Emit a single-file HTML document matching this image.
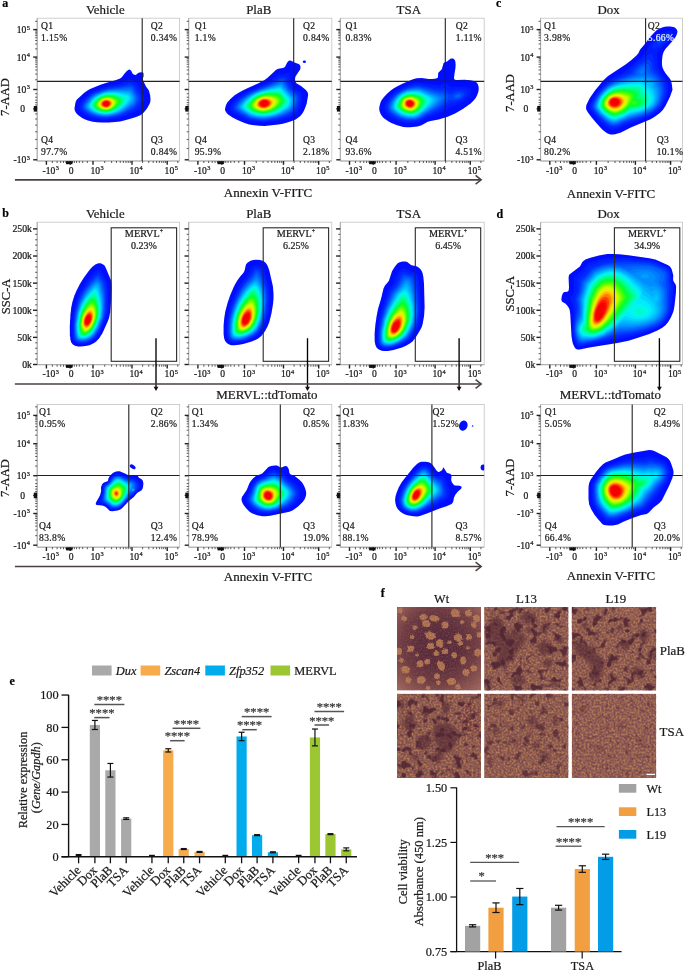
<!DOCTYPE html>
<html><head><meta charset="utf-8"><style>
html,body{margin:0;padding:0;background:#fff;}
svg{display:block;font-family:"Liberation Serif","Times New Roman",serif;}
text{stroke:#1a1a1a;stroke-width:0.22px;}
text.w{stroke:#e8f0ff;}
</style></head><body>
<svg width="685" height="972" viewBox="0 0 685 972">
<defs><filter id="bl" x="-10%" y="-10%" width="120%" height="120%"><feGaussianBlur stdDeviation="0.6"/></filter></defs>
<rect width="685" height="972" fill="#fff"/>
<text x="2.3" y="7.2" font-size="12" font-weight="bold" fill="#000">a</text>
<text x="496" y="7.2" font-size="12" font-weight="bold" fill="#000">c</text>
<text x="2.3" y="216.8" font-size="12" font-weight="bold" fill="#000">b</text>
<text x="496.6" y="217.8" font-size="12" font-weight="bold" fill="#000">d</text>
<text x="105.3" y="14.3" font-size="12.9" text-anchor="middle" fill="#1a1a1a">Vehicle</text>
<text x="105.3" y="218.2" font-size="12.9" text-anchor="middle" fill="#1a1a1a">Vehicle</text>
<text x="258.7" y="14.3" font-size="12.9" text-anchor="middle" fill="#1a1a1a">PlaB</text>
<text x="258.7" y="218.2" font-size="12.9" text-anchor="middle" fill="#1a1a1a">PlaB</text>
<text x="408.8" y="14.3" font-size="12.9" text-anchor="middle" fill="#1a1a1a">TSA</text>
<text x="408.8" y="218.2" font-size="12.9" text-anchor="middle" fill="#1a1a1a">TSA</text>
<text x="608.6" y="14.3" font-size="12.9" text-anchor="middle" fill="#1a1a1a">Dox</text>
<text x="608.6" y="218.2" font-size="12.9" text-anchor="middle" fill="#1a1a1a">Dox</text>
<rect x="37.2" y="18.2" width="142.4" height="142.8" fill="none" stroke="#c9c9c9" stroke-width="0.9"/>
<line x1="37.2" y1="18.2" x2="37.2" y2="161" stroke="#a8a8a8" stroke-width="1"/>
<line x1="37.2" y1="161" x2="179.6" y2="161" stroke="#a8a8a8" stroke-width="1"/>
<clipPath id="clip_a0"><rect x="37.2" y="18.2" width="142.4" height="142.8"/></clipPath><g clip-path="url(#clip_a0)"><g filter="url(#bl)"><path d="M74.6 107.7 75.5 102.5 76.0 101.0 76.9 99.5 84.0 93.0 87.1 90.7 90.1 89.0 100.5 84.7 106.7 82.7 115.4 80.2 120.1 78.5 121.8 77.2 124.6 73.5 126.9 71.0 128.2 69.9 129.0 69.6 129.9 69.7 131.0 70.5 132.7 73.7 133.3 74.3 134.4 74.8 135.6 74.9 136.4 74.6 138.2 73.0 139.5 72.4 141.9 72.2 142.9 72.4 143.4 72.9 143.6 74.5 143.5 76.5 142.9 78.8 143.0 80.0 143.9 82.3 146.0 86.5 148.4 89.7 149.0 91.0 150.2 95.5 150.5 99.7 150.2 101.9 149.5 104.0 147.0 108.6 143.5 112.8 141.8 114.2 139.8 115.4 136.0 117.0 132.1 118.3 124.1 120.6 120.0 121.5 115.1 122.1 108.7 122.6 102.4 122.6 96.9 122.3 93.0 121.7 87.9 120.4 84.0 119.0 81.5 117.6 78.0 115.0 76.1 113.0 74.7 110.2 74.5 108.3Z" fill="#000aff" fill-rule="evenodd"/><path d="M107.6 119.6 101.6 119.6 95.1 118.7 89.8 117.1 84.5 114.6 81.1 111.9 79.5 109.1 79.4 105.6 80.6 102.1 84.3 97.9 89.5 93.4 93.6 91.0 100.6 88.1 107.9 86.0 121.1 83.1 128.4 79.4 129.9 79.5 136.1 81.9 137.2 83.1 142.7 93.1 143.8 96.4 144.0 99.1 143.6 101.6 140.6 107.4 138.6 109.4 135.6 111.4 125.4 116.0 118.4 118.2 107.6 119.6Z" fill="#001eff" fill-rule="evenodd"/><path d="M108.4 118.4 102.6 118.4 96.9 117.7 91.9 116.4 86.6 114.0 83.3 111.6 81.5 109.1 81.1 106.4 82.1 103.1 85.4 98.9 90.4 94.4 94.6 91.9 101.1 89.3 108.9 87.1 121.9 85.0 128.9 82.4 131.1 82.7 134.4 84.2 135.6 85.7 140.1 93.6 141.3 96.6 141.5 98.9 141.1 101.1 138.5 106.1 136.9 107.9 134.1 109.9 124.4 114.7 117.9 116.8 108.4 118.4Z" fill="#002cff" fill-rule="evenodd"/><path d="M105.6 117.6 99.1 117.2 93.6 115.9 88.1 113.5 84.7 111.1 82.9 108.8 82.5 106.1 83.3 103.6 85.9 100.1 89.6 96.4 92.6 94.1 96.4 92.2 102.6 89.7 110.1 87.9 122.6 86.3 128.9 84.6 130.9 84.7 133.2 85.9 134.4 87.4 138.4 94.3 139.4 97.1 139.2 100.9 136.6 105.6 134.4 107.6 131.3 109.6 120.9 114.8 113.1 116.8 105.6 117.6Z" fill="#003fff" fill-rule="evenodd"/><path d="M107.1 116.9 102.1 116.8 97.1 116.0 92.6 114.6 88.4 112.5 85.5 110.4 84.0 108.4 83.6 106.1 84.6 103.6 87.6 99.6 91.8 95.6 95.6 93.3 101.9 90.8 109.4 88.9 122.7 87.6 128.9 86.4 130.6 86.5 132.1 87.2 133.4 88.7 136.6 94.4 137.8 97.4 137.6 100.6 135.5 104.6 133.4 106.6 130.1 108.9 121.3 113.6 115.1 115.6 107.1 116.9Z" fill="#0056ff" fill-rule="evenodd"/><path d="M106.1 116.4 100.4 116.0 94.9 114.7 89.4 112.2 85.9 109.6 84.7 107.6 84.7 105.4 86.3 102.4 89.2 98.9 92.1 96.2 95.4 94.1 100.9 91.7 104.9 90.5 111.4 89.3 123.1 88.6 128.9 87.8 130.4 87.9 131.7 88.6 135.5 94.9 136.6 97.6 136.2 100.9 134.1 104.4 127.9 109.1 120.1 113.4 113.1 115.5 106.1 116.4Z" fill="#0069ff" fill-rule="evenodd"/><path d="M108.9 115.6 104.6 115.8 100.4 115.5 96.4 114.6 92.4 113.0 88.6 110.8 86.2 108.6 85.5 106.6 86.1 104.4 88.9 100.4 92.6 96.6 96.6 94.2 102.6 91.7 108.4 90.3 113.4 89.8 128.9 89.3 131.1 90.1 134.2 94.9 135.4 97.9 135.0 100.6 133.4 103.4 127.9 107.9 121.0 112.1 115.9 114.1 108.9 115.6Z" fill="#007cff" fill-rule="evenodd"/><path d="M107.6 115.4 103.4 115.4 99.1 114.8 95.1 113.7 91.7 112.1 88.4 109.9 86.6 108.0 86.2 106.1 87.0 103.9 90.2 99.6 93.4 96.6 97.6 94.1 103.4 91.9 108.9 90.7 114.1 90.3 128.6 90.3 130.9 91.2 133.5 95.4 134.5 98.1 134.0 100.9 132.2 103.4 125.7 108.6 119.9 112.1 114.1 114.2 107.6 115.4Z" fill="#008dff" fill-rule="evenodd"/><path d="M108.9 114.9 104.9 115.1 101.1 114.8 97.1 113.9 93.4 112.4 89.6 110.2 87.6 108.3 86.9 106.6 87.5 104.4 90.4 100.1 93.6 97.0 97.6 94.6 103.4 92.3 108.9 91.1 114.1 90.8 128.1 91.3 130.4 92.1 132.6 95.4 133.5 98.1 133.1 100.5 131.5 102.9 125.6 107.9 120.2 111.4 115.1 113.4 108.9 114.9Z" fill="#009fff" fill-rule="evenodd"/><path d="M107.6 114.6 102.6 114.6 97.4 113.5 92.9 111.6 88.7 108.6 87.7 106.9 87.9 104.9 89.7 101.9 92.7 98.4 95.9 96.0 100.1 93.9 103.9 92.5 108.9 91.6 115.1 91.3 127.4 92.2 129.1 92.6 130.4 93.6 132.2 96.6 132.5 99.1 131.4 101.6 128.4 104.6 123.4 108.8 118.6 111.6 113.1 113.6 107.6 114.6Z" fill="#00b0ff" fill-rule="evenodd"/><path d="M108.6 114.1 104.9 114.4 101.1 114.0 97.4 113.1 93.9 111.6 90.5 109.4 88.8 107.6 88.4 105.9 89.1 103.9 91.9 99.9 94.9 97.1 99.4 94.6 104.6 92.8 110.1 91.9 115.9 91.9 127.4 93.3 128.9 93.7 129.9 94.5 131.4 97.1 131.4 99.4 130.1 101.6 126.7 105.1 122.5 108.6 118.4 111.2 113.6 113.0 108.6 114.1Z" fill="#00c3fe" fill-rule="evenodd"/><path d="M107.4 113.9 102.6 113.8 97.6 112.7 93.2 110.6 89.8 107.9 89.1 106.1 89.7 104.1 91.9 100.6 94.4 98.1 97.6 95.9 101.9 94.0 105.4 93.0 109.9 92.4 114.6 92.4 120.6 93.1 127.4 94.4 129.4 95.6 130.5 97.9 130.0 99.9 127.3 103.4 123.1 107.4 119.6 109.9 116.1 111.6 111.6 113.1 107.4 113.9Z" fill="#00d7fc" fill-rule="evenodd"/><path d="M108.4 113.4 103.9 113.5 99.4 112.8 95.1 111.1 91.8 108.9 90.2 107.1 89.9 105.6 90.7 103.4 92.8 100.4 95.8 97.6 99.6 95.4 103.9 93.8 108.6 92.9 113.4 92.8 118.6 93.5 126.4 95.2 128.6 96.5 129.3 98.1 128.6 100.1 125.8 103.6 122.0 107.4 116.1 111.1 112.1 112.6 108.4 113.4Z" fill="#00ebfb" fill-rule="evenodd"/><path d="M107.1 113.1 102.6 113.0 98.1 111.9 94.1 109.9 91.2 107.4 90.7 105.6 91.3 103.6 93.3 100.6 95.8 98.1 99.1 96.1 102.9 94.5 106.4 93.7 110.4 93.3 114.6 93.5 119.4 94.4 125.5 96.1 127.4 97.4 127.7 98.9 126.6 101.1 123.3 105.1 120.0 108.1 114.1 111.4 110.6 112.6 107.1 113.1Z" fill="#00f7e9" fill-rule="evenodd"/><path d="M108.1 112.6 104.1 112.8 100.1 112.1 96.4 110.6 93.3 108.6 91.8 106.9 91.5 105.4 92.3 103.1 94.2 100.4 97.0 97.9 100.6 95.8 104.4 94.5 108.6 93.8 112.9 93.9 117.4 94.6 123.1 96.4 125.7 97.9 126.1 99.1 125.3 101.1 122.7 104.6 119.9 107.4 114.6 110.7 108.1 112.6Z" fill="#00fac8" fill-rule="evenodd"/><path d="M106.9 112.4 102.9 112.3 99.1 111.3 95.7 109.6 93.0 107.4 92.3 105.6 92.6 103.9 94.2 101.1 96.4 98.9 99.4 96.9 102.8 95.4 105.9 94.6 109.6 94.2 113.6 94.5 117.6 95.4 121.9 96.9 124.1 98.4 124.5 99.9 123.7 101.9 121.5 104.9 118.6 107.6 113.0 110.9 106.9 112.4Z" fill="#00fda7" fill-rule="evenodd"/><path d="M107.6 111.9 103.6 111.9 99.9 111.1 96.6 109.6 93.9 107.4 93.1 105.9 93.2 104.1 94.5 101.6 96.6 99.4 99.4 97.4 102.6 95.9 105.6 95.1 109.1 94.7 112.6 94.9 116.1 95.7 120.1 97.1 122.5 98.6 123.1 99.9 122.6 101.6 120.9 104.4 118.5 106.9 113.6 110.1 107.6 111.9Z" fill="#00ff84" fill-rule="evenodd"/><path d="M106.1 111.6 102.6 111.4 99.4 110.4 96.5 108.9 94.4 106.9 93.8 105.4 94.1 103.6 95.4 101.4 97.4 99.3 99.9 97.6 102.9 96.2 105.6 95.5 109.1 95.2 112.4 95.5 115.6 96.2 119.1 97.6 121.2 99.1 121.7 100.6 121.1 102.4 119.2 105.1 117.0 107.4 111.8 110.4 108.9 111.3 106.1 111.6Z" fill="#00ff5f" fill-rule="evenodd"/><path d="M107.1 111.2 103.9 111.1 100.6 110.4 97.6 109.0 95.4 107.1 94.6 105.6 94.7 103.9 95.8 101.9 97.5 99.9 99.9 98.1 102.6 96.8 105.4 96.0 108.4 95.7 111.5 95.9 114.7 96.6 117.7 97.9 119.8 99.4 120.4 100.6 120.1 102.1 118.8 104.4 116.9 106.6 112.4 109.6 107.1 111.2Z" fill="#00ff3a" fill-rule="evenodd"/><path d="M107.9 110.6 104.9 110.8 102.0 110.4 99.1 109.2 96.8 107.6 95.6 106.1 95.3 104.6 95.9 102.9 97.4 100.7 99.4 99.0 101.9 97.6 104.6 96.6 107.4 96.2 110.4 96.3 113.3 96.9 116.1 98.0 118.3 99.4 119.1 100.6 119.1 101.9 118.2 103.9 116.6 105.9 112.6 109.0 107.9 110.6Z" fill="#14ff20" fill-rule="evenodd"/><path d="M106.6 110.4 103.9 110.3 101.4 109.7 98.9 108.5 97.0 106.9 96.2 105.6 96.1 104.1 96.8 102.4 98.2 100.6 102.4 97.8 107.1 96.7 112.6 97.3 115.2 98.4 117.1 99.6 117.9 100.9 117.9 102.4 117.1 104.1 115.5 106.1 111.4 109.1 106.6 110.4Z" fill="#3cff10" fill-rule="evenodd"/><path d="M107.1 109.9 104.6 110.0 102.1 109.5 99.9 108.5 98.1 107.1 97.1 105.8 96.8 104.4 98.3 101.4 101.9 98.5 106.4 97.2 111.4 97.6 115.7 99.6 116.7 100.9 116.9 102.1 115.2 105.4 111.6 108.4 107.1 109.9Z" fill="#64ff00" fill-rule="evenodd"/><path d="M107.6 109.4 104.6 109.5 101.8 108.9 99.3 107.4 97.7 105.4 97.7 103.6 98.8 101.6 100.9 99.7 103.4 98.3 106.6 97.6 110.4 97.9 113.6 99.2 115.6 101.1 115.5 103.4 113.7 106.1 110.9 108.3 107.6 109.4Z" fill="#92ff00" fill-rule="evenodd"/><path d="M106.4 109.1 102.5 108.6 99.4 106.7 98.3 104.4 99.3 101.9 102.1 99.4 105.9 98.1 109.9 98.3 113.3 99.9 114.3 100.9 114.8 102.1 114.5 103.6 113.5 105.4 110.4 108.0 106.4 109.1Z" fill="#c0ff00" fill-rule="evenodd"/><path d="M106.9 108.7 103.6 108.5 100.7 107.1 99.2 105.1 99.4 102.9 101.4 100.5 104.4 98.9 107.9 98.6 111.1 99.4 113.5 101.4 113.8 102.6 113.4 104.1 112.5 105.6 110.8 107.1 108.9 108.2 106.9 108.7Z" fill="#e2f500" fill-rule="evenodd"/><path d="M107.4 108.1 105.1 108.3 103.1 107.9 101.3 106.9 100.1 105.4 99.8 104.1 100.2 102.6 101.4 101.1 103.1 99.9 105.6 99.1 108.4 99.1 111.1 100.1 112.6 101.6 112.8 103.4 111.9 105.4 109.9 107.1 107.4 108.1Z" fill="#f9e100" fill-rule="evenodd"/><path d="M105.9 107.9 103.4 107.5 101.3 106.1 100.5 104.4 101.0 102.4 102.8 100.6 105.1 99.6 107.9 99.6 110.3 100.4 111.5 101.4 112.0 102.4 112.0 103.6 111.4 104.9 109.1 107.0 105.9 107.9Z" fill="#ffb400" fill-rule="evenodd"/><path d="M106.6 107.4 104.6 107.3 102.9 106.7 101.6 105.5 101.2 104.1 101.6 102.6 102.9 101.2 104.6 100.3 106.6 99.9 109.9 100.9 110.8 101.9 111.2 103.1 110.8 104.6 109.8 105.9 108.4 106.9 106.6 107.4Z" fill="#ff7d00" fill-rule="evenodd"/><path d="M106.9 106.9 103.9 106.6 102.0 104.9 101.8 103.9 102.2 102.6 103.1 101.6 104.6 100.7 106.4 100.4 108.1 100.7 109.6 101.5 110.3 102.6 110.4 103.9 109.8 105.1 108.6 106.2 106.9 106.9Z" fill="#ff4100" fill-rule="evenodd"/><path d="M106.9 106.4 104.4 106.3 102.7 104.9 102.8 102.9 104.4 101.4 105.9 100.9 107.4 101.0 108.7 101.6 109.5 102.6 109.7 103.6 109.2 104.9 108.2 105.9 106.9 106.4Z" fill="#ff1400" fill-rule="evenodd"/><path d="M107.1 105.9 105.1 106.0 103.6 105.1 103.1 103.6 104.1 102.1 106.4 101.4 107.6 101.7 108.6 102.4 109.0 103.4 108.8 104.4 107.1 105.9Z" fill="#f50000" fill-rule="evenodd"/></g></g>
<line x1="142.2" y1="18.2" x2="142.2" y2="161" stroke="#222" stroke-width="1.1"/>
<line x1="37.2" y1="81.4" x2="179.6" y2="81.4" stroke="#222" stroke-width="1.1"/>
<text x="41" y="29.1" font-size="9.6" fill="#1a1a1a" letter-spacing="0.35">Q1</text>
<text x="41" y="40.8" font-size="9.6" fill="#1a1a1a" letter-spacing="0.35">1.15%</text>
<text x="150.8" y="29.1" font-size="9.6" fill="#1a1a1a" letter-spacing="0.35">Q2</text>
<text x="150.8" y="40.8" font-size="9.6" fill="#1a1a1a" letter-spacing="0.35">0.34%</text>
<text x="41" y="142.8" font-size="9.6" fill="#1a1a1a" letter-spacing="0.35">Q4</text>
<text x="41" y="155.1" font-size="9.6" fill="#1a1a1a" letter-spacing="0.35">97.7%</text>
<text x="150.8" y="142.8" font-size="9.6" fill="#1a1a1a" letter-spacing="0.35">Q3</text>
<text x="150.8" y="155.1" font-size="9.6" fill="#1a1a1a" letter-spacing="0.35">0.84%</text>
<line x1="46.4" y1="161" x2="46.4" y2="164.8" stroke="#222" stroke-width="1.4"/>
<line x1="70.2" y1="161" x2="70.2" y2="164.8" stroke="#222" stroke-width="1.4"/>
<line x1="93" y1="161" x2="93" y2="164.8" stroke="#222" stroke-width="1.4"/>
<line x1="132" y1="161" x2="132" y2="164.8" stroke="#222" stroke-width="1.4"/>
<line x1="167.2" y1="161" x2="167.2" y2="164.8" stroke="#222" stroke-width="1.4"/>
<line x1="52.35" y1="161" x2="52.35" y2="163" stroke="#444" stroke-width="0.9"/>
<line x1="57.11" y1="161" x2="57.11" y2="163" stroke="#444" stroke-width="0.9"/>
<line x1="60.68" y1="161" x2="60.68" y2="163" stroke="#444" stroke-width="0.9"/>
<line x1="63.54" y1="161" x2="63.54" y2="163" stroke="#444" stroke-width="0.9"/>
<line x1="65.92" y1="161" x2="65.92" y2="163" stroke="#444" stroke-width="0.9"/>
<line x1="67.82" y1="161" x2="67.82" y2="163" stroke="#444" stroke-width="0.9"/>
<line x1="72.48" y1="161" x2="72.48" y2="163" stroke="#444" stroke-width="0.9"/>
<line x1="74.3" y1="161" x2="74.3" y2="163" stroke="#444" stroke-width="0.9"/>
<line x1="76.58" y1="161" x2="76.58" y2="163" stroke="#444" stroke-width="0.9"/>
<line x1="79.32" y1="161" x2="79.32" y2="163" stroke="#444" stroke-width="0.9"/>
<line x1="82.74" y1="161" x2="82.74" y2="163" stroke="#444" stroke-width="0.9"/>
<line x1="87.3" y1="161" x2="87.3" y2="163" stroke="#444" stroke-width="0.9"/>
<line x1="104.74" y1="161" x2="104.74" y2="163" stroke="#444" stroke-width="0.9"/>
<line x1="111.61" y1="161" x2="111.61" y2="163" stroke="#444" stroke-width="0.9"/>
<line x1="116.48" y1="161" x2="116.48" y2="163" stroke="#444" stroke-width="0.9"/>
<line x1="120.26" y1="161" x2="120.26" y2="163" stroke="#444" stroke-width="0.9"/>
<line x1="123.35" y1="161" x2="123.35" y2="163" stroke="#444" stroke-width="0.9"/>
<line x1="125.96" y1="161" x2="125.96" y2="163" stroke="#444" stroke-width="0.9"/>
<line x1="128.22" y1="161" x2="128.22" y2="163" stroke="#444" stroke-width="0.9"/>
<line x1="130.22" y1="161" x2="130.22" y2="163" stroke="#444" stroke-width="0.9"/>
<line x1="142.6" y1="161" x2="142.6" y2="163" stroke="#444" stroke-width="0.9"/>
<line x1="148.79" y1="161" x2="148.79" y2="163" stroke="#444" stroke-width="0.9"/>
<line x1="153.19" y1="161" x2="153.19" y2="163" stroke="#444" stroke-width="0.9"/>
<line x1="156.6" y1="161" x2="156.6" y2="163" stroke="#444" stroke-width="0.9"/>
<line x1="159.39" y1="161" x2="159.39" y2="163" stroke="#444" stroke-width="0.9"/>
<line x1="161.75" y1="161" x2="161.75" y2="163" stroke="#444" stroke-width="0.9"/>
<line x1="163.79" y1="161" x2="163.79" y2="163" stroke="#444" stroke-width="0.9"/>
<line x1="165.59" y1="161" x2="165.59" y2="163" stroke="#444" stroke-width="0.9"/>
<line x1="177.8" y1="161" x2="177.8" y2="163" stroke="#444" stroke-width="0.9"/>
<rect x="66" y="161.2" width="6.4" height="3" fill="#111"/>
<text x="42.5" y="173.6" font-size="9.6" fill="#1a1a1a">-10<tspan font-size="6.34" dx="0.5" dy="-3.46">3</tspan></text>
<text x="71.2" y="173.6" font-size="9.6" text-anchor="middle" fill="#1a1a1a">0</text>
<text x="90.4" y="173.6" font-size="9.6" fill="#1a1a1a">10<tspan font-size="6.34" dx="0.5" dy="-3.46">3</tspan></text>
<text x="129.4" y="173.6" font-size="9.6" fill="#1a1a1a">10<tspan font-size="6.34" dx="0.5" dy="-3.46">4</tspan></text>
<text x="164.6" y="173.6" font-size="9.6" fill="#1a1a1a">10<tspan font-size="6.34" dx="0.5" dy="-3.46">5</tspan></text>
<line x1="33.2" y1="29.6" x2="37.2" y2="29.6" stroke="#222" stroke-width="1.4"/>
<line x1="33.2" y1="57.1" x2="37.2" y2="57.1" stroke="#222" stroke-width="1.4"/>
<line x1="33.2" y1="89.5" x2="37.2" y2="89.5" stroke="#222" stroke-width="1.4"/>
<line x1="33.2" y1="108.8" x2="37.2" y2="108.8" stroke="#222" stroke-width="1.4"/>
<line x1="33.2" y1="159.8" x2="37.2" y2="159.8" stroke="#222" stroke-width="1.4"/>
<line x1="35.2" y1="48.82" x2="37.2" y2="48.82" stroke="#444" stroke-width="0.9"/>
<line x1="35.2" y1="43.98" x2="37.2" y2="43.98" stroke="#444" stroke-width="0.9"/>
<line x1="35.2" y1="40.54" x2="37.2" y2="40.54" stroke="#444" stroke-width="0.9"/>
<line x1="35.2" y1="37.88" x2="37.2" y2="37.88" stroke="#444" stroke-width="0.9"/>
<line x1="35.2" y1="35.7" x2="37.2" y2="35.7" stroke="#444" stroke-width="0.9"/>
<line x1="35.2" y1="33.86" x2="37.2" y2="33.86" stroke="#444" stroke-width="0.9"/>
<line x1="35.2" y1="32.27" x2="37.2" y2="32.27" stroke="#444" stroke-width="0.9"/>
<line x1="35.2" y1="30.86" x2="37.2" y2="30.86" stroke="#444" stroke-width="0.9"/>
<line x1="35.2" y1="79.75" x2="37.2" y2="79.75" stroke="#444" stroke-width="0.9"/>
<line x1="35.2" y1="74.04" x2="37.2" y2="74.04" stroke="#444" stroke-width="0.9"/>
<line x1="35.2" y1="69.99" x2="37.2" y2="69.99" stroke="#444" stroke-width="0.9"/>
<line x1="35.2" y1="66.85" x2="37.2" y2="66.85" stroke="#444" stroke-width="0.9"/>
<line x1="35.2" y1="64.29" x2="37.2" y2="64.29" stroke="#444" stroke-width="0.9"/>
<line x1="35.2" y1="62.12" x2="37.2" y2="62.12" stroke="#444" stroke-width="0.9"/>
<line x1="35.2" y1="60.24" x2="37.2" y2="60.24" stroke="#444" stroke-width="0.9"/>
<line x1="35.2" y1="58.58" x2="37.2" y2="58.58" stroke="#444" stroke-width="0.9"/>
<line x1="35.2" y1="106.87" x2="37.2" y2="106.87" stroke="#444" stroke-width="0.9"/>
<line x1="35.2" y1="104.94" x2="37.2" y2="104.94" stroke="#444" stroke-width="0.9"/>
<line x1="35.2" y1="102.62" x2="37.2" y2="102.62" stroke="#444" stroke-width="0.9"/>
<line x1="35.2" y1="100.11" x2="37.2" y2="100.11" stroke="#444" stroke-width="0.9"/>
<line x1="35.2" y1="97.22" x2="37.2" y2="97.22" stroke="#444" stroke-width="0.9"/>
<line x1="35.2" y1="93.75" x2="37.2" y2="93.75" stroke="#444" stroke-width="0.9"/>
<line x1="35.2" y1="113.9" x2="37.2" y2="113.9" stroke="#444" stroke-width="0.9"/>
<line x1="35.2" y1="119" x2="37.2" y2="119" stroke="#444" stroke-width="0.9"/>
<line x1="35.2" y1="125.12" x2="37.2" y2="125.12" stroke="#444" stroke-width="0.9"/>
<line x1="35.2" y1="131.75" x2="37.2" y2="131.75" stroke="#444" stroke-width="0.9"/>
<line x1="35.2" y1="139.4" x2="37.2" y2="139.4" stroke="#444" stroke-width="0.9"/>
<line x1="35.2" y1="148.58" x2="37.2" y2="148.58" stroke="#444" stroke-width="0.9"/>
<line x1="35.2" y1="21.32" x2="37.2" y2="21.32" stroke="#444" stroke-width="0.9"/>
<rect x="33.8" y="106" width="3.2" height="5.6" fill="#111"/>
<text x="16.73" y="33" font-size="9.6" fill="#1a1a1a">10<tspan font-size="6.34" dx="0.5" dy="-3.46">5</tspan></text>
<text x="16.73" y="60.5" font-size="9.6" fill="#1a1a1a">10<tspan font-size="6.34" dx="0.5" dy="-3.46">4</tspan></text>
<text x="16.73" y="92.9" font-size="9.6" fill="#1a1a1a">10<tspan font-size="6.34" dx="0.5" dy="-3.46">3</tspan></text>
<text x="22.6" y="112.2" font-size="9.6" text-anchor="middle" fill="#1a1a1a">0</text>
<text x="13.54" y="163.2" font-size="9.6" fill="#1a1a1a">-10<tspan font-size="6.34" dx="0.5" dy="-3.46">3</tspan></text>
<rect x="188.7" y="18.2" width="143.1" height="142.8" fill="none" stroke="#c9c9c9" stroke-width="0.9"/>
<line x1="188.7" y1="18.2" x2="188.7" y2="161" stroke="#a8a8a8" stroke-width="1"/>
<line x1="188.7" y1="161" x2="331.8" y2="161" stroke="#a8a8a8" stroke-width="1"/>
<clipPath id="clip_a1"><rect x="188.7" y="18.2" width="143.1" height="142.8"/></clipPath><g clip-path="url(#clip_a1)"><g filter="url(#bl)"><path d="M225.1 108.4 226.0 105.0 227.3 102.6 230.4 99.0 234.6 95.3 238.6 92.7 243.2 90.3 247.9 87.9 258.0 83.5 264.2 80.2 267.6 77.8 275.9 70.1 277.1 69.3 278.4 68.8 282.8 68.1 284.2 67.5 285.2 66.4 287.2 62.4 288.8 60.8 290.0 60.5 291.0 60.7 294.5 62.4 298.6 63.9 299.9 65.0 300.5 66.7 300.3 69.0 299.8 70.1 297.8 72.9 295.5 76.6 295.0 79.0 295.3 81.6 296.4 83.3 301.0 85.9 305.9 90.0 307.6 92.3 308.0 93.7 308.1 95.2 306.7 103.5 305.3 107.6 303.8 111.1 302.5 113.2 300.3 115.9 297.7 118.1 295.6 119.4 293.2 120.6 288.9 122.1 282.8 123.7 278.3 124.5 264.7 125.9 259.3 125.8 252.5 125.1 249.2 124.5 244.6 123.1 237.5 120.0 232.6 117.5 228.8 115.0 227.0 113.5 225.1 110.6 225.0 108.9Z" fill="#000aff" fill-rule="evenodd"/><path d="M262.9 122.6 256.4 122.2 249.9 121.0 245.4 119.4 238.2 115.9 233.1 112.5 230.9 110.4 230.2 108.1 231.1 105.1 233.2 102.1 236.6 98.6 240.6 95.6 246.8 91.9 267.6 82.3 279.4 74.6 289.1 72.8 289.7 73.9 290.1 80.9 291.5 84.6 293.9 87.4 300.1 92.0 301.6 93.6 302.3 95.1 302.4 97.6 301.9 101.4 300.7 105.6 299.3 108.9 297.3 111.9 294.7 114.4 291.9 116.2 287.6 118.0 282.6 119.6 275.6 121.2 262.9 122.6Z" fill="#001eff" fill-rule="evenodd"/><path d="M265.6 121.1 261.4 121.3 255.1 120.6 250.1 119.6 245.7 117.9 238.6 114.2 233.8 110.6 232.4 108.4 232.9 105.9 235.1 102.6 238.5 99.1 242.0 96.4 248.1 92.6 268.9 83.4 280.1 76.8 282.9 76.2 285.9 76.5 287.0 77.6 288.6 83.1 290.5 86.6 292.6 88.9 297.9 92.9 299.8 95.4 300.2 97.4 300.0 100.1 297.9 107.1 296.2 110.1 294.1 112.4 291.6 114.2 287.9 116.1 282.6 118.0 276.9 119.5 265.6 121.1Z" fill="#002cff" fill-rule="evenodd"/><path d="M265.9 120.1 261.9 120.3 256.4 119.8 251.1 118.8 247.3 117.4 240.1 113.6 235.7 110.4 234.2 108.4 234.5 106.1 236.6 102.9 239.7 99.6 243.2 96.9 249.1 93.1 255.4 90.1 270.1 84.1 280.4 78.6 282.4 78.1 284.3 78.4 285.4 79.4 287.3 84.1 289.4 87.6 291.8 90.1 296.6 93.9 298.1 95.9 298.5 97.6 298.4 99.9 296.5 106.4 295.0 109.1 293.0 111.4 290.6 113.2 286.9 115.1 282.1 116.9 276.4 118.5 265.9 120.1Z" fill="#003fff" fill-rule="evenodd"/><path d="M265.1 119.4 261.4 119.5 256.1 118.9 251.2 117.9 247.6 116.5 241.0 112.9 237.3 110.1 235.8 108.1 236.0 105.9 238.0 102.9 241.2 99.6 250.1 93.4 256.6 90.4 271.1 84.8 280.4 80.2 281.9 79.8 283.1 80.0 284.4 81.1 286.6 85.6 288.9 88.9 295.3 94.6 296.7 96.4 297.1 97.9 296.9 100.1 295.1 106.4 293.6 108.9 291.6 110.9 285.4 114.6 275.4 117.8 265.1 119.4Z" fill="#0056ff" fill-rule="evenodd"/><path d="M263.6 118.9 254.9 118.1 250.9 117.1 247.4 115.6 241.4 112.1 238.2 109.6 236.9 107.6 237.3 105.6 239.4 102.6 242.7 99.4 247.7 95.6 251.4 93.4 258.1 90.4 271.9 85.3 279.9 81.7 281.4 81.3 282.6 81.5 283.6 82.4 288.3 89.6 294.4 95.2 295.6 96.9 296.0 98.4 295.8 100.6 294.0 106.4 292.6 108.6 290.4 110.7 287.1 112.8 283.1 114.6 274.1 117.4 263.6 118.9Z" fill="#0069ff" fill-rule="evenodd"/><path d="M265.4 118.1 261.6 118.2 256.9 117.8 252.1 116.7 248.6 115.4 243.7 112.6 239.6 109.6 238.2 107.6 238.5 105.6 240.4 102.9 243.6 99.6 248.5 95.9 252.4 93.6 259.0 90.6 272.1 86.1 279.4 83.2 280.9 82.8 282.1 83.1 283.1 84.0 287.6 90.4 294.4 97.2 294.8 98.6 294.7 100.4 293.1 105.8 291.8 107.9 289.9 109.9 283.1 113.7 274.6 116.6 265.4 118.1Z" fill="#007cff" fill-rule="evenodd"/><path d="M265.9 117.6 262.1 117.8 257.4 117.4 252.9 116.4 249.4 115.2 244.7 112.6 240.3 109.4 239.1 107.6 239.3 105.6 241.2 102.9 244.4 99.6 248.9 96.1 253.1 93.6 260.1 90.6 278.9 84.2 280.4 83.8 281.6 84.0 282.9 85.0 287.6 91.4 293.5 97.4 293.9 100.4 292.5 105.4 291.1 107.6 289.4 109.4 282.9 113.2 274.6 116.1 265.9 117.6Z" fill="#008dff" fill-rule="evenodd"/><path d="M263.9 117.4 256.1 116.7 251.9 115.6 248.8 114.4 244.6 111.9 240.9 109.0 239.8 107.1 240.2 105.4 242.4 102.4 245.8 99.1 250.0 95.9 254.4 93.4 261.4 90.6 278.6 85.1 280.4 84.8 281.6 85.1 286.9 91.6 292.8 97.9 293.2 99.4 293.0 101.1 291.6 105.6 290.2 107.6 288.1 109.5 281.1 113.4 273.4 115.9 263.9 117.4Z" fill="#009fff" fill-rule="evenodd"/><path d="M264.9 116.9 257.1 116.4 252.9 115.4 249.6 114.2 245.3 111.6 241.8 108.9 240.7 107.1 241.1 105.4 243.5 102.1 246.9 98.9 250.8 95.9 255.1 93.5 263.1 90.4 278.1 86.1 280.1 85.8 281.4 86.1 291.9 98.1 292.2 101.1 290.9 105.4 289.4 107.4 287.4 109.1 280.8 112.9 273.6 115.4 264.9 116.9Z" fill="#00b0ff" fill-rule="evenodd"/><path d="M265.4 116.4 261.9 116.5 257.6 116.1 250.2 113.9 246.0 111.4 242.6 108.7 241.7 107.1 241.9 105.4 244.3 102.1 248.3 98.4 251.7 95.9 255.8 93.6 260.9 91.6 267.4 89.7 278.6 86.8 281.1 87.1 291.0 98.4 291.4 101.1 290.3 104.9 288.9 106.8 286.9 108.6 280.6 112.3 273.6 114.9 265.4 116.4Z" fill="#00c3fe" fill-rule="evenodd"/><path d="M265.9 115.9 262.4 116.1 258.1 115.7 254.1 114.8 250.6 113.5 246.9 111.3 243.6 108.6 242.6 106.9 243.0 105.1 245.4 101.9 249.3 98.1 252.5 95.9 256.6 93.7 261.6 91.8 268.1 90.0 278.4 87.8 280.9 88.1 290.1 98.6 290.6 101.1 289.5 104.6 288.2 106.4 286.3 108.1 280.1 111.9 273.6 114.4 265.9 115.9Z" fill="#00d7fc" fill-rule="evenodd"/><path d="M263.4 115.6 256.1 114.8 249.7 112.4 246.0 109.9 244.0 107.9 243.5 106.4 244.1 104.6 246.4 101.6 250.4 97.9 253.8 95.6 257.8 93.6 263.4 91.7 269.9 90.2 278.4 88.6 280.9 89.2 289.3 99.1 289.6 101.9 288.4 104.9 284.4 108.6 277.6 112.4 271.1 114.5 263.4 115.6Z" fill="#00ebfb" fill-rule="evenodd"/><path d="M264.1 115.1 256.9 114.5 250.4 112.1 247.1 109.9 245.0 107.9 244.5 106.4 245.0 104.6 247.3 101.6 250.9 98.1 254.2 95.9 258.4 93.9 263.9 92.0 270.1 90.7 278.1 89.5 280.6 90.1 282.6 92.1 288.4 99.3 288.7 101.6 287.6 104.4 283.8 108.1 277.6 111.7 271.6 113.9 264.1 115.1Z" fill="#00f7e9" fill-rule="evenodd"/><path d="M264.6 114.6 257.6 114.1 251.2 111.9 248.1 109.9 246.1 107.9 245.5 106.4 245.9 104.6 248.1 101.6 251.4 98.4 254.9 96.0 258.9 94.1 264.4 92.4 270.1 91.3 277.9 90.4 280.4 91.0 282.6 93.3 287.3 99.4 287.7 101.6 286.9 103.9 283.1 107.6 277.4 111.2 271.6 113.4 264.6 114.6Z" fill="#00fac8" fill-rule="evenodd"/><path d="M264.9 114.1 261.6 114.2 257.9 113.7 251.5 111.4 248.9 109.6 246.9 107.6 246.4 106.1 247.0 104.4 249.4 101.1 252.2 98.4 255.9 96.0 259.9 94.2 265.4 92.6 271.1 91.7 277.9 91.3 280.4 92.2 283.1 95.1 286.3 99.6 286.7 101.6 285.7 103.9 281.9 107.6 276.6 110.9 271.4 112.9 264.9 114.1Z" fill="#00fda7" fill-rule="evenodd"/><path d="M265.1 113.6 261.9 113.7 258.1 113.2 251.9 110.9 249.3 109.1 247.8 107.4 247.4 105.9 248.0 104.1 250.4 100.9 253.0 98.4 256.5 96.1 260.6 94.4 265.9 93.0 271.4 92.4 277.6 92.2 280.1 93.1 282.9 96.1 285.3 99.9 285.6 101.6 284.7 103.6 280.9 107.4 275.9 110.6 270.9 112.5 265.1 113.6Z" fill="#00ff84" fill-rule="evenodd"/><path d="M265.4 113.1 262.1 113.2 258.6 112.8 255.4 111.9 252.2 110.4 249.9 108.6 248.6 106.9 248.4 105.4 249.2 103.6 251.4 100.6 254.1 98.2 257.5 96.1 261.4 94.6 266.4 93.4 271.6 93.0 277.4 93.2 279.9 94.1 282.2 96.6 284.2 99.9 284.4 101.6 283.4 103.6 280.0 107.1 275.4 110.1 270.6 112.0 265.4 113.1Z" fill="#00ff5f" fill-rule="evenodd"/><path d="M265.4 112.6 261.9 112.7 257.9 112.1 254.1 110.7 251.2 108.9 249.7 107.1 249.4 105.6 250.1 103.6 251.8 101.1 254.1 98.9 257.1 96.9 260.4 95.4 264.1 94.3 268.6 93.7 273.9 93.7 277.9 94.2 279.9 95.3 282.0 97.9 283.2 100.4 283.0 102.1 281.7 104.1 278.6 107.2 274.5 109.9 270.2 111.6 265.4 112.6Z" fill="#00ff3a" fill-rule="evenodd"/><path d="M265.4 112.1 261.9 112.2 257.9 111.5 254.4 110.1 251.7 108.4 250.6 106.9 250.4 105.1 251.4 102.9 253.0 100.6 255.6 98.4 258.4 96.7 261.6 95.4 265.1 94.7 269.4 94.3 274.1 94.6 277.6 95.2 279.6 96.4 281.3 98.6 282.0 100.6 281.6 102.4 279.8 104.9 276.8 107.6 273.4 109.8 269.6 111.2 265.4 112.1Z" fill="#14ff20" fill-rule="evenodd"/><path d="M265.4 111.6 261.9 111.7 258.1 111.0 254.7 109.6 252.3 107.9 251.4 106.4 251.3 104.9 252.3 102.6 254.1 100.4 256.5 98.4 259.1 96.9 262.1 95.8 265.6 95.1 269.4 94.9 273.6 95.3 277.1 96.2 279.1 97.4 280.5 99.4 280.7 101.1 279.9 103.1 277.9 105.6 275.2 107.9 272.4 109.6 269.0 110.9 265.4 111.6Z" fill="#3cff10" fill-rule="evenodd"/><path d="M265.1 111.2 261.9 111.2 258.4 110.5 255.4 109.2 253.1 107.6 252.3 106.1 252.4 104.4 253.5 102.1 255.2 100.1 257.4 98.4 260.1 97.0 263.1 96.0 266.4 95.6 269.9 95.6 273.4 96.1 276.6 97.1 278.5 98.4 279.4 99.9 279.3 101.6 278.1 103.9 276.2 106.1 271.4 109.4 268.4 110.5 265.1 111.2Z" fill="#64ff00" fill-rule="evenodd"/><path d="M265.1 110.6 262.1 110.7 258.9 110.1 256.1 108.9 253.9 107.2 253.2 105.9 253.3 104.1 254.3 102.1 256.0 100.1 258.1 98.5 260.6 97.3 266.4 96.1 272.6 96.8 275.6 97.9 277.4 99.1 278.0 100.4 277.8 102.1 276.5 104.4 274.7 106.4 270.4 109.2 265.1 110.6Z" fill="#92ff00" fill-rule="evenodd"/><path d="M264.9 110.1 262.1 110.2 259.4 109.6 256.9 108.6 254.9 107.0 254.1 105.6 254.2 104.1 255.1 102.1 256.6 100.3 260.9 97.7 266.1 96.6 271.7 97.4 274.2 98.4 276.0 99.6 276.6 100.9 276.4 102.4 275.3 104.4 273.8 106.1 269.9 108.8 264.9 110.1Z" fill="#c0ff00" fill-rule="evenodd"/><path d="M264.6 109.6 262.1 109.6 259.6 109.1 257.4 108.1 255.8 106.9 255.1 105.6 255.1 104.1 255.8 102.4 257.1 100.6 260.9 98.2 265.6 97.2 270.6 97.9 274.4 99.9 275.1 101.1 275.1 102.4 274.3 104.1 272.9 105.9 269.3 108.4 264.6 109.6Z" fill="#e2f500" fill-rule="evenodd"/><path d="M264.1 109.1 259.6 108.5 257.9 107.6 256.5 106.4 256.0 105.1 256.0 103.9 257.7 100.9 261.1 98.6 265.1 97.8 269.4 98.3 272.9 100.1 273.7 101.4 273.8 102.6 272.1 105.6 268.4 108.1 264.1 109.1Z" fill="#f9e100" fill-rule="evenodd"/><path d="M265.6 108.4 263.1 108.6 260.9 108.2 258.8 107.4 257.4 106.1 256.8 104.9 257.0 103.4 257.7 101.9 259.1 100.4 262.1 98.8 265.9 98.3 269.6 99.1 272.1 100.9 272.5 102.9 271.4 105.1 268.9 107.2 265.6 108.4Z" fill="#ffb400" fill-rule="evenodd"/><path d="M265.1 107.9 262.9 108.0 260.9 107.6 259.0 106.6 257.9 105.4 257.7 103.9 258.2 102.4 259.4 100.9 260.9 99.9 263.6 99.0 266.6 99.0 269.4 99.9 271.2 101.6 271.3 103.4 270.1 105.4 267.9 107.0 265.1 107.9Z" fill="#ff7d00" fill-rule="evenodd"/><path d="M264.9 107.4 262.6 107.4 260.8 106.9 259.3 105.9 258.6 104.6 258.7 103.1 259.5 101.6 261.1 100.4 262.9 99.6 265.1 99.4 267.5 99.9 269.3 100.9 270.2 102.4 270.1 103.9 268.9 105.5 267.1 106.7 264.9 107.4Z" fill="#ff4100" fill-rule="evenodd"/><path d="M264.1 106.9 261.9 106.6 260.1 105.6 259.4 104.1 259.8 102.4 261.1 101.0 263.1 100.1 265.4 100.0 267.5 100.6 269.1 102.4 268.8 104.4 266.9 106.1 264.1 106.9Z" fill="#ff1400" fill-rule="evenodd"/><path d="M265.1 106.1 262.6 106.2 260.7 105.1 260.2 103.4 261.2 101.6 262.9 100.7 264.6 100.5 266.4 100.9 267.8 101.9 268.2 103.1 267.8 104.4 266.6 105.5 265.1 106.1Z" fill="#f50000" fill-rule="evenodd"/><ellipse cx="304.4" cy="61.7" rx="1.6" ry="1.3" transform="rotate(0 304.4 61.7)" fill="#000cff"/></g></g>
<line x1="293.7" y1="18.2" x2="293.7" y2="161" stroke="#222" stroke-width="1.1"/>
<line x1="188.7" y1="81.4" x2="331.8" y2="81.4" stroke="#222" stroke-width="1.1"/>
<text x="194.7" y="29.1" font-size="9.6" fill="#1a1a1a" letter-spacing="0.35">Q1</text>
<text x="194.7" y="40.8" font-size="9.6" fill="#1a1a1a" letter-spacing="0.35">1.1%</text>
<text x="303" y="29.1" font-size="9.6" fill="#1a1a1a" letter-spacing="0.35">Q2</text>
<text x="303" y="40.8" font-size="9.6" fill="#1a1a1a" letter-spacing="0.35">0.84%</text>
<text x="194.7" y="142.8" font-size="9.6" fill="#1a1a1a" letter-spacing="0.35">Q4</text>
<text x="194.7" y="155.1" font-size="9.6" fill="#1a1a1a" letter-spacing="0.35">95.9%</text>
<text x="303" y="142.8" font-size="9.6" fill="#1a1a1a" letter-spacing="0.35">Q3</text>
<text x="303" y="155.1" font-size="9.6" fill="#1a1a1a" letter-spacing="0.35">2.18%</text>
<line x1="197.9" y1="161" x2="197.9" y2="164.8" stroke="#222" stroke-width="1.4"/>
<line x1="221.7" y1="161" x2="221.7" y2="164.8" stroke="#222" stroke-width="1.4"/>
<line x1="244.5" y1="161" x2="244.5" y2="164.8" stroke="#222" stroke-width="1.4"/>
<line x1="283.5" y1="161" x2="283.5" y2="164.8" stroke="#222" stroke-width="1.4"/>
<line x1="318.7" y1="161" x2="318.7" y2="164.8" stroke="#222" stroke-width="1.4"/>
<line x1="203.85" y1="161" x2="203.85" y2="163" stroke="#444" stroke-width="0.9"/>
<line x1="208.61" y1="161" x2="208.61" y2="163" stroke="#444" stroke-width="0.9"/>
<line x1="212.18" y1="161" x2="212.18" y2="163" stroke="#444" stroke-width="0.9"/>
<line x1="215.04" y1="161" x2="215.04" y2="163" stroke="#444" stroke-width="0.9"/>
<line x1="217.42" y1="161" x2="217.42" y2="163" stroke="#444" stroke-width="0.9"/>
<line x1="219.32" y1="161" x2="219.32" y2="163" stroke="#444" stroke-width="0.9"/>
<line x1="223.98" y1="161" x2="223.98" y2="163" stroke="#444" stroke-width="0.9"/>
<line x1="225.8" y1="161" x2="225.8" y2="163" stroke="#444" stroke-width="0.9"/>
<line x1="228.08" y1="161" x2="228.08" y2="163" stroke="#444" stroke-width="0.9"/>
<line x1="230.82" y1="161" x2="230.82" y2="163" stroke="#444" stroke-width="0.9"/>
<line x1="234.24" y1="161" x2="234.24" y2="163" stroke="#444" stroke-width="0.9"/>
<line x1="238.8" y1="161" x2="238.8" y2="163" stroke="#444" stroke-width="0.9"/>
<line x1="256.24" y1="161" x2="256.24" y2="163" stroke="#444" stroke-width="0.9"/>
<line x1="263.11" y1="161" x2="263.11" y2="163" stroke="#444" stroke-width="0.9"/>
<line x1="267.98" y1="161" x2="267.98" y2="163" stroke="#444" stroke-width="0.9"/>
<line x1="271.76" y1="161" x2="271.76" y2="163" stroke="#444" stroke-width="0.9"/>
<line x1="274.85" y1="161" x2="274.85" y2="163" stroke="#444" stroke-width="0.9"/>
<line x1="277.46" y1="161" x2="277.46" y2="163" stroke="#444" stroke-width="0.9"/>
<line x1="279.72" y1="161" x2="279.72" y2="163" stroke="#444" stroke-width="0.9"/>
<line x1="281.72" y1="161" x2="281.72" y2="163" stroke="#444" stroke-width="0.9"/>
<line x1="294.1" y1="161" x2="294.1" y2="163" stroke="#444" stroke-width="0.9"/>
<line x1="300.29" y1="161" x2="300.29" y2="163" stroke="#444" stroke-width="0.9"/>
<line x1="304.69" y1="161" x2="304.69" y2="163" stroke="#444" stroke-width="0.9"/>
<line x1="308.1" y1="161" x2="308.1" y2="163" stroke="#444" stroke-width="0.9"/>
<line x1="310.89" y1="161" x2="310.89" y2="163" stroke="#444" stroke-width="0.9"/>
<line x1="313.25" y1="161" x2="313.25" y2="163" stroke="#444" stroke-width="0.9"/>
<line x1="315.29" y1="161" x2="315.29" y2="163" stroke="#444" stroke-width="0.9"/>
<line x1="317.09" y1="161" x2="317.09" y2="163" stroke="#444" stroke-width="0.9"/>
<line x1="329.3" y1="161" x2="329.3" y2="163" stroke="#444" stroke-width="0.9"/>
<rect x="217.5" y="161.2" width="6.4" height="3" fill="#111"/>
<text x="194" y="173.6" font-size="9.6" fill="#1a1a1a">-10<tspan font-size="6.34" dx="0.5" dy="-3.46">3</tspan></text>
<text x="222.7" y="173.6" font-size="9.6" text-anchor="middle" fill="#1a1a1a">0</text>
<text x="241.9" y="173.6" font-size="9.6" fill="#1a1a1a">10<tspan font-size="6.34" dx="0.5" dy="-3.46">3</tspan></text>
<text x="280.9" y="173.6" font-size="9.6" fill="#1a1a1a">10<tspan font-size="6.34" dx="0.5" dy="-3.46">4</tspan></text>
<text x="316.1" y="173.6" font-size="9.6" fill="#1a1a1a">10<tspan font-size="6.34" dx="0.5" dy="-3.46">5</tspan></text>
<line x1="184.7" y1="29.6" x2="188.7" y2="29.6" stroke="#222" stroke-width="1.4"/>
<line x1="184.7" y1="57.1" x2="188.7" y2="57.1" stroke="#222" stroke-width="1.4"/>
<line x1="184.7" y1="89.5" x2="188.7" y2="89.5" stroke="#222" stroke-width="1.4"/>
<line x1="184.7" y1="108.8" x2="188.7" y2="108.8" stroke="#222" stroke-width="1.4"/>
<line x1="184.7" y1="159.8" x2="188.7" y2="159.8" stroke="#222" stroke-width="1.4"/>
<line x1="186.7" y1="48.82" x2="188.7" y2="48.82" stroke="#444" stroke-width="0.9"/>
<line x1="186.7" y1="43.98" x2="188.7" y2="43.98" stroke="#444" stroke-width="0.9"/>
<line x1="186.7" y1="40.54" x2="188.7" y2="40.54" stroke="#444" stroke-width="0.9"/>
<line x1="186.7" y1="37.88" x2="188.7" y2="37.88" stroke="#444" stroke-width="0.9"/>
<line x1="186.7" y1="35.7" x2="188.7" y2="35.7" stroke="#444" stroke-width="0.9"/>
<line x1="186.7" y1="33.86" x2="188.7" y2="33.86" stroke="#444" stroke-width="0.9"/>
<line x1="186.7" y1="32.27" x2="188.7" y2="32.27" stroke="#444" stroke-width="0.9"/>
<line x1="186.7" y1="30.86" x2="188.7" y2="30.86" stroke="#444" stroke-width="0.9"/>
<line x1="186.7" y1="79.75" x2="188.7" y2="79.75" stroke="#444" stroke-width="0.9"/>
<line x1="186.7" y1="74.04" x2="188.7" y2="74.04" stroke="#444" stroke-width="0.9"/>
<line x1="186.7" y1="69.99" x2="188.7" y2="69.99" stroke="#444" stroke-width="0.9"/>
<line x1="186.7" y1="66.85" x2="188.7" y2="66.85" stroke="#444" stroke-width="0.9"/>
<line x1="186.7" y1="64.29" x2="188.7" y2="64.29" stroke="#444" stroke-width="0.9"/>
<line x1="186.7" y1="62.12" x2="188.7" y2="62.12" stroke="#444" stroke-width="0.9"/>
<line x1="186.7" y1="60.24" x2="188.7" y2="60.24" stroke="#444" stroke-width="0.9"/>
<line x1="186.7" y1="58.58" x2="188.7" y2="58.58" stroke="#444" stroke-width="0.9"/>
<line x1="186.7" y1="106.87" x2="188.7" y2="106.87" stroke="#444" stroke-width="0.9"/>
<line x1="186.7" y1="104.94" x2="188.7" y2="104.94" stroke="#444" stroke-width="0.9"/>
<line x1="186.7" y1="102.62" x2="188.7" y2="102.62" stroke="#444" stroke-width="0.9"/>
<line x1="186.7" y1="100.11" x2="188.7" y2="100.11" stroke="#444" stroke-width="0.9"/>
<line x1="186.7" y1="97.22" x2="188.7" y2="97.22" stroke="#444" stroke-width="0.9"/>
<line x1="186.7" y1="93.75" x2="188.7" y2="93.75" stroke="#444" stroke-width="0.9"/>
<line x1="186.7" y1="113.9" x2="188.7" y2="113.9" stroke="#444" stroke-width="0.9"/>
<line x1="186.7" y1="119" x2="188.7" y2="119" stroke="#444" stroke-width="0.9"/>
<line x1="186.7" y1="125.12" x2="188.7" y2="125.12" stroke="#444" stroke-width="0.9"/>
<line x1="186.7" y1="131.75" x2="188.7" y2="131.75" stroke="#444" stroke-width="0.9"/>
<line x1="186.7" y1="139.4" x2="188.7" y2="139.4" stroke="#444" stroke-width="0.9"/>
<line x1="186.7" y1="148.58" x2="188.7" y2="148.58" stroke="#444" stroke-width="0.9"/>
<line x1="186.7" y1="21.32" x2="188.7" y2="21.32" stroke="#444" stroke-width="0.9"/>
<rect x="185.3" y="106" width="3.2" height="5.6" fill="#111"/>
<rect x="340.3" y="18.2" width="143.9" height="142.8" fill="none" stroke="#c9c9c9" stroke-width="0.9"/>
<line x1="340.3" y1="18.2" x2="340.3" y2="161" stroke="#a8a8a8" stroke-width="1"/>
<line x1="340.3" y1="161" x2="484.2" y2="161" stroke="#a8a8a8" stroke-width="1"/>
<clipPath id="clip_a2"><rect x="340.3" y="18.2" width="143.9" height="142.8"/></clipPath><g clip-path="url(#clip_a2)"><g filter="url(#bl)"><path d="M379.6 106.1 380.4 102.8 381.7 100.1 384.0 97.0 387.3 93.5 391.0 90.3 393.5 88.6 397.4 86.3 403.0 83.5 411.1 79.9 413.8 78.9 416.7 78.2 421.8 78.0 428.5 78.9 431.8 78.9 435.0 78.7 437.4 78.0 438.0 77.0 438.1 74.1 438.3 72.8 441.8 69.3 443.6 63.1 444.3 62.4 447.1 61.4 450.4 58.8 451.5 58.4 453.0 58.6 453.9 59.1 455.0 60.5 455.4 61.9 455.6 64.7 455.4 68.4 454.6 72.9 454.0 77.6 454.2 78.9 454.5 79.4 455.0 79.8 456.7 80.1 464.6 79.8 470.2 80.3 474.1 81.1 475.9 82.0 477.1 83.1 477.9 84.5 478.6 86.8 478.7 89.3 478.3 92.0 477.0 95.5 475.5 98.2 473.4 100.8 470.6 103.4 463.2 108.7 455.5 113.2 447.7 116.7 438.5 119.6 430.6 121.1 427.8 121.8 425.5 122.9 421.5 125.3 417.5 126.5 410.3 127.2 406.7 127.2 403.4 126.9 397.1 125.3 391.4 123.0 388.7 121.5 385.0 119.0 383.1 117.4 381.7 115.8 380.4 113.5 379.4 110.6 379.2 108.8 379.4 106.8Z" fill="#000aff" fill-rule="evenodd"/><path d="M412.6 123.1 405.4 123.0 397.6 120.8 393.4 118.7 389.1 115.9 386.5 113.6 385.1 111.5 384.5 109.4 384.4 106.9 385.0 103.9 386.2 101.4 390.5 95.6 394.3 92.1 397.4 90.1 402.4 87.4 407.9 85.1 414.1 83.3 418.4 82.7 436.9 85.1 440.4 84.7 445.4 82.7 446.4 83.2 450.1 87.0 453.4 87.1 464.4 86.6 468.6 87.4 470.9 88.9 471.3 90.1 471.3 91.9 469.7 95.9 466.9 99.1 462.4 102.4 457.1 104.9 450.8 106.9 441.1 112.6 427.1 117.8 419.4 121.8 416.1 122.8 412.6 123.1Z" fill="#001eff" fill-rule="evenodd"/><path d="M412.6 121.6 405.6 121.4 398.4 119.4 394.6 117.4 390.4 114.6 388.0 112.4 386.8 110.4 386.3 108.1 386.6 105.1 387.5 102.6 389.1 99.9 391.2 97.1 394.6 93.7 400.1 90.0 408.9 86.3 414.4 85.0 418.4 84.6 436.4 87.9 439.6 88.0 444.9 87.5 450.1 91.1 457.0 89.6 461.4 89.3 465.1 89.8 467.1 91.3 467.4 93.4 466.3 95.9 464.1 98.3 461.1 100.4 455.9 102.5 449.9 103.2 442.8 108.6 438.0 111.4 426.9 116.1 418.6 120.5 415.9 121.3 412.6 121.6Z" fill="#002cff" fill-rule="evenodd"/><path d="M410.9 120.6 404.8 120.1 398.0 117.9 390.9 113.2 389.0 111.4 388.0 109.4 387.7 107.1 388.2 104.6 391.0 99.1 395.9 93.9 401.4 90.4 409.4 87.2 414.6 86.2 418.4 85.9 421.6 86.3 436.4 90.0 444.6 90.6 450.4 94.7 454.2 92.6 458.1 91.5 461.9 91.6 464.0 92.9 464.2 94.4 463.5 96.1 462.1 97.7 460.1 99.0 457.4 100.1 454.6 100.5 452.1 100.2 449.9 99.4 446.6 102.7 442.1 106.4 436.3 110.1 426.4 115.0 418.4 119.4 415.1 120.3 410.9 120.6Z" fill="#003fff" fill-rule="evenodd"/><path d="M412.9 119.6 406.4 119.5 399.9 117.6 393.5 113.9 391.0 111.9 389.6 110.1 389.0 108.6 388.9 106.6 390.3 102.4 393.2 97.9 397.9 93.4 402.5 90.6 407.6 88.6 413.1 87.4 418.1 87.0 421.6 87.5 436.9 91.9 444.1 93.1 445.9 94.0 447.5 95.6 447.8 97.4 446.6 99.4 441.6 104.4 438.1 107.1 418.9 118.1 416.1 119.2 412.9 119.6ZM457.9 98.4 455.9 98.6 454.4 98.1 453.5 96.9 453.9 95.6 455.3 94.4 457.4 93.5 459.4 93.3 460.9 93.7 461.6 94.6 461.3 96.1 459.9 97.5 457.9 98.4Z" fill="#0056ff" fill-rule="evenodd"/><path d="M413.6 118.9 407.1 118.9 400.6 117.1 394.6 113.7 392.0 111.6 390.5 109.9 389.8 106.9 390.9 102.9 393.7 98.4 397.9 94.1 402.4 91.4 407.4 89.3 412.6 88.2 417.9 87.8 421.4 88.4 436.4 93.3 443.1 94.9 444.9 95.9 445.3 97.4 444.3 99.1 440.1 103.6 436.4 106.6 418.9 117.4 416.4 118.4 413.6 118.9ZM458.1 97.1 456.4 97.0 456.2 95.9 457.6 94.8 459.3 94.9 459.7 95.4 459.6 96.1 458.1 97.1Z" fill="#0069ff" fill-rule="evenodd"/><path d="M410.9 118.4 405.6 117.9 399.9 116.0 394.2 112.4 391.2 109.1 390.8 107.6 390.9 105.9 392.5 101.6 395.6 97.1 399.1 94.0 403.4 91.5 408.1 89.8 413.1 88.8 418.1 88.7 422.9 89.8 440.1 96.1 441.7 97.1 442.0 97.9 441.8 98.9 439.5 101.9 436.1 105.1 431.1 108.9 417.9 117.1 414.9 118.0 410.9 118.4Z" fill="#007cff" fill-rule="evenodd"/><path d="M411.9 117.9 406.4 117.6 400.6 115.8 395.4 112.6 391.9 109.1 391.4 107.6 391.4 106.1 392.8 102.1 395.8 97.6 399.1 94.5 403.1 92.1 407.9 90.3 412.6 89.4 417.9 89.2 421.6 90.0 429.7 93.1 437.9 96.6 439.6 97.9 439.7 99.4 438.2 101.6 434.8 104.9 430.1 108.6 418.1 116.4 415.4 117.4 411.9 117.9Z" fill="#008dff" fill-rule="evenodd"/><path d="M412.4 117.4 406.9 117.2 401.4 115.6 396.4 112.6 392.7 109.1 392.1 106.4 393.2 102.6 395.8 98.4 399.0 95.1 403.1 92.5 407.6 90.8 412.4 89.9 417.6 89.8 420.4 90.3 423.4 91.3 433.2 95.6 437.5 98.1 437.8 99.6 436.8 101.4 429.5 108.1 418.1 115.9 415.6 116.9 412.4 117.4Z" fill="#009fff" fill-rule="evenodd"/><path d="M412.9 116.9 407.4 116.8 402.1 115.3 397.3 112.6 393.4 109.0 392.7 106.6 393.6 103.1 396.0 98.9 399.0 95.6 402.9 93.1 407.4 91.3 411.9 90.4 417.4 90.3 420.1 90.8 423.1 91.9 432.1 96.1 435.5 98.4 436.0 99.6 435.2 101.4 428.9 107.6 418.4 115.2 415.9 116.3 412.9 116.9Z" fill="#00b0ff" fill-rule="evenodd"/><path d="M413.1 116.4 407.6 116.3 402.6 115.0 397.9 112.4 394.1 108.9 393.4 106.6 394.2 103.1 396.5 99.1 399.1 96.1 402.9 93.6 407.1 91.8 411.6 91.0 416.9 90.9 419.6 91.3 422.6 92.4 431.0 96.6 433.7 98.6 434.2 99.9 433.6 101.4 427.6 107.6 422.8 111.6 418.4 114.6 415.9 115.8 413.1 116.4Z" fill="#00c3fe" fill-rule="evenodd"/><path d="M413.1 115.9 407.9 115.9 403.1 114.6 398.8 112.4 394.9 108.9 394.1 106.6 394.7 103.6 396.6 99.9 399.2 96.6 402.9 94.0 406.9 92.4 411.1 91.5 416.1 91.4 419.1 91.8 422.0 92.9 429.1 96.6 431.9 98.6 432.5 99.9 431.9 101.6 429.5 104.6 425.9 108.1 422.2 111.4 418.1 114.2 415.6 115.4 413.1 115.9Z" fill="#00d7fc" fill-rule="evenodd"/><path d="M413.4 115.4 408.4 115.5 403.9 114.4 399.4 112.1 395.7 108.9 394.8 106.9 395.2 104.1 396.7 100.6 399.1 97.4 402.3 94.9 405.9 93.1 410.1 92.1 414.6 91.9 418.1 92.3 421.1 93.2 427.3 96.6 430.1 98.6 430.8 100.1 430.4 101.6 428.4 104.4 425.2 107.9 418.4 113.5 415.9 114.8 413.4 115.4Z" fill="#00ebfb" fill-rule="evenodd"/><path d="M413.4 114.9 408.1 115.0 403.1 113.5 398.3 110.6 396.5 108.9 395.6 107.4 395.5 105.6 396.1 103.4 398.9 98.4 402.6 95.2 407.1 93.2 412.9 92.4 419.1 93.2 422.1 94.4 426.5 97.1 428.5 98.6 429.3 99.9 429.1 101.4 428.2 103.1 422.7 109.4 417.4 113.5 413.4 114.9Z" fill="#00f7e9" fill-rule="evenodd"/><path d="M413.4 114.4 408.4 114.5 403.6 113.2 399.1 110.5 397.4 108.9 396.4 107.4 396.2 105.9 396.6 103.9 398.7 99.4 401.6 96.4 405.6 94.1 411.4 92.9 418.1 93.6 420.6 94.5 423.5 96.1 426.6 98.4 427.8 99.9 427.8 101.1 427.1 102.9 422.3 108.9 417.4 112.9 413.4 114.4Z" fill="#00fac8" fill-rule="evenodd"/><path d="M413.1 113.9 408.4 114.0 403.9 112.7 399.5 110.1 398.0 108.6 397.1 107.1 397.2 103.9 399.4 99.4 402.1 96.6 405.9 94.5 411.4 93.4 417.7 94.1 422.6 96.4 425.2 98.4 426.4 99.9 426.5 101.1 425.9 102.9 421.7 108.6 417.1 112.4 413.1 113.9Z" fill="#00fda7" fill-rule="evenodd"/><path d="M413.1 113.4 408.6 113.5 404.4 112.4 400.1 109.9 397.9 107.1 397.8 104.1 399.5 100.1 401.9 97.4 405.4 95.2 410.6 94.0 416.6 94.5 421.4 96.5 423.8 98.4 425.0 99.9 425.3 101.1 424.7 102.9 421.3 108.1 417.0 111.9 413.1 113.4Z" fill="#00ff84" fill-rule="evenodd"/><path d="M413.1 112.9 408.9 113.0 405.1 112.1 401.1 109.9 398.6 107.1 398.4 104.4 399.8 100.6 402.0 97.9 405.1 95.8 410.1 94.5 415.4 94.9 420.4 96.7 422.6 98.4 423.8 99.9 424.1 101.1 423.7 102.9 420.7 107.9 416.8 111.4 413.1 112.9Z" fill="#00ff5f" fill-rule="evenodd"/><path d="M412.9 112.4 408.9 112.5 405.4 111.7 401.7 109.6 399.4 107.1 399.1 104.6 400.3 100.9 402.4 98.1 405.4 96.1 409.9 95.0 414.9 95.4 419.9 97.3 421.6 98.6 422.7 100.1 423.0 101.4 422.6 103.1 420.0 107.6 416.4 111.0 412.9 112.4Z" fill="#00ff3a" fill-rule="evenodd"/><path d="M412.9 111.9 409.1 112.1 405.6 111.2 402.1 109.2 400.1 106.9 399.8 104.4 400.8 101.1 402.6 98.6 405.4 96.6 409.6 95.5 414.1 95.8 418.9 97.6 420.6 98.9 421.6 100.1 421.9 101.4 421.7 103.1 419.4 107.4 416.1 110.5 412.9 111.9Z" fill="#14ff20" fill-rule="evenodd"/><path d="M412.6 111.4 409.4 111.6 406.1 110.8 402.9 109.1 400.9 106.9 400.4 104.4 401.3 101.4 403.0 98.9 405.6 97.0 409.4 96.0 413.6 96.3 418.1 98.0 420.6 100.4 420.9 101.6 420.7 103.1 418.8 107.1 415.9 110.0 412.6 111.4Z" fill="#3cff10" fill-rule="evenodd"/><path d="M412.4 110.9 409.1 111.0 406.1 110.3 403.2 108.6 401.5 106.6 401.1 104.4 401.9 101.4 403.5 99.1 405.9 97.4 409.4 96.5 413.1 96.7 417.2 98.4 419.6 100.6 420.0 101.9 419.8 103.4 418.2 106.9 415.5 109.6 412.4 110.9Z" fill="#64ff00" fill-rule="evenodd"/><path d="M412.1 110.4 409.1 110.5 406.4 109.8 403.6 108.2 402.2 106.4 401.8 104.1 402.4 101.6 403.9 99.4 406.1 97.8 409.4 97.0 412.9 97.3 416.6 98.9 418.7 100.9 419.0 102.1 418.9 103.6 417.4 106.9 414.9 109.3 412.1 110.4Z" fill="#92ff00" fill-rule="evenodd"/><path d="M411.9 109.9 409.1 110.0 406.6 109.3 404.2 107.9 402.8 106.1 402.4 104.1 403.0 101.6 404.4 99.6 406.6 98.1 409.6 97.4 412.9 97.8 416.1 99.4 417.9 101.4 418.0 103.9 416.6 106.9 414.6 108.9 411.9 109.9Z" fill="#c0ff00" fill-rule="evenodd"/><path d="M411.6 109.4 409.1 109.4 406.9 108.8 404.6 107.4 403.4 105.9 403.1 103.9 403.6 101.6 404.9 99.9 406.9 98.5 409.6 97.9 412.6 98.4 415.4 99.7 417.0 101.6 417.2 103.9 416.0 106.6 414.1 108.5 411.6 109.4Z" fill="#e2f500" fill-rule="evenodd"/><path d="M411.4 108.9 409.1 108.9 407.1 108.3 405.2 107.1 404.1 105.6 403.7 103.6 404.3 101.6 405.4 100.1 407.1 98.9 409.6 98.4 412.1 98.8 414.7 100.1 416.2 101.9 416.4 104.1 415.4 106.4 413.6 108.1 411.4 108.9Z" fill="#f9e100" fill-rule="evenodd"/><path d="M411.1 108.4 409.1 108.4 407.4 107.9 405.8 106.9 404.7 105.4 404.4 103.6 404.8 101.9 405.8 100.4 407.4 99.3 409.6 98.9 411.9 99.3 414.1 100.5 415.4 102.1 415.6 104.1 414.8 106.1 413.2 107.6 411.1 108.4Z" fill="#ffb400" fill-rule="evenodd"/><path d="M410.6 107.9 408.9 107.8 407.2 107.1 405.9 106.1 405.2 104.9 405.0 103.1 405.5 101.6 406.6 100.4 407.9 99.7 409.9 99.4 411.9 99.9 413.8 101.1 414.8 102.6 414.9 104.4 414.0 106.1 412.6 107.3 410.6 107.9Z" fill="#ff7d00" fill-rule="evenodd"/><path d="M411.4 107.2 408.4 107.1 406.1 105.3 405.7 104.1 405.7 102.6 406.3 101.4 407.4 100.4 409.1 99.9 410.9 100.1 412.5 100.9 413.7 102.1 414.2 103.6 413.9 105.1 412.9 106.4 411.4 107.2Z" fill="#ff4100" fill-rule="evenodd"/><path d="M411.1 106.6 408.6 106.5 406.6 105.0 406.3 102.6 407.6 100.9 409.1 100.4 410.6 100.5 412.1 101.3 413.1 102.4 413.4 103.6 413.2 104.9 412.4 106.0 411.1 106.6Z" fill="#ff1400" fill-rule="evenodd"/><path d="M410.6 106.2 408.6 105.9 407.1 104.6 406.9 102.6 408.1 101.2 409.4 100.9 410.6 101.1 412.4 102.6 412.7 103.9 412.4 104.9 410.6 106.2Z" fill="#f50000" fill-rule="evenodd"/></g></g>
<line x1="445.3" y1="18.2" x2="445.3" y2="161" stroke="#222" stroke-width="1.1"/>
<line x1="340.3" y1="81.4" x2="484.2" y2="81.4" stroke="#222" stroke-width="1.1"/>
<text x="345.4" y="29.1" font-size="9.6" fill="#1a1a1a" letter-spacing="0.35">Q1</text>
<text x="345.4" y="40.8" font-size="9.6" fill="#1a1a1a" letter-spacing="0.35">0.83%</text>
<text x="455.76" y="29.1" font-size="9.6" fill="#1a1a1a" letter-spacing="0.35">Q2</text>
<text x="455.76" y="40.8" font-size="9.6" fill="#1a1a1a" letter-spacing="0.35">1.11%</text>
<text x="345.4" y="142.8" font-size="9.6" fill="#1a1a1a" letter-spacing="0.35">Q4</text>
<text x="345.4" y="155.1" font-size="9.6" fill="#1a1a1a" letter-spacing="0.35">93.6%</text>
<text x="455.4" y="142.8" font-size="9.6" fill="#1a1a1a" letter-spacing="0.35">Q3</text>
<text x="455.4" y="155.1" font-size="9.6" fill="#1a1a1a" letter-spacing="0.35">4.51%</text>
<line x1="349.5" y1="161" x2="349.5" y2="164.8" stroke="#222" stroke-width="1.4"/>
<line x1="373.3" y1="161" x2="373.3" y2="164.8" stroke="#222" stroke-width="1.4"/>
<line x1="396.1" y1="161" x2="396.1" y2="164.8" stroke="#222" stroke-width="1.4"/>
<line x1="435.1" y1="161" x2="435.1" y2="164.8" stroke="#222" stroke-width="1.4"/>
<line x1="470.3" y1="161" x2="470.3" y2="164.8" stroke="#222" stroke-width="1.4"/>
<line x1="355.45" y1="161" x2="355.45" y2="163" stroke="#444" stroke-width="0.9"/>
<line x1="360.21" y1="161" x2="360.21" y2="163" stroke="#444" stroke-width="0.9"/>
<line x1="363.78" y1="161" x2="363.78" y2="163" stroke="#444" stroke-width="0.9"/>
<line x1="366.64" y1="161" x2="366.64" y2="163" stroke="#444" stroke-width="0.9"/>
<line x1="369.02" y1="161" x2="369.02" y2="163" stroke="#444" stroke-width="0.9"/>
<line x1="370.92" y1="161" x2="370.92" y2="163" stroke="#444" stroke-width="0.9"/>
<line x1="375.58" y1="161" x2="375.58" y2="163" stroke="#444" stroke-width="0.9"/>
<line x1="377.4" y1="161" x2="377.4" y2="163" stroke="#444" stroke-width="0.9"/>
<line x1="379.68" y1="161" x2="379.68" y2="163" stroke="#444" stroke-width="0.9"/>
<line x1="382.42" y1="161" x2="382.42" y2="163" stroke="#444" stroke-width="0.9"/>
<line x1="385.84" y1="161" x2="385.84" y2="163" stroke="#444" stroke-width="0.9"/>
<line x1="390.4" y1="161" x2="390.4" y2="163" stroke="#444" stroke-width="0.9"/>
<line x1="407.84" y1="161" x2="407.84" y2="163" stroke="#444" stroke-width="0.9"/>
<line x1="414.71" y1="161" x2="414.71" y2="163" stroke="#444" stroke-width="0.9"/>
<line x1="419.58" y1="161" x2="419.58" y2="163" stroke="#444" stroke-width="0.9"/>
<line x1="423.36" y1="161" x2="423.36" y2="163" stroke="#444" stroke-width="0.9"/>
<line x1="426.45" y1="161" x2="426.45" y2="163" stroke="#444" stroke-width="0.9"/>
<line x1="429.06" y1="161" x2="429.06" y2="163" stroke="#444" stroke-width="0.9"/>
<line x1="431.32" y1="161" x2="431.32" y2="163" stroke="#444" stroke-width="0.9"/>
<line x1="433.32" y1="161" x2="433.32" y2="163" stroke="#444" stroke-width="0.9"/>
<line x1="445.7" y1="161" x2="445.7" y2="163" stroke="#444" stroke-width="0.9"/>
<line x1="451.89" y1="161" x2="451.89" y2="163" stroke="#444" stroke-width="0.9"/>
<line x1="456.29" y1="161" x2="456.29" y2="163" stroke="#444" stroke-width="0.9"/>
<line x1="459.7" y1="161" x2="459.7" y2="163" stroke="#444" stroke-width="0.9"/>
<line x1="462.49" y1="161" x2="462.49" y2="163" stroke="#444" stroke-width="0.9"/>
<line x1="464.85" y1="161" x2="464.85" y2="163" stroke="#444" stroke-width="0.9"/>
<line x1="466.89" y1="161" x2="466.89" y2="163" stroke="#444" stroke-width="0.9"/>
<line x1="468.69" y1="161" x2="468.69" y2="163" stroke="#444" stroke-width="0.9"/>
<line x1="480.9" y1="161" x2="480.9" y2="163" stroke="#444" stroke-width="0.9"/>
<rect x="369.1" y="161.2" width="6.4" height="3" fill="#111"/>
<text x="345.6" y="173.6" font-size="9.6" fill="#1a1a1a">-10<tspan font-size="6.34" dx="0.5" dy="-3.46">3</tspan></text>
<text x="374.3" y="173.6" font-size="9.6" text-anchor="middle" fill="#1a1a1a">0</text>
<text x="393.5" y="173.6" font-size="9.6" fill="#1a1a1a">10<tspan font-size="6.34" dx="0.5" dy="-3.46">3</tspan></text>
<text x="432.5" y="173.6" font-size="9.6" fill="#1a1a1a">10<tspan font-size="6.34" dx="0.5" dy="-3.46">4</tspan></text>
<text x="467.7" y="173.6" font-size="9.6" fill="#1a1a1a">10<tspan font-size="6.34" dx="0.5" dy="-3.46">5</tspan></text>
<line x1="336.3" y1="29.6" x2="340.3" y2="29.6" stroke="#222" stroke-width="1.4"/>
<line x1="336.3" y1="57.1" x2="340.3" y2="57.1" stroke="#222" stroke-width="1.4"/>
<line x1="336.3" y1="89.5" x2="340.3" y2="89.5" stroke="#222" stroke-width="1.4"/>
<line x1="336.3" y1="108.8" x2="340.3" y2="108.8" stroke="#222" stroke-width="1.4"/>
<line x1="336.3" y1="159.8" x2="340.3" y2="159.8" stroke="#222" stroke-width="1.4"/>
<line x1="338.3" y1="48.82" x2="340.3" y2="48.82" stroke="#444" stroke-width="0.9"/>
<line x1="338.3" y1="43.98" x2="340.3" y2="43.98" stroke="#444" stroke-width="0.9"/>
<line x1="338.3" y1="40.54" x2="340.3" y2="40.54" stroke="#444" stroke-width="0.9"/>
<line x1="338.3" y1="37.88" x2="340.3" y2="37.88" stroke="#444" stroke-width="0.9"/>
<line x1="338.3" y1="35.7" x2="340.3" y2="35.7" stroke="#444" stroke-width="0.9"/>
<line x1="338.3" y1="33.86" x2="340.3" y2="33.86" stroke="#444" stroke-width="0.9"/>
<line x1="338.3" y1="32.27" x2="340.3" y2="32.27" stroke="#444" stroke-width="0.9"/>
<line x1="338.3" y1="30.86" x2="340.3" y2="30.86" stroke="#444" stroke-width="0.9"/>
<line x1="338.3" y1="79.75" x2="340.3" y2="79.75" stroke="#444" stroke-width="0.9"/>
<line x1="338.3" y1="74.04" x2="340.3" y2="74.04" stroke="#444" stroke-width="0.9"/>
<line x1="338.3" y1="69.99" x2="340.3" y2="69.99" stroke="#444" stroke-width="0.9"/>
<line x1="338.3" y1="66.85" x2="340.3" y2="66.85" stroke="#444" stroke-width="0.9"/>
<line x1="338.3" y1="64.29" x2="340.3" y2="64.29" stroke="#444" stroke-width="0.9"/>
<line x1="338.3" y1="62.12" x2="340.3" y2="62.12" stroke="#444" stroke-width="0.9"/>
<line x1="338.3" y1="60.24" x2="340.3" y2="60.24" stroke="#444" stroke-width="0.9"/>
<line x1="338.3" y1="58.58" x2="340.3" y2="58.58" stroke="#444" stroke-width="0.9"/>
<line x1="338.3" y1="106.87" x2="340.3" y2="106.87" stroke="#444" stroke-width="0.9"/>
<line x1="338.3" y1="104.94" x2="340.3" y2="104.94" stroke="#444" stroke-width="0.9"/>
<line x1="338.3" y1="102.62" x2="340.3" y2="102.62" stroke="#444" stroke-width="0.9"/>
<line x1="338.3" y1="100.11" x2="340.3" y2="100.11" stroke="#444" stroke-width="0.9"/>
<line x1="338.3" y1="97.22" x2="340.3" y2="97.22" stroke="#444" stroke-width="0.9"/>
<line x1="338.3" y1="93.75" x2="340.3" y2="93.75" stroke="#444" stroke-width="0.9"/>
<line x1="338.3" y1="113.9" x2="340.3" y2="113.9" stroke="#444" stroke-width="0.9"/>
<line x1="338.3" y1="119" x2="340.3" y2="119" stroke="#444" stroke-width="0.9"/>
<line x1="338.3" y1="125.12" x2="340.3" y2="125.12" stroke="#444" stroke-width="0.9"/>
<line x1="338.3" y1="131.75" x2="340.3" y2="131.75" stroke="#444" stroke-width="0.9"/>
<line x1="338.3" y1="139.4" x2="340.3" y2="139.4" stroke="#444" stroke-width="0.9"/>
<line x1="338.3" y1="148.58" x2="340.3" y2="148.58" stroke="#444" stroke-width="0.9"/>
<line x1="338.3" y1="21.32" x2="340.3" y2="21.32" stroke="#444" stroke-width="0.9"/>
<rect x="336.9" y="106" width="3.2" height="5.6" fill="#111"/>
<rect x="540.6" y="18.2" width="141.9" height="142.8" fill="none" stroke="#c9c9c9" stroke-width="0.9"/>
<line x1="540.6" y1="18.2" x2="540.6" y2="161" stroke="#a8a8a8" stroke-width="1"/>
<line x1="540.6" y1="161" x2="682.5" y2="161" stroke="#a8a8a8" stroke-width="1"/>
<clipPath id="clip_a3"><rect x="540.6" y="18.2" width="141.9" height="142.8"/></clipPath><g clip-path="url(#clip_a3)"><g filter="url(#bl)"><path d="M586.1 108.4 586.1 106.5 586.6 104.5 589.8 98.0 595.2 90.2 602.6 81.2 605.3 78.4 608.1 76.0 625.9 64.2 631.1 60.2 636.2 55.8 638.4 53.3 640.0 49.8 641.0 48.4 645.5 43.2 649.9 37.3 655.5 31.2 657.3 29.8 660.3 28.2 663.6 27.1 666.8 26.6 670.2 26.5 673.3 26.9 674.8 27.5 676.4 28.9 677.3 30.7 677.4 32.1 677.0 33.7 675.9 36.4 673.6 39.8 665.2 49.2 663.6 52.1 662.5 55.6 661.9 61.7 662.1 65.6 662.6 67.7 663.7 70.3 665.7 73.4 669.6 78.3 670.7 80.1 671.7 83.4 672.5 89.8 669.9 97.0 665.4 106.0 662.8 109.9 659.5 113.2 654.7 116.8 650.6 119.3 630.2 127.8 621.0 132.5 615.1 134.2 612.8 134.5 610.7 134.5 608.9 134.1 606.7 133.0 603.7 130.8 601.5 128.7 595.5 122.0 591.5 117.2 587.8 112.2 586.3 109.4Z" fill="#000aff" fill-rule="evenodd"/><path d="M614.1 129.4 611.9 129.5 610.1 129.2 605.4 126.2 597.1 118.3 591.1 110.6 590.0 108.1 590.0 105.6 591.1 102.4 593.8 97.1 600.9 87.9 606.4 82.3 612.4 78.1 624.4 71.7 641.2 56.9 646.6 50.9 648.9 46.4 652.4 40.9 657.6 35.3 661.1 32.9 664.9 31.4 668.9 30.7 671.6 31.3 672.5 32.1 672.7 33.6 670.9 37.6 666.9 42.3 660.0 48.9 657.0 52.6 657.8 67.1 660.3 71.9 666.6 80.9 667.5 83.4 668.3 88.4 668.2 91.1 666.9 95.6 662.6 105.1 660.6 108.1 658.4 110.4 654.2 113.6 650.1 116.1 642.8 119.1 625.6 125.3 619.1 128.1 614.1 129.4Z" fill="#001eff" fill-rule="evenodd"/><path d="M654.1 48.9 653.4 48.7 652.8 47.9 653.1 44.9 654.7 41.6 657.4 38.4 660.4 35.9 663.6 34.2 666.9 33.5 668.9 34.1 669.3 35.4 668.8 36.9 665.5 41.4 658.4 46.8 654.1 48.9ZM614.6 127.4 610.9 127.4 606.9 125.1 598.8 117.9 593.9 112.0 591.9 108.9 591.4 106.6 591.9 104.1 593.9 99.6 595.9 96.1 598.7 92.4 603.6 86.7 607.4 83.4 614.1 79.1 628.0 72.6 633.9 66.4 638.4 62.4 648.6 54.4 650.4 53.5 651.6 53.6 652.6 54.9 653.4 57.3 655.3 68.4 663.6 79.9 665.3 83.9 666.2 88.9 666.1 91.6 664.5 97.6 662.1 103.0 660.1 106.4 658.0 108.9 654.1 112.0 649.9 114.7 641.9 117.9 625.4 123.3 618.6 126.4 614.6 127.4Z" fill="#002cff" fill-rule="evenodd"/><path d="M659.1 43.6 657.6 43.5 657.2 42.6 657.7 41.1 659.1 39.4 662.6 36.9 664.4 36.4 665.6 36.7 665.9 38.1 664.5 40.4 661.9 42.5 659.1 43.6ZM613.4 126.1 611.6 126.0 609.8 125.4 604.4 121.6 598.6 116.1 593.9 110.1 592.8 107.9 592.6 105.9 593.6 102.6 595.6 98.4 598.4 94.2 602.1 89.7 605.4 86.4 608.9 83.6 616.4 79.5 630.9 73.6 635.4 67.9 639.7 64.1 646.6 60.2 648.4 59.6 649.6 59.9 650.6 61.0 651.5 63.1 652.7 69.4 660.1 78.1 662.3 81.4 663.3 83.6 664.4 89.1 664.3 92.1 662.9 97.9 660.5 103.6 658.7 106.4 656.6 108.6 652.7 111.6 648.9 113.9 641.4 116.8 626.9 121.3 618.1 125.1 613.4 126.1Z" fill="#003fff" fill-rule="evenodd"/><path d="M661.6 41.0 660.6 40.9 660.8 40.1 661.9 39.2 663.1 39.0 663.1 39.9 661.6 41.0ZM614.4 124.9 612.4 124.9 610.6 124.5 605.9 121.4 599.6 115.8 595.0 110.1 593.8 107.9 593.6 105.9 594.6 102.4 596.5 98.4 599.1 94.4 602.9 90.0 606.1 86.9 609.6 84.2 617.9 80.0 633.9 74.3 636.6 69.7 639.9 66.5 644.4 64.2 646.4 63.9 647.6 64.1 648.6 65.0 649.3 66.4 650.1 70.8 657.6 77.7 660.0 80.9 661.3 83.6 662.6 89.1 662.7 92.1 661.6 97.6 659.4 103.4 657.6 106.0 655.6 108.1 652.1 110.9 648.4 113.1 641.1 115.9 627.6 119.8 618.6 123.8 614.4 124.9Z" fill="#0056ff" fill-rule="evenodd"/><path d="M614.9 123.9 612.9 124.1 611.1 123.7 606.9 121.2 600.4 115.6 595.9 110.2 594.6 107.9 594.3 105.9 595.2 102.6 597.0 98.6 599.6 94.7 603.1 90.6 606.4 87.5 610.1 84.7 614.1 82.6 619.1 80.5 636.7 74.9 637.8 71.4 640.1 68.7 643.1 67.1 644.6 66.9 645.9 67.2 647.3 69.1 647.4 72.1 651.9 74.8 655.4 77.6 657.8 80.4 659.5 83.6 660.0 86.1 661.2 89.1 661.3 92.4 660.4 97.9 658.3 103.4 656.6 105.9 654.6 107.9 651.4 110.4 647.9 112.4 640.6 115.2 628.4 118.6 618.9 122.7 614.9 123.9Z" fill="#0069ff" fill-rule="evenodd"/><path d="M641.9 74.4 640.9 74.4 640.2 73.9 640.1 72.1 641.4 70.4 643.1 69.9 644.0 70.6 644.1 72.1 643.2 73.6 641.9 74.4ZM613.9 123.1 612.1 123.0 610.4 122.4 605.1 118.8 599.8 113.9 596.7 110.1 595.4 107.9 595.2 105.1 597.0 100.1 599.4 96.0 602.9 91.8 608.4 86.8 615.1 83.0 627.1 79.0 641.6 75.2 644.9 74.7 646.9 75.0 651.1 76.8 654.4 79.1 656.1 81.1 657.4 83.3 658.1 86.4 659.4 88.9 659.8 91.6 659.6 95.9 658.7 99.9 657.3 103.1 655.4 105.9 651.1 109.5 646.4 112.1 639.6 114.6 628.9 117.4 618.4 122.0 613.9 123.1Z" fill="#007cff" fill-rule="evenodd"/><path d="M614.9 122.4 612.9 122.5 611.1 122.0 605.9 118.7 600.4 113.8 597.3 110.1 596.0 107.9 595.7 105.1 597.3 100.4 599.6 96.4 602.9 92.4 607.4 88.1 612.6 84.8 618.9 82.2 628.9 79.4 642.9 76.4 648.9 77.6 651.6 78.8 653.6 80.3 656.0 83.6 656.6 86.4 658.1 89.1 658.6 92.6 658.5 96.4 657.7 100.1 656.5 103.1 654.7 105.6 650.6 109.1 646.1 111.6 639.6 114.0 629.1 116.6 619.1 121.1 614.9 122.4Z" fill="#008dff" fill-rule="evenodd"/><path d="M613.6 121.9 610.4 121.0 604.9 117.2 600.2 112.9 597.6 109.6 596.5 107.6 596.4 104.6 598.0 99.9 600.5 95.9 603.9 91.9 608.1 88.1 613.4 85.0 619.6 82.7 629.4 80.2 642.4 77.8 644.4 78.7 646.6 78.8 649.4 79.5 652.8 81.6 654.4 83.9 655.0 86.6 656.7 89.1 657.5 94.1 657.3 97.6 656.6 100.9 655.4 103.5 653.6 105.7 649.4 109.1 645.1 111.3 638.9 113.5 629.4 115.8 618.6 120.7 613.6 121.9Z" fill="#009fff" fill-rule="evenodd"/><path d="M614.9 121.1 613.1 121.2 611.4 120.8 606.4 117.7 601.1 113.1 598.2 109.6 597.0 107.6 596.9 104.9 598.4 100.1 600.6 96.4 603.9 92.5 608.4 88.5 613.4 85.6 619.6 83.4 628.9 81.2 641.9 79.2 643.2 79.6 644.6 80.8 649.1 81.3 651.6 82.8 652.8 84.6 653.2 86.9 655.3 89.6 656.3 94.9 656.2 98.1 655.6 100.9 654.4 103.4 652.9 105.4 649.1 108.5 645.1 110.6 638.9 112.8 629.6 115.0 620.1 119.4 614.9 121.1Z" fill="#00b0ff" fill-rule="evenodd"/><path d="M615.4 120.4 613.6 120.6 611.9 120.2 606.9 117.4 601.6 112.9 597.6 107.6 597.4 104.9 598.8 100.4 601.0 96.6 604.1 92.9 608.6 88.9 613.6 86.1 619.9 84.0 628.6 82.2 641.4 80.6 643.1 81.2 644.6 82.7 647.9 82.9 650.1 84.1 650.9 85.4 651.2 87.1 652.8 88.6 653.8 90.4 655.0 95.6 655.0 98.4 654.5 100.9 653.5 103.1 651.9 105.1 648.4 108.1 644.6 110.1 638.4 112.3 629.9 114.2 623.6 117.3 615.4 120.4Z" fill="#00c3fe" fill-rule="evenodd"/><path d="M614.4 119.9 611.1 119.2 605.9 115.9 601.4 111.9 598.2 107.4 598.0 104.6 599.4 100.1 601.6 96.4 604.6 93.0 608.6 89.5 612.9 87.1 617.9 85.2 623.9 83.9 631.1 82.8 640.9 82.0 642.9 82.7 644.9 84.9 646.9 84.8 648.4 85.6 648.9 87.4 650.9 89.1 652.1 91.0 653.7 96.4 653.8 98.9 653.3 101.1 652.3 103.1 650.7 105.1 647.3 107.9 643.4 109.8 637.9 111.7 630.1 113.3 622.6 117.1 617.4 119.2 614.4 119.9Z" fill="#00d7fc" fill-rule="evenodd"/><path d="M615.1 119.1 611.9 118.8 606.9 115.9 602.1 111.9 599.8 109.1 598.7 107.1 598.7 103.9 600.3 99.4 602.8 95.6 606.6 91.7 611.9 88.2 618.1 85.8 629.4 84.0 637.6 83.5 640.6 83.5 642.1 83.9 644.9 86.9 646.1 87.0 646.6 87.9 649.1 90.0 651.6 94.4 652.4 98.9 651.5 102.4 648.6 105.9 645.9 107.8 642.4 109.4 637.1 111.1 630.4 112.4 623.4 116.1 615.1 119.1Z" fill="#00ebfb" fill-rule="evenodd"/><path d="M615.4 118.4 612.1 118.2 607.9 115.9 603.1 112.2 599.7 107.9 599.1 105.6 599.6 102.6 601.0 99.1 603.2 95.9 606.3 92.6 609.6 90.1 613.6 88.0 617.9 86.6 623.6 85.5 632.4 84.8 639.9 84.9 642.4 85.9 644.4 88.7 648.1 92.1 650.4 96.1 650.9 98.4 650.8 100.4 650.1 102.3 648.9 104.1 646.1 106.6 642.6 108.5 637.4 110.2 630.4 111.5 623.6 115.4 615.4 118.4Z" fill="#00f7e9" fill-rule="evenodd"/><path d="M615.9 117.6 612.6 117.6 608.6 115.7 603.6 111.9 600.3 107.9 599.7 105.6 600.2 102.4 601.7 98.9 603.9 95.7 606.9 92.7 610.4 90.2 614.1 88.4 618.4 87.2 624.1 86.3 632.6 85.9 639.6 86.3 641.9 87.3 643.0 88.9 643.4 90.6 647.0 94.1 648.9 97.4 649.2 99.1 649.1 100.9 647.3 104.1 645.1 106.1 641.8 107.9 636.9 109.5 630.4 110.6 623.9 114.6 615.9 117.6Z" fill="#00fac8" fill-rule="evenodd"/><path d="M614.6 117.1 611.6 116.5 606.9 113.7 603.4 110.8 600.8 107.4 600.3 104.9 601.0 101.6 602.5 98.4 604.9 95.3 607.9 92.5 611.1 90.4 614.9 88.8 618.9 87.8 624.6 87.1 632.4 87.1 638.6 87.7 640.9 88.6 641.8 90.1 642.1 92.9 645.4 95.5 647.1 98.4 647.2 101.4 645.6 104.2 643.6 105.9 640.6 107.4 636.1 108.8 630.6 109.6 623.1 114.2 617.9 116.3 614.6 117.1Z" fill="#00fda7" fill-rule="evenodd"/><path d="M614.9 116.4 611.6 115.8 607.1 113.2 603.7 110.4 601.3 107.1 600.9 104.6 601.6 101.4 603.1 98.3 605.4 95.4 608.4 92.8 611.6 90.8 615.4 89.3 619.4 88.4 624.9 88.0 632.1 88.3 637.6 89.1 639.8 90.1 640.5 91.9 640.1 94.7 643.6 97.1 645.2 99.6 645.2 101.9 643.9 104.1 641.5 105.9 638.4 107.3 634.6 108.2 630.6 108.6 626.9 111.4 623.4 113.4 618.1 115.6 614.9 116.4Z" fill="#00ff84" fill-rule="evenodd"/><path d="M615.4 115.6 612.4 115.3 608.1 113.1 604.5 110.4 602.0 107.1 601.5 104.9 602.1 101.6 603.5 98.6 605.6 95.8 608.4 93.4 611.6 91.4 615.1 90.0 619.1 89.2 624.1 88.9 629.4 89.3 635.6 90.3 638.1 91.4 638.7 93.4 637.8 96.6 641.1 98.1 643.0 100.4 643.1 102.1 642.1 103.9 640.2 105.4 637.4 106.6 634.1 107.3 630.6 107.5 627.1 110.4 623.6 112.5 619.1 114.5 615.4 115.6Z" fill="#00ff5f" fill-rule="evenodd"/><path d="M615.4 114.9 612.6 114.7 608.6 112.7 605.1 110.1 602.7 107.1 602.2 104.9 602.6 101.9 603.9 99.0 605.8 96.4 608.4 94.0 611.4 92.1 614.6 90.8 618.4 90.0 622.6 89.8 627.4 90.1 633.4 91.3 636.0 92.4 636.6 93.1 636.7 94.4 635.6 98.4 638.6 99.3 640.4 100.5 640.9 102.1 640.0 103.9 638.4 105.1 636.1 105.9 630.4 106.4 627.2 109.4 623.8 111.6 619.4 113.7 615.4 114.9Z" fill="#00ff3a" fill-rule="evenodd"/><path d="M615.6 114.1 612.9 114.0 609.1 112.3 605.8 109.9 603.5 107.1 602.8 104.9 603.1 102.1 604.2 99.4 606.0 96.9 608.4 94.6 611.1 92.9 614.4 91.6 617.9 90.8 621.9 90.6 626.4 91.0 631.4 92.2 634.0 93.4 634.7 94.4 634.8 95.6 633.3 100.1 636.1 100.4 637.8 101.1 638.6 102.4 638.1 103.6 636.6 104.6 634.9 105.1 630.4 105.0 627.4 108.1 624.1 110.6 619.9 112.8 615.6 114.1Z" fill="#14ff20" fill-rule="evenodd"/><path d="M615.6 113.4 613.1 113.3 609.6 111.8 606.4 109.6 604.2 107.1 603.5 105.1 603.7 102.4 604.7 99.6 606.4 97.2 608.6 95.1 611.4 93.4 614.4 92.2 617.6 91.6 621.4 91.5 625.4 91.9 629.8 93.1 632.2 94.4 633.0 96.1 632.4 98.9 630.7 102.6 628.3 106.1 625.7 108.6 622.6 110.7 619.1 112.4 615.6 113.4ZM634.1 104.1 632.1 103.9 631.5 102.9 632.3 102.1 633.6 101.8 635.1 101.8 636.2 102.4 636.1 103.4 634.1 104.1Z" fill="#3cff10" fill-rule="evenodd"/><path d="M615.9 112.6 613.4 112.6 610.4 111.4 607.1 109.4 605.0 107.1 604.2 105.1 604.3 102.6 605.1 100.1 606.6 97.7 608.6 95.8 611.1 94.1 613.9 93.0 617.1 92.4 620.6 92.3 624.1 92.7 628.0 93.9 630.3 95.1 631.2 96.6 630.9 99.1 629.5 102.6 627.5 105.6 625.1 108.1 622.4 110.0 619.1 111.6 615.9 112.6Z" fill="#64ff00" fill-rule="evenodd"/><path d="M615.9 111.9 613.4 111.8 610.6 110.8 607.8 109.1 605.8 107.1 605.0 105.4 604.8 103.1 605.5 100.6 606.8 98.4 608.6 96.4 610.9 94.9 613.4 93.8 616.4 93.2 619.4 93.1 622.6 93.5 625.9 94.4 628.4 95.6 629.5 97.1 629.5 99.1 628.4 102.4 626.5 105.4 624.4 107.6 621.9 109.5 618.9 111.0 615.9 111.9Z" fill="#92ff00" fill-rule="evenodd"/><path d="M615.9 111.1 613.6 111.1 610.9 110.2 608.2 108.6 606.5 106.9 605.7 105.1 605.5 103.1 606.0 100.9 607.1 98.9 608.6 97.1 610.6 95.7 613.1 94.6 615.6 94.0 621.4 94.2 624.4 95.1 626.6 96.2 627.9 97.6 628.0 99.4 627.3 102.1 625.8 104.9 623.8 107.1 621.5 108.9 618.6 110.3 615.9 111.1Z" fill="#c0ff00" fill-rule="evenodd"/><path d="M615.9 110.4 613.9 110.4 611.4 109.6 609.0 108.4 607.4 106.9 606.4 105.1 606.2 103.4 606.5 101.4 607.4 99.4 608.9 97.6 610.6 96.3 615.1 94.7 620.1 94.9 624.8 96.6 626.2 97.9 626.6 99.4 626.2 101.9 624.9 104.4 623.3 106.4 621.1 108.2 618.4 109.6 615.9 110.4Z" fill="#e2f500" fill-rule="evenodd"/><path d="M615.6 109.7 613.6 109.6 611.4 108.9 609.4 107.8 607.9 106.4 607.1 104.9 606.9 103.4 607.0 101.6 607.8 99.9 610.4 97.1 614.4 95.5 618.6 95.5 622.8 96.9 624.4 98.1 625.2 99.6 625.0 101.6 624.1 103.9 622.6 105.9 620.6 107.6 618.1 109.0 615.6 109.7Z" fill="#f9e100" fill-rule="evenodd"/><path d="M615.6 108.9 612.1 108.4 609.1 106.6 607.7 104.4 607.8 101.4 609.4 98.7 612.1 96.8 615.6 96.1 619.1 96.5 621.6 97.5 623.2 98.9 623.9 100.4 623.7 102.1 622.5 104.6 620.6 106.6 618.1 108.1 615.6 108.9Z" fill="#ffb400" fill-rule="evenodd"/><path d="M615.1 108.1 612.1 107.6 609.6 106.1 608.4 103.9 608.4 101.4 609.8 99.1 612.1 97.5 615.1 96.8 618.1 97.1 620.4 98.1 621.9 99.4 622.5 100.6 622.4 102.4 621.4 104.6 619.6 106.4 617.4 107.6 615.1 108.1Z" fill="#ff7d00" fill-rule="evenodd"/><path d="M616.4 107.1 614.4 107.3 612.3 106.9 610.5 105.9 609.4 104.4 608.9 102.6 609.3 100.9 610.3 99.4 611.9 98.3 614.4 97.5 616.9 97.7 619.4 98.7 621.0 100.4 621.2 102.4 620.4 104.3 618.6 106.1 616.4 107.1Z" fill="#ff4100" fill-rule="evenodd"/><path d="M615.9 106.4 614.1 106.5 612.4 106.1 610.9 105.1 610.0 103.9 609.7 102.6 609.9 101.1 610.7 99.9 612.1 98.8 614.1 98.2 616.4 98.3 618.4 99.2 619.7 100.6 620.0 102.4 619.4 104.0 617.9 105.5 615.9 106.4Z" fill="#ff1400" fill-rule="evenodd"/><path d="M615.4 105.6 612.4 105.2 610.6 103.4 610.4 102.1 610.7 100.9 612.6 99.2 614.4 98.8 616.1 99.1 617.6 99.9 618.6 101.1 618.8 102.6 618.2 103.9 616.9 105.1 615.4 105.6Z" fill="#f50000" fill-rule="evenodd"/></g></g>
<line x1="645.6" y1="18.2" x2="645.6" y2="161" stroke="#222" stroke-width="1.1"/>
<line x1="540.6" y1="81.4" x2="682.5" y2="81.4" stroke="#222" stroke-width="1.1"/>
<text x="544" y="29.1" font-size="9.6" fill="#1a1a1a" letter-spacing="0.35">Q1</text>
<text x="544" y="40.8" font-size="9.6" fill="#1a1a1a" letter-spacing="0.35">3.98%</text>
<text x="647.8" y="29.1" font-size="9.6" fill="#1a1a1a" letter-spacing="0.35">Q2</text>
<text x="647.8" y="40.8" font-size="9.6" fill="#e8f0ff" letter-spacing="0.35" class="w">5.66%</text>
<text x="544" y="142.8" font-size="9.6" fill="#1a1a1a" letter-spacing="0.35">Q4</text>
<text x="544" y="155.1" font-size="9.6" fill="#1a1a1a" letter-spacing="0.35">80.2%</text>
<text x="656.7" y="142.8" font-size="9.6" fill="#1a1a1a" letter-spacing="0.35">Q3</text>
<text x="656.7" y="155.1" font-size="9.6" fill="#1a1a1a" letter-spacing="0.35">10.1%</text>
<line x1="549.8" y1="161" x2="549.8" y2="164.8" stroke="#222" stroke-width="1.4"/>
<line x1="573.6" y1="161" x2="573.6" y2="164.8" stroke="#222" stroke-width="1.4"/>
<line x1="596.4" y1="161" x2="596.4" y2="164.8" stroke="#222" stroke-width="1.4"/>
<line x1="635.4" y1="161" x2="635.4" y2="164.8" stroke="#222" stroke-width="1.4"/>
<line x1="670.6" y1="161" x2="670.6" y2="164.8" stroke="#222" stroke-width="1.4"/>
<line x1="555.75" y1="161" x2="555.75" y2="163" stroke="#444" stroke-width="0.9"/>
<line x1="560.51" y1="161" x2="560.51" y2="163" stroke="#444" stroke-width="0.9"/>
<line x1="564.08" y1="161" x2="564.08" y2="163" stroke="#444" stroke-width="0.9"/>
<line x1="566.94" y1="161" x2="566.94" y2="163" stroke="#444" stroke-width="0.9"/>
<line x1="569.32" y1="161" x2="569.32" y2="163" stroke="#444" stroke-width="0.9"/>
<line x1="571.22" y1="161" x2="571.22" y2="163" stroke="#444" stroke-width="0.9"/>
<line x1="575.88" y1="161" x2="575.88" y2="163" stroke="#444" stroke-width="0.9"/>
<line x1="577.7" y1="161" x2="577.7" y2="163" stroke="#444" stroke-width="0.9"/>
<line x1="579.98" y1="161" x2="579.98" y2="163" stroke="#444" stroke-width="0.9"/>
<line x1="582.72" y1="161" x2="582.72" y2="163" stroke="#444" stroke-width="0.9"/>
<line x1="586.14" y1="161" x2="586.14" y2="163" stroke="#444" stroke-width="0.9"/>
<line x1="590.7" y1="161" x2="590.7" y2="163" stroke="#444" stroke-width="0.9"/>
<line x1="608.14" y1="161" x2="608.14" y2="163" stroke="#444" stroke-width="0.9"/>
<line x1="615.01" y1="161" x2="615.01" y2="163" stroke="#444" stroke-width="0.9"/>
<line x1="619.88" y1="161" x2="619.88" y2="163" stroke="#444" stroke-width="0.9"/>
<line x1="623.66" y1="161" x2="623.66" y2="163" stroke="#444" stroke-width="0.9"/>
<line x1="626.75" y1="161" x2="626.75" y2="163" stroke="#444" stroke-width="0.9"/>
<line x1="629.36" y1="161" x2="629.36" y2="163" stroke="#444" stroke-width="0.9"/>
<line x1="631.62" y1="161" x2="631.62" y2="163" stroke="#444" stroke-width="0.9"/>
<line x1="633.62" y1="161" x2="633.62" y2="163" stroke="#444" stroke-width="0.9"/>
<line x1="646" y1="161" x2="646" y2="163" stroke="#444" stroke-width="0.9"/>
<line x1="652.19" y1="161" x2="652.19" y2="163" stroke="#444" stroke-width="0.9"/>
<line x1="656.59" y1="161" x2="656.59" y2="163" stroke="#444" stroke-width="0.9"/>
<line x1="660" y1="161" x2="660" y2="163" stroke="#444" stroke-width="0.9"/>
<line x1="662.79" y1="161" x2="662.79" y2="163" stroke="#444" stroke-width="0.9"/>
<line x1="665.15" y1="161" x2="665.15" y2="163" stroke="#444" stroke-width="0.9"/>
<line x1="667.19" y1="161" x2="667.19" y2="163" stroke="#444" stroke-width="0.9"/>
<line x1="668.99" y1="161" x2="668.99" y2="163" stroke="#444" stroke-width="0.9"/>
<line x1="681.2" y1="161" x2="681.2" y2="163" stroke="#444" stroke-width="0.9"/>
<rect x="569.4" y="161.2" width="6.4" height="3" fill="#111"/>
<text x="545.9" y="173.6" font-size="9.6" fill="#1a1a1a">-10<tspan font-size="6.34" dx="0.5" dy="-3.46">3</tspan></text>
<text x="574.6" y="173.6" font-size="9.6" text-anchor="middle" fill="#1a1a1a">0</text>
<text x="593.8" y="173.6" font-size="9.6" fill="#1a1a1a">10<tspan font-size="6.34" dx="0.5" dy="-3.46">3</tspan></text>
<text x="632.8" y="173.6" font-size="9.6" fill="#1a1a1a">10<tspan font-size="6.34" dx="0.5" dy="-3.46">4</tspan></text>
<text x="668" y="173.6" font-size="9.6" fill="#1a1a1a">10<tspan font-size="6.34" dx="0.5" dy="-3.46">5</tspan></text>
<line x1="536.6" y1="29.6" x2="540.6" y2="29.6" stroke="#222" stroke-width="1.4"/>
<line x1="536.6" y1="57.1" x2="540.6" y2="57.1" stroke="#222" stroke-width="1.4"/>
<line x1="536.6" y1="89.5" x2="540.6" y2="89.5" stroke="#222" stroke-width="1.4"/>
<line x1="536.6" y1="108.8" x2="540.6" y2="108.8" stroke="#222" stroke-width="1.4"/>
<line x1="536.6" y1="159.8" x2="540.6" y2="159.8" stroke="#222" stroke-width="1.4"/>
<line x1="538.6" y1="48.82" x2="540.6" y2="48.82" stroke="#444" stroke-width="0.9"/>
<line x1="538.6" y1="43.98" x2="540.6" y2="43.98" stroke="#444" stroke-width="0.9"/>
<line x1="538.6" y1="40.54" x2="540.6" y2="40.54" stroke="#444" stroke-width="0.9"/>
<line x1="538.6" y1="37.88" x2="540.6" y2="37.88" stroke="#444" stroke-width="0.9"/>
<line x1="538.6" y1="35.7" x2="540.6" y2="35.7" stroke="#444" stroke-width="0.9"/>
<line x1="538.6" y1="33.86" x2="540.6" y2="33.86" stroke="#444" stroke-width="0.9"/>
<line x1="538.6" y1="32.27" x2="540.6" y2="32.27" stroke="#444" stroke-width="0.9"/>
<line x1="538.6" y1="30.86" x2="540.6" y2="30.86" stroke="#444" stroke-width="0.9"/>
<line x1="538.6" y1="79.75" x2="540.6" y2="79.75" stroke="#444" stroke-width="0.9"/>
<line x1="538.6" y1="74.04" x2="540.6" y2="74.04" stroke="#444" stroke-width="0.9"/>
<line x1="538.6" y1="69.99" x2="540.6" y2="69.99" stroke="#444" stroke-width="0.9"/>
<line x1="538.6" y1="66.85" x2="540.6" y2="66.85" stroke="#444" stroke-width="0.9"/>
<line x1="538.6" y1="64.29" x2="540.6" y2="64.29" stroke="#444" stroke-width="0.9"/>
<line x1="538.6" y1="62.12" x2="540.6" y2="62.12" stroke="#444" stroke-width="0.9"/>
<line x1="538.6" y1="60.24" x2="540.6" y2="60.24" stroke="#444" stroke-width="0.9"/>
<line x1="538.6" y1="58.58" x2="540.6" y2="58.58" stroke="#444" stroke-width="0.9"/>
<line x1="538.6" y1="106.87" x2="540.6" y2="106.87" stroke="#444" stroke-width="0.9"/>
<line x1="538.6" y1="104.94" x2="540.6" y2="104.94" stroke="#444" stroke-width="0.9"/>
<line x1="538.6" y1="102.62" x2="540.6" y2="102.62" stroke="#444" stroke-width="0.9"/>
<line x1="538.6" y1="100.11" x2="540.6" y2="100.11" stroke="#444" stroke-width="0.9"/>
<line x1="538.6" y1="97.22" x2="540.6" y2="97.22" stroke="#444" stroke-width="0.9"/>
<line x1="538.6" y1="93.75" x2="540.6" y2="93.75" stroke="#444" stroke-width="0.9"/>
<line x1="538.6" y1="113.9" x2="540.6" y2="113.9" stroke="#444" stroke-width="0.9"/>
<line x1="538.6" y1="119" x2="540.6" y2="119" stroke="#444" stroke-width="0.9"/>
<line x1="538.6" y1="125.12" x2="540.6" y2="125.12" stroke="#444" stroke-width="0.9"/>
<line x1="538.6" y1="131.75" x2="540.6" y2="131.75" stroke="#444" stroke-width="0.9"/>
<line x1="538.6" y1="139.4" x2="540.6" y2="139.4" stroke="#444" stroke-width="0.9"/>
<line x1="538.6" y1="148.58" x2="540.6" y2="148.58" stroke="#444" stroke-width="0.9"/>
<line x1="538.6" y1="21.32" x2="540.6" y2="21.32" stroke="#444" stroke-width="0.9"/>
<rect x="537.2" y="106" width="3.2" height="5.6" fill="#111"/>
<text x="520.13" y="33" font-size="9.6" fill="#1a1a1a">10<tspan font-size="6.34" dx="0.5" dy="-3.46">5</tspan></text>
<text x="520.13" y="60.5" font-size="9.6" fill="#1a1a1a">10<tspan font-size="6.34" dx="0.5" dy="-3.46">4</tspan></text>
<text x="520.13" y="92.9" font-size="9.6" fill="#1a1a1a">10<tspan font-size="6.34" dx="0.5" dy="-3.46">3</tspan></text>
<text x="526" y="112.2" font-size="9.6" text-anchor="middle" fill="#1a1a1a">0</text>
<text x="516.94" y="163.2" font-size="9.6" fill="#1a1a1a">-10<tspan font-size="6.34" dx="0.5" dy="-3.46">3</tspan></text>
<rect x="37.2" y="222.2" width="142.4" height="142.5" fill="none" stroke="#c9c9c9" stroke-width="0.9"/>
<line x1="37.2" y1="222.2" x2="37.2" y2="364.7" stroke="#a8a8a8" stroke-width="1"/>
<line x1="37.2" y1="364.7" x2="179.6" y2="364.7" stroke="#a8a8a8" stroke-width="1"/>
<clipPath id="clip_b0"><rect x="37.2" y="222.2" width="142.4" height="142.5"/></clipPath><g clip-path="url(#clip_b0)"><g filter="url(#bl)"><path d="M99.1 263.2 100.5 263.3 101.9 263.7 103.8 264.9 104.7 265.8 105.4 266.9 111.3 280.9 111.7 287.1 111.3 298.7 110.2 312.2 109.0 318.1 107.5 322.1 102.4 333.3 99.2 338.2 95.9 341.8 94.0 343.1 91.7 344.3 89.3 345.2 85.7 346.1 80.8 346.6 78.5 346.4 75.6 345.9 74.1 345.3 72.8 344.5 71.3 342.5 70.4 339.4 69.9 335.3 69.8 326.6 70.4 315.0 71.3 307.3 72.5 301.5 74.3 295.8 76.6 290.4 79.9 284.0 83.6 278.0 89.1 270.5 92.1 267.0 95.3 264.6 98.4 263.3Z" fill="#000aff" fill-rule="evenodd"/><path d="M82.1 344.1 78.4 343.9 75.4 342.8 73.6 340.9 72.7 338.1 72.2 332.9 72.2 323.4 73.3 312.9 74.8 305.6 76.4 300.2 78.9 294.2 85.6 282.8 88.6 278.7 94.6 271.8 97.1 269.9 99.4 269.4 100.7 270.1 102.1 272.1 106.6 280.9 107.5 283.9 108.1 292.1 108.1 299.9 107.5 309.1 106.4 316.6 105.1 320.6 100.7 330.6 98.4 334.6 95.5 338.4 93.2 340.4 89.9 342.2 85.9 343.5 82.1 344.1Z" fill="#001eff" fill-rule="evenodd"/><path d="M83.4 342.9 79.9 343.0 76.7 342.1 74.9 340.6 73.9 338.4 73.2 333.1 73.2 324.9 74.9 310.7 77.9 300.1 80.4 294.5 83.4 289.3 88.6 281.7 93.9 275.7 96.6 273.1 98.6 272.5 99.9 273.2 101.1 274.9 104.9 281.7 105.8 284.6 106.5 292.1 106.7 299.9 106.3 308.6 105.2 316.1 104.0 320.1 100.2 329.1 97.9 333.3 95.5 336.6 93.3 338.9 90.4 340.8 87.1 342.1 83.4 342.9Z" fill="#002cff" fill-rule="evenodd"/><path d="M82.9 342.1 79.6 342.1 77.1 341.3 75.5 339.9 74.6 337.6 74.0 332.6 73.9 324.6 75.7 310.9 78.6 301.0 81.1 295.6 83.6 291.2 91.4 280.8 96.1 275.9 97.4 275.2 98.4 275.2 100.1 276.7 103.3 281.9 104.6 286.4 105.3 292.6 105.6 300.9 105.4 308.9 104.3 316.4 103.1 320.1 99.4 328.9 97.1 333.0 94.6 336.3 92.6 338.4 89.6 340.2 86.4 341.4 82.9 342.1Z" fill="#003fff" fill-rule="evenodd"/><path d="M83.1 341.4 79.9 341.4 77.5 340.6 76.1 339.4 75.2 337.1 74.6 332.1 74.5 324.6 76.3 311.6 79.2 301.9 83.9 292.7 87.4 287.6 91.6 282.4 95.9 278.2 97.9 277.5 99.6 278.8 102.4 283.1 103.9 290.1 104.7 298.4 104.7 304.6 104.5 309.9 103.5 316.4 102.4 320.1 98.9 328.4 96.7 332.4 94.4 335.6 92.4 337.7 89.6 339.4 86.6 340.7 83.1 341.4Z" fill="#0056ff" fill-rule="evenodd"/><path d="M82.6 340.9 79.9 340.8 77.6 340.0 76.4 338.6 75.6 336.1 75.0 331.4 75.0 324.4 75.7 317.4 76.9 311.4 79.9 301.9 84.6 293.0 88.1 288.1 92.6 282.8 96.1 279.7 97.9 279.3 99.6 280.8 101.6 283.9 103.3 292.1 104.0 299.1 104.1 306.6 102.9 316.9 98.3 328.4 96.2 332.1 93.8 335.4 91.9 337.4 89.1 339.1 85.9 340.3 82.6 340.9Z" fill="#0069ff" fill-rule="evenodd"/><path d="M83.9 340.2 80.9 340.3 78.4 339.6 77.0 338.4 76.3 336.4 75.6 331.6 75.4 324.9 77.2 312.4 80.3 302.6 84.9 294.1 88.6 288.9 93.1 283.8 95.9 281.5 97.6 281.2 99.1 282.2 100.6 284.6 102.5 293.1 103.2 299.4 103.4 306.6 102.4 316.4 98.4 327.0 94.4 333.9 92.2 336.4 90.1 337.9 87.1 339.3 83.9 340.2Z" fill="#007cff" fill-rule="evenodd"/><path d="M82.9 339.9 80.1 339.8 78.1 338.9 77.0 337.4 76.3 334.9 75.8 330.1 75.8 324.1 77.6 312.1 80.6 303.0 85.1 294.7 88.9 289.6 93.1 284.9 95.6 282.8 97.4 282.4 98.9 283.4 100.1 285.7 101.6 291.4 102.5 297.4 103.0 308.1 101.9 316.9 97.6 327.8 95.6 331.4 93.4 334.5 91.4 336.6 89.0 338.1 85.9 339.3 82.9 339.9Z" fill="#008dff" fill-rule="evenodd"/><path d="M83.6 339.4 80.9 339.4 78.9 338.8 77.6 337.6 76.8 335.1 76.2 330.4 76.1 324.6 77.8 312.9 80.9 303.6 85.1 295.7 88.9 290.7 92.9 286.2 95.4 284.1 97.1 283.6 98.6 284.6 99.6 286.9 101.0 291.9 102.0 298.1 102.5 308.1 101.5 316.6 97.6 326.9 93.6 333.6 91.6 335.8 89.5 337.4 86.6 338.7 83.6 339.4Z" fill="#009fff" fill-rule="evenodd"/><path d="M84.1 338.9 81.1 339.0 79.1 338.4 77.9 337.1 77.2 335.1 76.6 330.6 76.4 324.6 78.1 313.4 81.1 304.2 85.2 296.6 88.9 291.7 92.6 287.6 95.1 285.4 96.9 284.9 98.1 285.9 99.1 288.2 101.5 298.6 102.1 308.1 101.1 316.6 97.6 326.1 93.7 332.9 91.6 335.3 89.6 336.8 87.0 338.1 84.1 338.9Z" fill="#00b0ff" fill-rule="evenodd"/><path d="M84.4 338.4 81.6 338.6 79.6 338.1 78.4 336.9 77.5 334.6 76.9 330.1 76.8 324.6 78.4 313.8 81.4 304.8 85.6 297.1 88.9 292.8 92.6 288.7 95.1 286.7 96.6 286.5 97.8 287.6 98.9 290.2 101.0 299.4 101.6 308.4 100.7 316.6 97.4 325.7 93.6 332.4 91.5 334.9 89.6 336.4 87.1 337.6 84.4 338.4Z" fill="#00c3fe" fill-rule="evenodd"/><path d="M82.6 338.1 80.4 337.8 79.0 336.9 78.2 335.1 77.5 332.1 77.2 323.4 79.0 312.9 82.0 304.6 86.0 297.6 92.4 290.1 94.6 288.3 96.1 288.0 97.2 288.9 98.4 291.4 100.6 300.6 101.1 309.1 100.1 317.4 96.4 327.0 92.4 333.3 90.4 335.3 88.1 336.7 85.4 337.7 82.6 338.1Z" fill="#00d7fc" fill-rule="evenodd"/><path d="M83.1 337.6 80.9 337.4 79.6 336.6 78.6 335.0 77.9 332.1 77.5 323.6 79.2 313.6 82.2 305.4 86.0 298.6 91.9 291.7 94.1 289.9 95.6 289.6 96.7 290.4 97.7 292.4 100.1 301.4 100.7 309.1 99.7 317.1 96.4 326.1 92.6 332.4 90.6 334.5 88.6 336.0 85.9 337.1 83.1 337.6Z" fill="#00ebfb" fill-rule="evenodd"/><path d="M83.1 337.1 81.1 336.9 79.9 336.1 78.9 334.4 78.2 331.4 77.9 323.4 79.6 313.9 82.6 305.6 86.4 299.2 92.1 292.7 94.1 291.3 95.4 291.2 96.6 292.4 97.6 294.8 99.7 302.9 100.2 310.1 99.2 317.4 95.9 326.1 92.3 332.1 90.4 334.2 88.4 335.6 85.9 336.6 83.1 337.1Z" fill="#00f7e9" fill-rule="evenodd"/><path d="M84.9 336.4 82.6 336.6 80.9 336.1 79.9 335.1 79.1 333.1 78.4 329.1 78.2 324.9 79.4 316.1 82.1 307.9 85.6 301.4 91.1 294.8 93.4 293.0 94.9 292.8 95.9 293.6 97.1 296.0 99.1 303.1 99.7 309.6 99.0 316.6 96.3 324.4 92.9 330.6 89.4 334.4 87.3 335.6 84.9 336.4Z" fill="#00fac8" fill-rule="evenodd"/><path d="M84.9 335.9 82.6 336.0 81.1 335.5 80.1 334.4 79.4 332.4 78.6 324.9 79.7 316.6 82.1 309.1 85.6 302.5 90.9 296.2 92.9 294.7 94.4 294.4 95.4 295.1 96.6 297.2 98.5 303.9 99.2 310.1 98.5 316.6 96.0 324.1 92.6 330.3 89.1 334.0 84.9 335.9Z" fill="#00fda7" fill-rule="evenodd"/><path d="M84.6 335.4 82.6 335.4 81.4 334.9 80.4 333.6 79.6 331.4 79.0 324.4 80.1 316.6 82.2 310.1 85.6 303.6 90.4 297.8 92.4 296.3 93.9 295.9 95.0 296.6 96.1 298.5 98.1 304.9 98.7 310.9 98.0 316.9 95.6 324.0 92.4 329.9 88.9 333.6 86.9 334.7 84.6 335.4Z" fill="#00ff84" fill-rule="evenodd"/><path d="M83.9 334.9 82.3 334.6 81.1 333.6 79.7 329.4 79.4 323.4 80.6 316.1 82.9 309.8 86.1 304.0 90.6 298.8 92.4 297.6 93.6 297.5 94.6 298.1 95.8 300.1 97.7 306.4 98.1 312.4 97.4 317.6 94.9 324.7 91.6 330.2 88.1 333.5 86.1 334.5 83.9 334.9Z" fill="#00ff5f" fill-rule="evenodd"/><path d="M85.1 334.1 83.4 334.2 82.1 333.7 81.3 332.6 80.5 330.6 79.7 324.6 80.6 317.7 82.6 311.5 85.9 305.4 90.1 300.4 91.9 299.2 93.1 299.0 94.1 299.6 95.1 301.0 97.0 306.4 97.6 311.9 97.1 316.9 95.0 323.4 92.1 328.9 88.6 332.6 85.1 334.1Z" fill="#00ff3a" fill-rule="evenodd"/><path d="M85.6 333.4 83.9 333.6 82.6 333.1 81.7 332.1 81.0 330.4 80.2 324.9 80.9 318.4 82.9 312.1 86.1 306.2 90.1 301.7 91.6 300.7 92.9 300.6 93.9 301.2 94.9 302.6 96.5 307.1 97.1 312.1 96.6 316.9 94.8 322.9 92.0 328.1 88.9 331.7 85.6 333.4Z" fill="#14ff20" fill-rule="evenodd"/><path d="M85.1 332.9 83.6 332.8 82.6 332.1 81.1 328.9 80.6 323.9 81.4 317.9 83.4 312.2 86.4 307.0 89.9 303.1 91.4 302.2 92.6 302.1 93.6 302.8 94.5 304.1 96.1 308.4 96.6 313.4 95.9 317.9 94.1 323.4 91.4 328.3 88.4 331.5 85.1 332.9Z" fill="#3cff10" fill-rule="evenodd"/><path d="M85.4 332.2 84.1 332.1 83.1 331.5 81.5 328.4 81.0 323.9 81.7 318.4 83.5 313.1 86.4 308.1 89.6 304.5 90.9 303.7 92.1 303.5 94.0 305.1 95.5 308.9 96.0 313.4 95.4 317.9 93.7 323.1 91.3 327.6 88.4 330.8 85.4 332.2Z" fill="#64ff00" fill-rule="evenodd"/><path d="M85.6 331.4 84.4 331.3 83.4 330.7 81.9 327.6 81.4 323.4 82.1 318.6 83.8 313.6 86.4 309.2 89.4 305.9 90.6 305.2 91.9 305.0 93.6 306.5 95.0 310.1 95.4 314.1 94.9 318.1 93.4 322.9 91.0 327.1 88.4 330.1 85.6 331.4Z" fill="#92ff00" fill-rule="evenodd"/><path d="M86.4 330.5 85.1 330.6 84.1 330.2 82.6 327.9 81.9 324.1 82.3 319.4 83.9 314.6 86.1 310.6 89.1 307.3 90.4 306.6 91.6 306.4 93.3 307.9 94.5 310.9 94.9 314.4 94.4 318.1 93.1 322.4 91.1 326.2 88.9 328.9 86.4 330.5Z" fill="#c0ff00" fill-rule="evenodd"/><path d="M86.4 329.7 84.4 329.3 82.9 327.0 82.3 323.4 82.8 319.1 84.3 314.9 86.4 311.4 89.1 308.5 90.4 307.9 91.4 307.9 92.9 309.1 94.0 311.9 94.3 315.1 93.8 318.6 92.6 322.4 90.7 325.9 88.6 328.3 86.4 329.7Z" fill="#e2f500" fill-rule="evenodd"/><path d="M86.9 328.7 84.9 328.6 83.4 326.6 82.8 323.6 83.1 319.9 84.2 316.1 86.2 312.6 88.6 310.0 90.9 309.2 92.4 310.2 93.4 312.4 93.7 315.1 93.4 318.4 92.4 321.8 90.8 324.9 88.9 327.3 86.9 328.7Z" fill="#f9e100" fill-rule="evenodd"/><path d="M86.6 327.9 84.9 327.5 83.7 325.6 83.2 322.9 83.6 319.4 84.9 315.9 86.6 313.1 88.9 311.0 90.6 310.5 91.9 311.4 92.9 313.5 93.1 316.1 92.7 319.1 91.6 322.4 90.1 325.0 88.4 327.0 86.6 327.9Z" fill="#ffb400" fill-rule="evenodd"/><path d="M87.1 326.9 85.4 326.8 84.3 325.4 83.7 322.9 84.0 319.9 85.0 316.9 86.6 314.1 88.6 312.2 90.4 311.8 91.6 312.6 92.3 314.4 92.5 316.6 92.2 319.1 90.1 324.1 88.6 325.9 87.1 326.9Z" fill="#ff7d00" fill-rule="evenodd"/><path d="M87.4 325.9 85.9 326.0 84.6 324.6 84.2 322.4 84.4 319.9 85.4 317.1 86.9 314.8 88.6 313.3 90.1 313.1 91.1 313.8 91.7 315.1 91.6 319.4 89.9 323.6 87.4 325.9Z" fill="#ff4100" fill-rule="evenodd"/><path d="M87.1 325.1 85.9 324.9 85.0 323.9 84.7 322.1 84.9 319.9 85.7 317.6 86.9 315.7 88.4 314.5 89.6 314.2 90.6 314.8 91.1 315.9 91.1 319.6 89.4 323.4 87.1 325.1Z" fill="#ff1400" fill-rule="evenodd"/><path d="M87.4 324.2 86.4 324.2 85.6 323.4 85.2 321.9 85.4 319.9 87.1 316.4 88.4 315.5 89.4 315.3 90.1 315.9 90.6 316.9 90.5 319.6 89.2 322.6 87.4 324.2Z" fill="#f50000" fill-rule="evenodd"/></g></g>
<rect x="111.2" y="227.8" width="65.4" height="133.5" fill="none" stroke="#2a2a2a" stroke-width="1.1"/>
<text x="124.87" y="236.9" font-size="10.2" fill="#1a1a1a">MERVL<tspan font-size="6" dy="-4">+</tspan></text>
<text x="144" y="249.3" font-size="10" text-anchor="middle" fill="#1a1a1a">0.23%</text>
<line x1="46.4" y1="364.7" x2="46.4" y2="368.5" stroke="#222" stroke-width="1.4"/>
<line x1="70.2" y1="364.7" x2="70.2" y2="368.5" stroke="#222" stroke-width="1.4"/>
<line x1="93" y1="364.7" x2="93" y2="368.5" stroke="#222" stroke-width="1.4"/>
<line x1="132" y1="364.7" x2="132" y2="368.5" stroke="#222" stroke-width="1.4"/>
<line x1="167.2" y1="364.7" x2="167.2" y2="368.5" stroke="#222" stroke-width="1.4"/>
<line x1="52.35" y1="364.7" x2="52.35" y2="366.7" stroke="#444" stroke-width="0.9"/>
<line x1="57.11" y1="364.7" x2="57.11" y2="366.7" stroke="#444" stroke-width="0.9"/>
<line x1="60.68" y1="364.7" x2="60.68" y2="366.7" stroke="#444" stroke-width="0.9"/>
<line x1="63.54" y1="364.7" x2="63.54" y2="366.7" stroke="#444" stroke-width="0.9"/>
<line x1="65.92" y1="364.7" x2="65.92" y2="366.7" stroke="#444" stroke-width="0.9"/>
<line x1="67.82" y1="364.7" x2="67.82" y2="366.7" stroke="#444" stroke-width="0.9"/>
<line x1="72.48" y1="364.7" x2="72.48" y2="366.7" stroke="#444" stroke-width="0.9"/>
<line x1="74.3" y1="364.7" x2="74.3" y2="366.7" stroke="#444" stroke-width="0.9"/>
<line x1="76.58" y1="364.7" x2="76.58" y2="366.7" stroke="#444" stroke-width="0.9"/>
<line x1="79.32" y1="364.7" x2="79.32" y2="366.7" stroke="#444" stroke-width="0.9"/>
<line x1="82.74" y1="364.7" x2="82.74" y2="366.7" stroke="#444" stroke-width="0.9"/>
<line x1="87.3" y1="364.7" x2="87.3" y2="366.7" stroke="#444" stroke-width="0.9"/>
<line x1="104.74" y1="364.7" x2="104.74" y2="366.7" stroke="#444" stroke-width="0.9"/>
<line x1="111.61" y1="364.7" x2="111.61" y2="366.7" stroke="#444" stroke-width="0.9"/>
<line x1="116.48" y1="364.7" x2="116.48" y2="366.7" stroke="#444" stroke-width="0.9"/>
<line x1="120.26" y1="364.7" x2="120.26" y2="366.7" stroke="#444" stroke-width="0.9"/>
<line x1="123.35" y1="364.7" x2="123.35" y2="366.7" stroke="#444" stroke-width="0.9"/>
<line x1="125.96" y1="364.7" x2="125.96" y2="366.7" stroke="#444" stroke-width="0.9"/>
<line x1="128.22" y1="364.7" x2="128.22" y2="366.7" stroke="#444" stroke-width="0.9"/>
<line x1="130.22" y1="364.7" x2="130.22" y2="366.7" stroke="#444" stroke-width="0.9"/>
<line x1="142.6" y1="364.7" x2="142.6" y2="366.7" stroke="#444" stroke-width="0.9"/>
<line x1="148.79" y1="364.7" x2="148.79" y2="366.7" stroke="#444" stroke-width="0.9"/>
<line x1="153.19" y1="364.7" x2="153.19" y2="366.7" stroke="#444" stroke-width="0.9"/>
<line x1="156.6" y1="364.7" x2="156.6" y2="366.7" stroke="#444" stroke-width="0.9"/>
<line x1="159.39" y1="364.7" x2="159.39" y2="366.7" stroke="#444" stroke-width="0.9"/>
<line x1="161.75" y1="364.7" x2="161.75" y2="366.7" stroke="#444" stroke-width="0.9"/>
<line x1="163.79" y1="364.7" x2="163.79" y2="366.7" stroke="#444" stroke-width="0.9"/>
<line x1="165.59" y1="364.7" x2="165.59" y2="366.7" stroke="#444" stroke-width="0.9"/>
<line x1="177.8" y1="364.7" x2="177.8" y2="366.7" stroke="#444" stroke-width="0.9"/>
<rect x="66" y="364.9" width="6.4" height="3" fill="#111"/>
<text x="42.5" y="377.3" font-size="9.6" fill="#1a1a1a">-10<tspan font-size="6.34" dx="0.5" dy="-3.46">3</tspan></text>
<text x="71.2" y="377.3" font-size="9.6" text-anchor="middle" fill="#1a1a1a">0</text>
<text x="90.4" y="377.3" font-size="9.6" fill="#1a1a1a">10<tspan font-size="6.34" dx="0.5" dy="-3.46">3</tspan></text>
<text x="129.4" y="377.3" font-size="9.6" fill="#1a1a1a">10<tspan font-size="6.34" dx="0.5" dy="-3.46">4</tspan></text>
<text x="164.6" y="377.3" font-size="9.6" fill="#1a1a1a">10<tspan font-size="6.34" dx="0.5" dy="-3.46">5</tspan></text>
<line x1="33" y1="228.9" x2="37.2" y2="228.9" stroke="#222" stroke-width="1.4"/>
<text x="32" y="232.3" font-size="9.8" text-anchor="end" fill="#1a1a1a">250k</text>
<line x1="33" y1="256.02" x2="37.2" y2="256.02" stroke="#222" stroke-width="1.4"/>
<text x="32" y="259.42" font-size="9.8" text-anchor="end" fill="#1a1a1a">200k</text>
<line x1="33" y1="283.14" x2="37.2" y2="283.14" stroke="#222" stroke-width="1.4"/>
<text x="32" y="286.54" font-size="9.8" text-anchor="end" fill="#1a1a1a">150k</text>
<line x1="33" y1="310.26" x2="37.2" y2="310.26" stroke="#222" stroke-width="1.4"/>
<text x="32" y="313.66" font-size="9.8" text-anchor="end" fill="#1a1a1a">100k</text>
<line x1="33" y1="337.38" x2="37.2" y2="337.38" stroke="#222" stroke-width="1.4"/>
<text x="32" y="340.78" font-size="9.8" text-anchor="end" fill="#1a1a1a">50k</text>
<line x1="33" y1="364.5" x2="37.2" y2="364.5" stroke="#222" stroke-width="1.4"/>
<text x="32" y="367.9" font-size="9.8" text-anchor="end" fill="#1a1a1a">0k</text>
<line x1="35.2" y1="234.32" x2="37.2" y2="234.32" stroke="#444" stroke-width="0.9"/>
<line x1="35.2" y1="239.75" x2="37.2" y2="239.75" stroke="#444" stroke-width="0.9"/>
<line x1="35.2" y1="245.17" x2="37.2" y2="245.17" stroke="#444" stroke-width="0.9"/>
<line x1="35.2" y1="250.6" x2="37.2" y2="250.6" stroke="#444" stroke-width="0.9"/>
<line x1="35.2" y1="261.44" x2="37.2" y2="261.44" stroke="#444" stroke-width="0.9"/>
<line x1="35.2" y1="266.87" x2="37.2" y2="266.87" stroke="#444" stroke-width="0.9"/>
<line x1="35.2" y1="272.29" x2="37.2" y2="272.29" stroke="#444" stroke-width="0.9"/>
<line x1="35.2" y1="277.72" x2="37.2" y2="277.72" stroke="#444" stroke-width="0.9"/>
<line x1="35.2" y1="288.56" x2="37.2" y2="288.56" stroke="#444" stroke-width="0.9"/>
<line x1="35.2" y1="293.99" x2="37.2" y2="293.99" stroke="#444" stroke-width="0.9"/>
<line x1="35.2" y1="299.41" x2="37.2" y2="299.41" stroke="#444" stroke-width="0.9"/>
<line x1="35.2" y1="304.84" x2="37.2" y2="304.84" stroke="#444" stroke-width="0.9"/>
<line x1="35.2" y1="315.68" x2="37.2" y2="315.68" stroke="#444" stroke-width="0.9"/>
<line x1="35.2" y1="321.11" x2="37.2" y2="321.11" stroke="#444" stroke-width="0.9"/>
<line x1="35.2" y1="326.53" x2="37.2" y2="326.53" stroke="#444" stroke-width="0.9"/>
<line x1="35.2" y1="331.96" x2="37.2" y2="331.96" stroke="#444" stroke-width="0.9"/>
<line x1="35.2" y1="342.8" x2="37.2" y2="342.8" stroke="#444" stroke-width="0.9"/>
<line x1="35.2" y1="348.23" x2="37.2" y2="348.23" stroke="#444" stroke-width="0.9"/>
<line x1="35.2" y1="353.65" x2="37.2" y2="353.65" stroke="#444" stroke-width="0.9"/>
<line x1="35.2" y1="359.08" x2="37.2" y2="359.08" stroke="#444" stroke-width="0.9"/>
<line x1="156" y1="338.2" x2="156" y2="389.5" stroke="#000" stroke-width="1.35"/>
<path d="M153.6 386.8L158.4 386.8L156 391z" fill="#111"/>
<rect x="188.7" y="222.2" width="143.1" height="142.5" fill="none" stroke="#c9c9c9" stroke-width="0.9"/>
<line x1="188.7" y1="222.2" x2="188.7" y2="364.7" stroke="#a8a8a8" stroke-width="1"/>
<line x1="188.7" y1="364.7" x2="331.8" y2="364.7" stroke="#a8a8a8" stroke-width="1"/>
<clipPath id="clip_b1"><rect x="188.7" y="222.2" width="143.1" height="142.5"/></clipPath><g clip-path="url(#clip_b1)"><g filter="url(#bl)"><path d="M256.0 259.7 253.2 260.0 250.6 260.8 247.7 262.4 246.3 264.0 245.7 265.6 244.8 269.8 244.2 271.6 243.3 273.0 240.4 276.2 237.8 279.8 235.8 283.1 233.7 287.0 230.2 295.2 227.4 303.4 225.3 311.6 224.2 318.6 223.6 325.6 223.6 334.3 224.2 338.6 225.0 340.7 226.8 343.0 228.2 344.1 229.8 344.8 231.5 345.2 234.4 345.3 239.1 344.8 243.2 344.0 251.7 341.5 255.9 339.8 258.2 338.6 261.3 336.1 264.8 331.5 267.4 326.7 269.3 321.9 271.5 313.3 273.1 303.5 273.5 298.6 273.5 293.5 272.9 286.2 269.3 270.5 267.9 266.6 266.7 264.3 265.3 262.5 263.2 261.0 260.2 260.0 256.7 259.7Z" fill="#000aff" fill-rule="evenodd"/><path d="M237.6 342.6 233.4 342.7 230.4 341.9 228.2 339.9 226.8 336.6 226.3 330.9 226.8 321.6 227.9 314.9 229.6 307.8 233.6 296.8 237.8 288.1 241.1 282.9 247.9 274.6 251.3 267.4 252.6 266.2 254.6 265.5 257.1 265.2 259.4 265.5 262.1 267.2 264.3 270.9 268.3 284.4 269.5 289.9 269.9 295.4 269.7 302.4 268.4 311.9 266.4 319.6 264.8 324.1 262.5 328.9 259.6 333.1 257.3 335.4 253.6 337.7 246.6 340.6 242.1 341.9 237.6 342.6Z" fill="#001eff" fill-rule="evenodd"/><path d="M236.1 341.6 232.6 341.4 230.4 340.4 228.6 338.1 227.8 335.1 227.5 330.4 228.1 320.9 229.2 314.6 231.1 307.6 235.5 296.4 241.5 285.4 249.5 275.9 253.5 268.9 255.6 267.8 258.6 267.9 260.8 269.4 262.6 272.6 266.7 285.1 267.9 290.9 268.4 295.9 268.2 302.9 267.0 311.9 264.9 320.1 263.1 324.9 261.0 328.9 258.3 332.6 255.9 334.9 252.4 337.0 245.6 339.9 240.9 341.1 236.1 341.6Z" fill="#002cff" fill-rule="evenodd"/><path d="M238.9 340.6 234.6 340.7 232.1 340.2 230.3 338.9 229.0 336.4 228.4 331.4 228.6 325.1 229.3 319.1 230.7 312.6 232.7 305.9 235.8 298.4 241.1 288.4 245.6 282.4 251.0 276.6 254.6 270.7 255.9 269.8 257.6 269.7 259.5 270.9 261.1 273.8 265.3 285.4 266.7 290.9 267.2 295.6 267.1 302.4 266.0 311.1 264.4 318.4 262.9 322.6 260.7 327.4 258.3 331.1 256.0 333.6 252.7 335.9 246.9 338.6 242.6 340.0 238.9 340.6Z" fill="#003fff" fill-rule="evenodd"/><path d="M239.4 339.9 235.4 340.0 232.6 339.5 230.9 338.3 229.8 336.1 229.2 331.4 229.4 325.4 230.0 319.6 231.3 313.4 234.6 303.4 237.6 296.9 241.6 289.6 246.1 283.6 251.9 277.6 255.5 272.6 256.4 272.0 257.4 271.9 259.1 273.5 261.1 277.9 264.6 287.1 265.9 293.4 266.3 299.6 266.0 304.1 265.1 311.4 263.6 318.1 262.3 322.1 260.2 326.6 257.9 330.4 255.6 332.9 252.4 335.2 247.1 337.8 243.1 339.2 239.4 339.9Z" fill="#0056ff" fill-rule="evenodd"/><path d="M238.9 339.4 235.1 339.4 232.6 338.8 231.1 337.5 230.2 335.4 229.7 330.9 230.0 324.4 230.7 318.6 232.2 312.4 234.3 305.9 237.3 299.1 242.6 289.6 246.9 284.2 252.3 278.9 255.4 275.3 256.4 274.4 257.4 274.4 259.2 276.6 263.1 285.6 264.4 289.9 265.2 294.6 265.5 300.9 265.1 306.6 264.3 312.1 262.7 318.9 259.3 327.1 256.9 330.6 254.9 332.8 251.6 335.0 246.4 337.5 242.4 338.8 238.9 339.4Z" fill="#0069ff" fill-rule="evenodd"/><path d="M240.4 338.7 236.6 338.8 233.6 338.4 232.0 337.4 231.0 335.6 230.4 331.4 230.5 325.4 231.1 319.9 232.4 313.9 236.0 303.6 239.0 297.4 243.2 290.4 249.4 283.0 255.4 277.5 257.1 277.0 258.9 279.0 262.1 285.9 263.5 290.1 264.4 294.9 264.7 300.9 264.4 306.6 263.7 311.9 262.2 318.4 259.1 326.1 256.9 329.6 254.9 332.0 252.0 334.1 247.6 336.4 244.1 337.8 240.4 338.7Z" fill="#007cff" fill-rule="evenodd"/><path d="M239.4 338.4 236.1 338.4 233.6 337.9 232.1 336.8 231.2 334.9 230.8 330.6 231.0 324.4 231.7 318.9 233.1 312.9 235.3 306.4 238.4 299.7 243.9 290.5 250.1 283.3 255.1 279.1 256.9 278.6 258.5 280.4 261.6 286.6 262.9 290.4 263.9 295.4 264.2 301.1 263.8 307.4 263.1 312.4 261.6 318.9 258.3 326.6 256.2 329.9 254.1 332.1 251.1 334.2 246.2 336.6 242.6 337.8 239.4 338.4Z" fill="#008dff" fill-rule="evenodd"/><path d="M240.1 337.9 236.6 338.0 233.9 337.4 232.5 336.4 231.7 334.6 231.2 330.6 231.4 324.6 232.0 319.4 233.4 313.6 237.0 303.6 240.1 297.6 244.1 291.2 246.9 287.7 250.9 283.6 254.9 280.6 256.6 280.2 258.3 281.9 261.0 287.1 262.4 290.9 263.3 295.9 263.7 301.4 263.3 307.6 262.7 312.4 261.2 318.6 258.1 326.1 256.1 329.4 254.1 331.6 251.3 333.6 246.9 335.9 243.6 337.2 240.1 337.9Z" fill="#009fff" fill-rule="evenodd"/><path d="M240.9 337.4 237.6 337.6 234.6 337.1 233.1 336.3 232.2 334.6 231.6 330.9 231.7 325.1 232.4 319.9 233.6 314.4 237.3 304.1 240.4 298.2 244.4 291.9 247.4 288.2 251.4 284.2 254.6 282.0 256.4 281.7 258.1 283.4 260.4 287.6 261.7 291.1 262.7 296.1 263.1 301.4 262.8 307.6 262.2 312.1 260.8 318.4 257.9 325.7 255.9 328.9 254.0 331.1 251.4 333.1 247.4 335.3 244.1 336.6 240.9 337.4Z" fill="#00b0ff" fill-rule="evenodd"/><path d="M238.9 337.1 235.9 336.9 233.9 336.1 232.8 334.9 232.3 332.9 232.0 328.9 232.4 322.4 234.6 312.4 236.7 306.6 239.6 300.7 245.2 291.9 248.1 288.4 251.9 284.9 254.4 283.3 256.1 283.1 258.1 285.2 260.4 289.6 261.7 294.1 262.4 298.6 262.5 303.1 262.1 309.6 260.0 319.4 256.9 326.6 255.0 329.4 253.1 331.4 250.1 333.4 245.6 335.6 242.1 336.7 238.9 337.1Z" fill="#00c3fe" fill-rule="evenodd"/><path d="M239.9 336.6 236.9 336.5 234.6 335.9 233.5 334.9 232.8 333.1 232.5 329.9 232.7 323.9 233.3 319.1 234.6 313.9 238.2 304.6 241.4 298.7 244.9 293.5 247.9 289.8 251.4 286.4 253.9 284.7 255.6 284.4 257.4 285.9 259.6 289.9 261.0 294.4 261.8 298.9 262.0 303.1 261.6 309.4 259.7 318.9 256.8 325.9 254.9 328.8 253.0 330.9 250.2 332.9 246.1 335.0 242.9 336.1 239.9 336.6Z" fill="#00d7fc" fill-rule="evenodd"/><path d="M240.1 336.1 237.4 336.1 235.1 335.5 233.9 334.4 233.3 332.9 232.9 329.6 233.1 323.9 233.8 319.1 235.0 314.1 238.4 305.4 243.9 296.1 247.1 291.8 250.4 288.4 253.4 286.1 255.4 285.7 257.1 287.2 259.0 290.6 260.4 294.9 261.2 299.6 261.1 309.6 259.2 318.9 256.4 325.7 254.4 328.6 252.6 330.6 249.8 332.6 245.9 334.6 243.1 335.6 240.1 336.1Z" fill="#00ebfb" fill-rule="evenodd"/><path d="M240.4 335.6 237.6 335.6 235.6 335.0 234.4 333.9 233.7 332.4 233.4 329.1 233.6 323.6 235.4 314.5 238.6 306.1 243.9 297.2 247.4 292.6 250.4 289.6 253.4 287.4 255.1 287.1 256.7 288.4 258.4 291.5 259.8 295.6 260.6 300.4 260.6 309.9 258.7 318.9 256.0 325.4 252.5 330.1 249.8 332.1 246.1 334.1 243.3 335.1 240.4 335.6Z" fill="#00f7e9" fill-rule="evenodd"/><path d="M240.6 335.1 238.1 335.1 236.1 334.5 234.9 333.5 234.2 331.9 233.9 328.4 234.1 323.4 235.8 314.6 239.1 306.4 244.1 298.0 247.9 293.3 250.6 290.5 253.1 288.8 254.9 288.6 256.4 289.9 257.9 292.7 259.1 296.4 260.0 300.9 260.0 310.1 258.2 318.9 255.5 325.4 252.1 329.8 249.6 331.7 246.1 333.6 243.4 334.6 240.6 335.1Z" fill="#00fac8" fill-rule="evenodd"/><path d="M240.1 334.6 237.9 334.4 236.1 333.8 235.1 332.7 234.6 331.1 234.3 326.9 234.6 322.6 236.4 314.4 239.5 306.6 244.4 298.8 250.4 292.0 252.6 290.3 254.4 290.0 255.9 291.2 257.4 294.0 258.6 297.7 259.4 301.6 259.4 310.4 257.7 319.1 254.9 325.4 251.6 329.6 248.9 331.6 245.6 333.3 242.9 334.3 240.1 334.6Z" fill="#00fda7" fill-rule="evenodd"/><path d="M242.1 333.9 239.6 334.1 237.4 333.7 236.1 332.9 235.3 331.4 234.9 324.4 236.3 316.1 239.4 308.1 244.1 300.2 250.4 293.2 252.6 291.7 254.1 291.6 255.4 292.6 256.8 295.1 258.1 298.9 258.7 302.1 258.9 310.1 257.4 318.1 255.1 324.1 252.0 328.6 247.1 332.1 242.1 333.9Z" fill="#00ff84" fill-rule="evenodd"/><path d="M242.1 333.4 239.9 333.5 237.9 333.1 236.6 332.4 235.8 330.9 235.4 324.1 236.7 316.4 239.9 308.3 244.4 301.1 250.4 294.6 252.1 293.4 253.6 293.2 254.9 294.1 256.1 296.2 257.4 299.6 258.0 302.9 258.3 310.4 256.9 318.1 254.6 324.0 251.6 328.3 247.1 331.6 242.1 333.4Z" fill="#00ff5f" fill-rule="evenodd"/><path d="M241.6 332.9 239.6 332.9 237.9 332.3 236.8 331.4 236.2 329.9 235.9 323.1 237.4 315.9 240.4 308.4 244.9 301.6 250.4 295.9 252.1 294.9 253.4 294.9 254.6 295.9 256.0 298.4 257.5 304.6 257.6 311.4 256.2 318.9 253.9 324.4 250.9 328.4 246.1 331.6 241.6 332.9Z" fill="#00ff3a" fill-rule="evenodd"/><path d="M242.9 332.1 240.6 332.3 238.9 332.0 237.6 331.2 236.8 329.9 236.4 323.9 237.6 316.9 240.4 309.6 244.4 303.4 249.4 298.0 251.4 296.7 252.9 296.5 254.1 297.4 255.4 299.6 256.9 305.4 257.0 311.4 255.9 318.1 253.8 323.4 251.1 327.4 247.3 330.4 242.9 332.1Z" fill="#14ff20" fill-rule="evenodd"/><path d="M242.1 331.6 240.1 331.6 238.6 331.0 237.7 330.1 237.2 328.6 237.0 322.6 238.3 316.1 241.1 309.5 244.9 303.9 249.6 299.2 251.4 298.2 252.6 298.2 253.9 299.3 254.9 301.1 256.3 306.9 256.3 312.6 255.1 318.9 253.0 323.9 250.4 327.5 246.2 330.4 242.1 331.6Z" fill="#3cff10" fill-rule="evenodd"/><path d="M243.1 330.9 239.6 330.7 238.5 329.9 237.8 328.6 237.4 323.4 238.5 317.1 240.9 311.1 244.1 306.0 248.9 301.0 250.6 300.0 252.1 299.9 253.1 300.6 254.1 302.1 255.6 307.4 255.7 312.6 254.7 318.4 252.8 323.1 250.4 326.7 246.9 329.4 243.1 330.9Z" fill="#64ff00" fill-rule="evenodd"/><path d="M243.6 330.2 241.6 330.3 240.1 330.0 239.1 329.3 238.4 328.1 237.9 323.4 238.9 317.6 241.1 311.9 244.1 307.1 248.6 302.5 250.4 301.6 251.6 301.5 252.6 302.2 253.6 303.7 254.9 308.1 255.1 312.9 254.2 318.1 252.5 322.6 250.2 326.1 247.1 328.7 243.6 330.2Z" fill="#92ff00" fill-rule="evenodd"/><path d="M242.9 329.6 240.1 329.1 238.8 326.9 238.5 322.4 239.6 317.1 241.7 312.1 244.6 307.6 248.4 304.0 249.9 303.2 251.1 303.1 252.1 303.7 253.1 305.1 254.3 309.1 254.4 314.1 253.4 318.9 251.6 323.1 249.5 326.1 246.1 328.6 242.9 329.6Z" fill="#c0ff00" fill-rule="evenodd"/><path d="M243.4 328.9 241.9 328.9 240.6 328.4 239.4 326.5 239.1 322.4 240.0 317.4 242.1 312.5 244.9 308.4 248.4 305.3 249.6 304.8 250.9 304.8 252.6 306.7 253.6 310.1 253.7 314.6 252.9 318.9 251.3 322.6 249.2 325.6 246.4 327.8 243.4 328.9Z" fill="#e2f500" fill-rule="evenodd"/><path d="M243.6 328.1 241.1 327.6 239.9 325.9 239.6 322.1 240.5 317.6 242.4 313.2 244.9 309.5 247.9 306.9 249.1 306.3 250.4 306.3 252.0 307.9 252.9 310.9 253.1 314.9 252.3 318.9 250.8 322.4 248.9 325.1 246.4 327.1 243.6 328.1Z" fill="#f9e100" fill-rule="evenodd"/><path d="M243.6 327.4 241.6 326.9 240.4 324.9 240.2 321.6 241.1 317.6 242.8 313.6 245.1 310.4 247.6 308.3 249.9 307.8 251.4 309.1 252.3 311.9 252.4 315.4 251.6 319.1 250.2 322.4 248.4 324.9 246.1 326.6 243.6 327.4Z" fill="#ffb400" fill-rule="evenodd"/><path d="M244.9 326.4 242.6 326.4 241.3 325.1 240.8 322.4 241.3 318.6 242.8 314.9 244.9 311.8 247.4 309.6 249.4 309.2 250.6 310.1 251.5 312.4 251.7 315.4 251.2 318.4 250.1 321.3 248.7 323.6 246.9 325.4 244.9 326.4Z" fill="#ff7d00" fill-rule="evenodd"/><path d="M244.6 325.7 242.9 325.5 241.8 324.1 241.4 321.6 242.0 318.4 243.2 315.4 245.1 312.6 247.1 311.0 248.9 310.6 250.1 311.5 250.9 313.4 251.0 315.9 250.6 318.6 249.6 321.1 248.2 323.4 246.4 324.9 244.6 325.7Z" fill="#ff4100" fill-rule="evenodd"/><path d="M245.4 324.7 243.6 324.8 242.6 323.9 242.0 321.9 242.3 319.1 243.3 316.4 244.9 314.0 246.6 312.4 248.4 312.0 249.4 312.5 250.1 314.1 250.1 318.1 248.2 322.4 246.9 323.8 245.4 324.7Z" fill="#ff1400" fill-rule="evenodd"/><path d="M245.1 323.9 243.9 323.8 242.9 322.6 242.7 320.9 243.0 318.6 244.0 316.4 245.4 314.5 246.9 313.4 248.1 313.3 249.1 314.1 249.5 315.4 249.2 318.9 247.6 322.1 246.4 323.3 245.1 323.9Z" fill="#f50000" fill-rule="evenodd"/></g></g>
<rect x="263.2" y="227.8" width="65.4" height="133.5" fill="none" stroke="#2a2a2a" stroke-width="1.1"/>
<text x="276.87" y="236.9" font-size="10.2" fill="#1a1a1a">MERVL<tspan font-size="6" dy="-4">+</tspan></text>
<text x="296" y="249.3" font-size="10" text-anchor="middle" fill="#1a1a1a">6.25%</text>
<line x1="197.9" y1="364.7" x2="197.9" y2="368.5" stroke="#222" stroke-width="1.4"/>
<line x1="221.7" y1="364.7" x2="221.7" y2="368.5" stroke="#222" stroke-width="1.4"/>
<line x1="244.5" y1="364.7" x2="244.5" y2="368.5" stroke="#222" stroke-width="1.4"/>
<line x1="283.5" y1="364.7" x2="283.5" y2="368.5" stroke="#222" stroke-width="1.4"/>
<line x1="318.7" y1="364.7" x2="318.7" y2="368.5" stroke="#222" stroke-width="1.4"/>
<line x1="203.85" y1="364.7" x2="203.85" y2="366.7" stroke="#444" stroke-width="0.9"/>
<line x1="208.61" y1="364.7" x2="208.61" y2="366.7" stroke="#444" stroke-width="0.9"/>
<line x1="212.18" y1="364.7" x2="212.18" y2="366.7" stroke="#444" stroke-width="0.9"/>
<line x1="215.04" y1="364.7" x2="215.04" y2="366.7" stroke="#444" stroke-width="0.9"/>
<line x1="217.42" y1="364.7" x2="217.42" y2="366.7" stroke="#444" stroke-width="0.9"/>
<line x1="219.32" y1="364.7" x2="219.32" y2="366.7" stroke="#444" stroke-width="0.9"/>
<line x1="223.98" y1="364.7" x2="223.98" y2="366.7" stroke="#444" stroke-width="0.9"/>
<line x1="225.8" y1="364.7" x2="225.8" y2="366.7" stroke="#444" stroke-width="0.9"/>
<line x1="228.08" y1="364.7" x2="228.08" y2="366.7" stroke="#444" stroke-width="0.9"/>
<line x1="230.82" y1="364.7" x2="230.82" y2="366.7" stroke="#444" stroke-width="0.9"/>
<line x1="234.24" y1="364.7" x2="234.24" y2="366.7" stroke="#444" stroke-width="0.9"/>
<line x1="238.8" y1="364.7" x2="238.8" y2="366.7" stroke="#444" stroke-width="0.9"/>
<line x1="256.24" y1="364.7" x2="256.24" y2="366.7" stroke="#444" stroke-width="0.9"/>
<line x1="263.11" y1="364.7" x2="263.11" y2="366.7" stroke="#444" stroke-width="0.9"/>
<line x1="267.98" y1="364.7" x2="267.98" y2="366.7" stroke="#444" stroke-width="0.9"/>
<line x1="271.76" y1="364.7" x2="271.76" y2="366.7" stroke="#444" stroke-width="0.9"/>
<line x1="274.85" y1="364.7" x2="274.85" y2="366.7" stroke="#444" stroke-width="0.9"/>
<line x1="277.46" y1="364.7" x2="277.46" y2="366.7" stroke="#444" stroke-width="0.9"/>
<line x1="279.72" y1="364.7" x2="279.72" y2="366.7" stroke="#444" stroke-width="0.9"/>
<line x1="281.72" y1="364.7" x2="281.72" y2="366.7" stroke="#444" stroke-width="0.9"/>
<line x1="294.1" y1="364.7" x2="294.1" y2="366.7" stroke="#444" stroke-width="0.9"/>
<line x1="300.29" y1="364.7" x2="300.29" y2="366.7" stroke="#444" stroke-width="0.9"/>
<line x1="304.69" y1="364.7" x2="304.69" y2="366.7" stroke="#444" stroke-width="0.9"/>
<line x1="308.1" y1="364.7" x2="308.1" y2="366.7" stroke="#444" stroke-width="0.9"/>
<line x1="310.89" y1="364.7" x2="310.89" y2="366.7" stroke="#444" stroke-width="0.9"/>
<line x1="313.25" y1="364.7" x2="313.25" y2="366.7" stroke="#444" stroke-width="0.9"/>
<line x1="315.29" y1="364.7" x2="315.29" y2="366.7" stroke="#444" stroke-width="0.9"/>
<line x1="317.09" y1="364.7" x2="317.09" y2="366.7" stroke="#444" stroke-width="0.9"/>
<line x1="329.3" y1="364.7" x2="329.3" y2="366.7" stroke="#444" stroke-width="0.9"/>
<rect x="217.5" y="364.9" width="6.4" height="3" fill="#111"/>
<text x="194" y="377.3" font-size="9.6" fill="#1a1a1a">-10<tspan font-size="6.34" dx="0.5" dy="-3.46">3</tspan></text>
<text x="222.7" y="377.3" font-size="9.6" text-anchor="middle" fill="#1a1a1a">0</text>
<text x="241.9" y="377.3" font-size="9.6" fill="#1a1a1a">10<tspan font-size="6.34" dx="0.5" dy="-3.46">3</tspan></text>
<text x="280.9" y="377.3" font-size="9.6" fill="#1a1a1a">10<tspan font-size="6.34" dx="0.5" dy="-3.46">4</tspan></text>
<text x="316.1" y="377.3" font-size="9.6" fill="#1a1a1a">10<tspan font-size="6.34" dx="0.5" dy="-3.46">5</tspan></text>
<line x1="184.5" y1="228.9" x2="188.7" y2="228.9" stroke="#222" stroke-width="1.4"/>
<line x1="184.5" y1="256.02" x2="188.7" y2="256.02" stroke="#222" stroke-width="1.4"/>
<line x1="184.5" y1="283.14" x2="188.7" y2="283.14" stroke="#222" stroke-width="1.4"/>
<line x1="184.5" y1="310.26" x2="188.7" y2="310.26" stroke="#222" stroke-width="1.4"/>
<line x1="184.5" y1="337.38" x2="188.7" y2="337.38" stroke="#222" stroke-width="1.4"/>
<line x1="184.5" y1="364.5" x2="188.7" y2="364.5" stroke="#222" stroke-width="1.4"/>
<line x1="186.7" y1="234.32" x2="188.7" y2="234.32" stroke="#444" stroke-width="0.9"/>
<line x1="186.7" y1="239.75" x2="188.7" y2="239.75" stroke="#444" stroke-width="0.9"/>
<line x1="186.7" y1="245.17" x2="188.7" y2="245.17" stroke="#444" stroke-width="0.9"/>
<line x1="186.7" y1="250.6" x2="188.7" y2="250.6" stroke="#444" stroke-width="0.9"/>
<line x1="186.7" y1="261.44" x2="188.7" y2="261.44" stroke="#444" stroke-width="0.9"/>
<line x1="186.7" y1="266.87" x2="188.7" y2="266.87" stroke="#444" stroke-width="0.9"/>
<line x1="186.7" y1="272.29" x2="188.7" y2="272.29" stroke="#444" stroke-width="0.9"/>
<line x1="186.7" y1="277.72" x2="188.7" y2="277.72" stroke="#444" stroke-width="0.9"/>
<line x1="186.7" y1="288.56" x2="188.7" y2="288.56" stroke="#444" stroke-width="0.9"/>
<line x1="186.7" y1="293.99" x2="188.7" y2="293.99" stroke="#444" stroke-width="0.9"/>
<line x1="186.7" y1="299.41" x2="188.7" y2="299.41" stroke="#444" stroke-width="0.9"/>
<line x1="186.7" y1="304.84" x2="188.7" y2="304.84" stroke="#444" stroke-width="0.9"/>
<line x1="186.7" y1="315.68" x2="188.7" y2="315.68" stroke="#444" stroke-width="0.9"/>
<line x1="186.7" y1="321.11" x2="188.7" y2="321.11" stroke="#444" stroke-width="0.9"/>
<line x1="186.7" y1="326.53" x2="188.7" y2="326.53" stroke="#444" stroke-width="0.9"/>
<line x1="186.7" y1="331.96" x2="188.7" y2="331.96" stroke="#444" stroke-width="0.9"/>
<line x1="186.7" y1="342.8" x2="188.7" y2="342.8" stroke="#444" stroke-width="0.9"/>
<line x1="186.7" y1="348.23" x2="188.7" y2="348.23" stroke="#444" stroke-width="0.9"/>
<line x1="186.7" y1="353.65" x2="188.7" y2="353.65" stroke="#444" stroke-width="0.9"/>
<line x1="186.7" y1="359.08" x2="188.7" y2="359.08" stroke="#444" stroke-width="0.9"/>
<line x1="307.5" y1="338.2" x2="307.5" y2="389.5" stroke="#000" stroke-width="1.35"/>
<path d="M305.1 386.8L309.9 386.8L307.5 391z" fill="#111"/>
<rect x="340.3" y="222.2" width="143.9" height="142.5" fill="none" stroke="#c9c9c9" stroke-width="0.9"/>
<line x1="340.3" y1="222.2" x2="340.3" y2="364.7" stroke="#a8a8a8" stroke-width="1"/>
<line x1="340.3" y1="364.7" x2="484.2" y2="364.7" stroke="#a8a8a8" stroke-width="1"/>
<clipPath id="clip_b2"><rect x="340.3" y="222.2" width="143.9" height="142.5"/></clipPath><g clip-path="url(#clip_b2)"><g filter="url(#bl)"><path d="M402.8 261.5 399.5 262.3 397.4 263.6 394.6 266.9 392.0 271.2 388.8 280.9 387.6 282.6 385.0 285.5 383.5 288.5 381.2 298.2 378.0 309.0 376.5 316.8 375.3 325.2 374.6 333.8 374.7 341.4 375.4 345.1 376.7 347.7 378.8 349.6 381.8 350.7 384.2 351.0 387.9 351.0 393.4 350.1 402.0 347.5 406.0 345.7 409.4 343.8 412.5 341.4 416.0 336.9 420.9 328.8 421.9 326.5 422.7 323.8 424.1 315.7 424.6 307.2 424.0 283.7 423.3 276.5 422.6 273.3 421.9 271.4 420.9 269.8 419.8 268.5 417.9 266.9 416.4 266.3 411.5 265.3 410.3 264.5 407.6 262.3 406.6 261.8 405.0 261.4 403.4 261.4Z" fill="#000aff" fill-rule="evenodd"/><path d="M387.4 348.9 383.6 348.6 380.6 347.5 378.8 345.9 377.6 343.1 377.1 339.4 377.3 332.4 379.5 317.6 382.2 307.6 388.2 290.1 393.5 283.1 396.8 275.1 399.1 271.3 401.6 268.8 402.9 268.3 404.4 268.3 409.1 270.6 415.2 272.4 416.9 274.2 418.2 277.4 419.6 285.9 420.9 305.9 420.7 313.4 419.6 321.1 418.1 325.9 415.8 330.6 411.7 337.1 409.1 340.1 403.9 343.6 398.6 346.1 392.4 348.1 387.4 348.9Z" fill="#001eff" fill-rule="evenodd"/><path d="M389.4 347.6 385.6 347.8 382.1 347.0 380.1 345.6 378.9 343.4 378.3 339.6 378.3 332.9 380.4 319.6 383.5 308.4 389.8 291.4 395.4 284.1 400.7 273.6 402.6 271.7 404.4 271.5 413.6 274.5 415.0 276.1 416.1 278.9 417.4 285.1 418.4 293.4 419.4 305.9 419.2 313.1 418.2 320.6 416.9 325.1 414.9 329.4 411.0 335.9 408.4 339.0 403.7 342.4 399.1 344.8 394.0 346.6 389.4 347.6Z" fill="#002cff" fill-rule="evenodd"/><path d="M389.4 346.9 385.9 347.0 382.6 346.3 380.7 344.9 379.6 342.8 379.1 339.4 379.1 332.9 381.3 319.6 384.6 308.4 391.1 292.1 396.9 284.9 401.9 275.5 403.4 274.2 405.1 274.1 412.5 276.4 413.8 278.1 414.8 281.4 417.1 293.9 418.2 306.1 418.1 313.4 416.9 321.1 415.6 325.4 413.4 329.9 410.0 335.6 407.6 338.4 403.1 341.8 398.7 344.1 393.9 345.9 389.4 346.9Z" fill="#003fff" fill-rule="evenodd"/><path d="M388.1 346.4 384.9 346.2 382.1 345.1 380.6 343.4 379.9 340.9 379.7 335.6 380.1 330.6 381.8 320.9 383.5 314.4 385.8 307.9 392.2 292.9 398.3 285.4 402.6 277.6 403.6 276.5 404.9 276.1 409.6 277.1 411.5 278.1 412.8 280.4 414.4 286.3 416.1 296.1 417.3 309.9 416.6 317.4 415.4 323.4 413.8 327.4 410.6 333.1 408.4 336.4 406.2 338.6 402.0 341.6 397.4 344.0 392.4 345.7 388.1 346.4Z" fill="#0056ff" fill-rule="evenodd"/><path d="M388.1 345.9 384.9 345.6 382.5 344.6 381.2 343.1 380.5 340.6 380.5 331.1 382.0 322.9 383.6 316.2 386.5 308.1 393.5 292.6 398.9 286.4 403.9 278.5 405.6 277.7 408.4 278.2 410.4 279.2 411.6 281.4 413.2 286.6 415.3 296.6 416.5 309.9 416.0 316.9 414.8 322.9 413.5 326.4 410.6 331.9 408.2 335.6 405.9 338.1 401.8 341.1 397.1 343.6 392.4 345.2 388.1 345.9Z" fill="#0069ff" fill-rule="evenodd"/><path d="M390.1 345.1 386.6 345.3 383.9 344.7 382.1 343.4 381.2 341.4 380.8 337.6 381.0 332.1 383.4 319.1 387.0 308.9 394.1 293.6 400.0 286.9 404.4 280.3 405.9 279.4 407.6 279.5 409.4 280.6 410.7 283.1 412.2 287.9 414.4 297.9 415.7 309.9 415.4 316.1 414.3 322.1 413.2 325.4 410.9 330.1 408.2 334.6 406.1 337.1 402.3 340.1 398.1 342.6 394.2 344.1 390.1 345.1Z" fill="#007cff" fill-rule="evenodd"/><path d="M389.1 344.9 386.1 344.9 383.6 344.1 382.1 342.6 381.4 340.6 381.2 336.4 381.4 331.6 384.0 318.6 387.6 308.7 394.8 293.9 400.5 287.6 404.9 281.5 406.1 280.7 407.4 280.8 409.1 282.3 410.9 286.7 413.2 295.1 414.8 304.4 415.1 313.1 413.7 322.4 410.1 330.6 407.7 334.6 405.5 337.1 401.6 340.1 397.4 342.5 393.1 344.1 389.1 344.9Z" fill="#008dff" fill-rule="evenodd"/><path d="M390.1 344.4 386.9 344.5 384.4 343.9 382.9 342.9 381.9 340.9 381.5 337.1 381.7 332.1 384.1 319.7 388.0 309.1 395.4 294.4 401.2 288.1 405.1 283.1 406.1 282.4 407.1 282.4 408.6 284.0 410.4 288.4 412.5 295.6 414.2 304.9 414.6 313.4 413.3 322.1 409.9 330.1 407.4 334.3 405.4 336.7 401.7 339.6 397.9 341.9 394.1 343.4 390.1 344.4Z" fill="#009fff" fill-rule="evenodd"/><path d="M389.1 344.1 386.4 344.1 384.1 343.3 382.9 342.1 382.2 340.1 382.1 331.6 384.7 319.1 388.6 309.0 396.1 294.6 404.9 285.3 405.9 284.6 406.9 284.5 408.6 286.8 411.1 293.7 413.7 305.4 414.0 313.9 412.7 322.6 408.6 331.4 406.6 334.6 404.6 336.8 401.0 339.6 396.9 342.0 392.9 343.4 389.1 344.1Z" fill="#00b0ff" fill-rule="evenodd"/><path d="M390.1 343.6 387.1 343.7 384.9 343.1 383.4 341.9 382.6 340.1 382.3 336.4 382.5 331.9 384.9 320.1 389.0 309.4 396.6 295.3 398.2 293.4 404.4 287.6 406.4 286.7 407.9 288.2 410.3 294.1 413.1 305.6 413.4 313.9 412.2 322.4 408.7 330.4 406.6 333.9 404.6 336.2 401.1 339.1 397.4 341.3 393.6 342.8 390.1 343.6Z" fill="#00c3fe" fill-rule="evenodd"/><path d="M390.6 343.2 387.6 343.3 385.4 342.8 383.9 341.7 383.1 339.9 382.7 336.1 382.9 331.9 385.2 320.6 387.1 315.1 389.5 309.6 397.4 295.7 399.1 293.6 403.9 289.6 405.1 288.8 406.1 288.8 407.6 290.5 409.6 295.0 412.5 306.1 412.9 314.1 411.7 322.4 408.3 330.1 406.2 333.6 404.4 335.8 401.0 338.6 397.4 340.9 394.1 342.3 390.6 343.2Z" fill="#00d7fc" fill-rule="evenodd"/><path d="M388.6 342.9 386.4 342.6 384.6 341.7 383.7 340.4 383.3 338.4 383.1 334.1 383.5 330.4 386.0 319.4 390.3 309.4 398.1 296.2 399.9 294.2 402.9 291.8 404.4 290.9 405.6 290.8 407.1 292.2 408.8 295.6 411.9 306.6 412.3 314.9 411.7 319.6 410.9 323.1 406.8 331.9 405.1 334.4 403.2 336.4 399.9 338.9 395.9 341.2 392.1 342.4 388.6 342.9Z" fill="#00ebfb" fill-rule="evenodd"/><path d="M389.9 342.4 387.4 342.3 385.4 341.6 384.4 340.5 383.8 338.6 383.8 331.1 386.1 320.6 388.0 315.4 390.6 309.9 398.6 297.0 400.1 295.2 402.1 293.6 403.9 292.6 405.1 292.5 406.6 293.8 408.1 296.8 411.2 306.9 411.7 314.6 411.3 319.1 410.5 322.6 406.8 330.9 405.1 333.6 403.4 335.6 400.3 338.1 396.6 340.4 393.1 341.8 389.9 342.4Z" fill="#00f7e9" fill-rule="evenodd"/><path d="M390.4 341.9 387.9 341.9 386.1 341.4 385.0 340.4 384.3 338.6 384.1 331.4 386.2 321.6 389.9 312.6 395.4 303.5 400.6 296.1 402.9 294.5 404.6 294.2 406.0 295.4 407.5 298.1 410.6 307.4 411.1 314.9 410.0 322.4 406.6 330.4 403.2 335.1 400.1 337.7 396.7 339.9 393.6 341.2 390.4 341.9Z" fill="#00fac8" fill-rule="evenodd"/><path d="M390.6 341.4 388.2 341.4 386.5 340.9 385.4 339.9 384.7 338.4 384.5 331.6 386.5 322.4 389.1 315.4 393.1 308.2 400.9 297.5 402.6 296.1 404.1 295.9 405.4 296.9 406.9 299.4 408.9 304.2 409.9 307.7 410.4 315.1 409.4 322.4 406.1 330.1 402.9 334.8 399.9 337.4 396.6 339.5 393.6 340.7 390.6 341.4Z" fill="#00fda7" fill-rule="evenodd"/><path d="M390.6 340.9 388.4 340.8 386.6 340.2 385.6 339.1 385.1 337.6 385.0 331.1 386.9 322.6 389.6 315.6 393.4 309.0 400.9 299.2 402.4 298.0 403.6 297.7 404.9 298.6 406.4 300.9 408.3 305.1 409.2 308.4 409.8 315.6 408.8 322.6 405.6 330.1 402.4 334.6 399.5 337.1 396.4 339.1 393.6 340.3 390.6 340.9Z" fill="#00ff84" fill-rule="evenodd"/><path d="M390.6 340.4 388.6 340.3 387.1 339.8 386.1 338.8 385.6 337.1 385.5 330.9 387.3 322.6 390.1 315.9 393.9 309.5 400.6 301.2 402.1 300.0 403.4 299.8 404.6 300.6 406.4 303.4 407.8 306.4 408.6 309.4 409.1 316.4 408.1 322.9 405.0 330.1 402.0 334.4 399.1 336.8 396.1 338.7 393.4 339.9 390.6 340.4Z" fill="#00ff5f" fill-rule="evenodd"/><path d="M392.4 339.6 388.4 339.6 387.1 338.9 386.3 337.6 385.8 335.1 385.8 332.1 387.2 324.6 389.9 317.5 393.9 310.7 400.1 303.3 401.9 302.0 403.1 301.8 404.4 302.6 405.9 304.7 407.9 310.0 408.5 316.4 407.7 322.4 405.1 328.9 402.2 333.4 397.4 337.5 394.9 338.8 392.4 339.6Z" fill="#00ff3a" fill-rule="evenodd"/><path d="M392.1 339.2 390.1 339.3 388.4 338.9 387.3 338.1 386.6 336.6 386.4 331.1 387.9 324.0 390.6 317.2 394.6 310.8 400.4 304.7 401.9 303.7 403.1 303.7 404.4 304.7 405.6 306.6 407.4 311.8 407.8 317.9 406.8 323.1 404.3 329.4 401.6 333.4 396.9 337.3 392.1 339.2Z" fill="#14ff20" fill-rule="evenodd"/><path d="M391.9 338.6 388.6 338.3 387.6 337.4 387.0 335.9 386.9 330.6 388.5 323.6 391.2 317.4 395.1 311.4 400.1 306.4 401.6 305.5 402.9 305.5 404.1 306.5 405.2 308.1 406.8 313.4 407.0 319.1 405.8 324.4 403.3 330.1 400.7 333.6 396.1 337.2 391.9 338.6Z" fill="#3cff10" fill-rule="evenodd"/><path d="M392.9 337.9 390.9 338.1 389.4 337.8 388.4 337.1 387.6 335.8 387.3 331.1 388.6 324.9 391.0 318.9 394.6 313.3 399.4 308.4 401.1 307.3 402.4 307.2 403.4 307.9 404.5 309.4 406.0 313.9 406.3 319.1 405.4 323.9 403.3 329.1 400.9 332.6 396.9 336.2 392.9 337.9Z" fill="#64ff00" fill-rule="evenodd"/><path d="M392.6 337.4 389.6 337.1 388.6 336.3 388.0 334.9 387.9 330.1 389.2 324.4 391.6 318.9 395.1 313.8 399.4 309.8 400.9 309.0 402.1 309.0 403.1 309.7 404.1 311.1 405.5 315.6 405.6 320.1 404.4 324.9 402.4 329.6 400.0 332.9 396.4 335.9 392.6 337.4Z" fill="#92ff00" fill-rule="evenodd"/><path d="M393.4 336.6 390.4 336.6 389.3 335.9 388.6 334.7 388.3 330.6 389.4 325.4 391.6 320.1 394.6 315.6 398.6 311.7 400.4 310.8 401.6 310.7 403.4 312.4 404.7 316.4 404.8 320.4 403.8 324.9 402.1 329.1 399.9 332.3 396.6 335.1 393.4 336.6Z" fill="#c0ff00" fill-rule="evenodd"/><path d="M392.6 336.1 390.1 335.6 389.0 333.4 389.0 329.1 390.2 324.4 392.4 319.9 395.4 315.9 398.9 312.9 400.1 312.4 401.4 312.4 403.1 314.4 404.1 318.1 403.9 321.9 402.7 326.4 401.0 329.9 398.6 332.9 395.6 335.1 392.6 336.1Z" fill="#e2f500" fill-rule="evenodd"/><path d="M393.4 335.4 390.9 335.1 389.6 333.4 389.4 329.6 390.5 325.1 392.4 321.0 395.1 317.3 398.4 314.6 399.9 314.0 400.9 314.1 402.4 315.5 403.3 318.6 403.2 322.1 402.2 326.1 400.7 329.4 398.6 332.1 395.9 334.4 393.4 335.4Z" fill="#f9e100" fill-rule="evenodd"/><path d="M393.6 334.7 391.4 334.4 390.1 332.6 390.0 329.4 390.9 325.4 392.9 321.3 395.4 318.1 398.1 316.0 400.4 315.7 401.8 317.1 402.5 319.6 402.3 322.9 401.4 326.4 400.0 329.4 398.1 331.8 395.9 333.7 393.6 334.7Z" fill="#ffb400" fill-rule="evenodd"/><path d="M393.9 333.9 391.9 333.7 390.7 332.1 390.5 329.1 391.4 325.6 393.1 322.0 395.4 319.2 397.9 317.5 399.9 317.2 401.1 318.4 401.6 320.6 401.5 323.6 400.7 326.6 399.5 329.1 397.8 331.4 395.9 333.0 393.9 333.9Z" fill="#ff7d00" fill-rule="evenodd"/><path d="M394.1 333.1 392.4 333.0 391.3 331.6 391.1 329.1 391.7 326.1 393.1 323.1 395.1 320.5 397.4 318.9 399.1 318.7 400.3 319.6 400.8 321.4 400.7 323.9 400.1 326.6 399.0 328.9 397.5 330.9 395.9 332.3 394.1 333.1Z" fill="#ff4100" fill-rule="evenodd"/><path d="M393.9 332.4 392.6 332.1 391.8 330.6 391.7 328.4 392.4 325.9 393.6 323.4 395.4 321.4 397.1 320.3 398.6 320.2 399.6 321.1 400.0 322.6 399.9 324.9 399.2 327.1 396.9 330.7 395.4 331.9 393.9 332.4Z" fill="#ff1400" fill-rule="evenodd"/><path d="M394.9 331.4 393.4 331.4 392.6 330.6 392.2 328.9 392.6 326.9 393.5 324.6 394.9 322.8 396.4 321.7 397.9 321.5 398.6 322.0 399.1 323.1 398.8 326.4 397.1 329.6 394.9 331.4Z" fill="#f50000" fill-rule="evenodd"/></g></g>
<rect x="415.3" y="227.8" width="65.4" height="133.5" fill="none" stroke="#2a2a2a" stroke-width="1.1"/>
<text x="428.97" y="236.9" font-size="10.2" fill="#1a1a1a">MERVL<tspan font-size="6" dy="-4">+</tspan></text>
<text x="448.1" y="249.3" font-size="10" text-anchor="middle" fill="#1a1a1a">6.45%</text>
<line x1="349.5" y1="364.7" x2="349.5" y2="368.5" stroke="#222" stroke-width="1.4"/>
<line x1="373.3" y1="364.7" x2="373.3" y2="368.5" stroke="#222" stroke-width="1.4"/>
<line x1="396.1" y1="364.7" x2="396.1" y2="368.5" stroke="#222" stroke-width="1.4"/>
<line x1="435.1" y1="364.7" x2="435.1" y2="368.5" stroke="#222" stroke-width="1.4"/>
<line x1="470.3" y1="364.7" x2="470.3" y2="368.5" stroke="#222" stroke-width="1.4"/>
<line x1="355.45" y1="364.7" x2="355.45" y2="366.7" stroke="#444" stroke-width="0.9"/>
<line x1="360.21" y1="364.7" x2="360.21" y2="366.7" stroke="#444" stroke-width="0.9"/>
<line x1="363.78" y1="364.7" x2="363.78" y2="366.7" stroke="#444" stroke-width="0.9"/>
<line x1="366.64" y1="364.7" x2="366.64" y2="366.7" stroke="#444" stroke-width="0.9"/>
<line x1="369.02" y1="364.7" x2="369.02" y2="366.7" stroke="#444" stroke-width="0.9"/>
<line x1="370.92" y1="364.7" x2="370.92" y2="366.7" stroke="#444" stroke-width="0.9"/>
<line x1="375.58" y1="364.7" x2="375.58" y2="366.7" stroke="#444" stroke-width="0.9"/>
<line x1="377.4" y1="364.7" x2="377.4" y2="366.7" stroke="#444" stroke-width="0.9"/>
<line x1="379.68" y1="364.7" x2="379.68" y2="366.7" stroke="#444" stroke-width="0.9"/>
<line x1="382.42" y1="364.7" x2="382.42" y2="366.7" stroke="#444" stroke-width="0.9"/>
<line x1="385.84" y1="364.7" x2="385.84" y2="366.7" stroke="#444" stroke-width="0.9"/>
<line x1="390.4" y1="364.7" x2="390.4" y2="366.7" stroke="#444" stroke-width="0.9"/>
<line x1="407.84" y1="364.7" x2="407.84" y2="366.7" stroke="#444" stroke-width="0.9"/>
<line x1="414.71" y1="364.7" x2="414.71" y2="366.7" stroke="#444" stroke-width="0.9"/>
<line x1="419.58" y1="364.7" x2="419.58" y2="366.7" stroke="#444" stroke-width="0.9"/>
<line x1="423.36" y1="364.7" x2="423.36" y2="366.7" stroke="#444" stroke-width="0.9"/>
<line x1="426.45" y1="364.7" x2="426.45" y2="366.7" stroke="#444" stroke-width="0.9"/>
<line x1="429.06" y1="364.7" x2="429.06" y2="366.7" stroke="#444" stroke-width="0.9"/>
<line x1="431.32" y1="364.7" x2="431.32" y2="366.7" stroke="#444" stroke-width="0.9"/>
<line x1="433.32" y1="364.7" x2="433.32" y2="366.7" stroke="#444" stroke-width="0.9"/>
<line x1="445.7" y1="364.7" x2="445.7" y2="366.7" stroke="#444" stroke-width="0.9"/>
<line x1="451.89" y1="364.7" x2="451.89" y2="366.7" stroke="#444" stroke-width="0.9"/>
<line x1="456.29" y1="364.7" x2="456.29" y2="366.7" stroke="#444" stroke-width="0.9"/>
<line x1="459.7" y1="364.7" x2="459.7" y2="366.7" stroke="#444" stroke-width="0.9"/>
<line x1="462.49" y1="364.7" x2="462.49" y2="366.7" stroke="#444" stroke-width="0.9"/>
<line x1="464.85" y1="364.7" x2="464.85" y2="366.7" stroke="#444" stroke-width="0.9"/>
<line x1="466.89" y1="364.7" x2="466.89" y2="366.7" stroke="#444" stroke-width="0.9"/>
<line x1="468.69" y1="364.7" x2="468.69" y2="366.7" stroke="#444" stroke-width="0.9"/>
<line x1="480.9" y1="364.7" x2="480.9" y2="366.7" stroke="#444" stroke-width="0.9"/>
<rect x="369.1" y="364.9" width="6.4" height="3" fill="#111"/>
<text x="345.6" y="377.3" font-size="9.6" fill="#1a1a1a">-10<tspan font-size="6.34" dx="0.5" dy="-3.46">3</tspan></text>
<text x="374.3" y="377.3" font-size="9.6" text-anchor="middle" fill="#1a1a1a">0</text>
<text x="393.5" y="377.3" font-size="9.6" fill="#1a1a1a">10<tspan font-size="6.34" dx="0.5" dy="-3.46">3</tspan></text>
<text x="432.5" y="377.3" font-size="9.6" fill="#1a1a1a">10<tspan font-size="6.34" dx="0.5" dy="-3.46">4</tspan></text>
<text x="467.7" y="377.3" font-size="9.6" fill="#1a1a1a">10<tspan font-size="6.34" dx="0.5" dy="-3.46">5</tspan></text>
<line x1="336.1" y1="228.9" x2="340.3" y2="228.9" stroke="#222" stroke-width="1.4"/>
<line x1="336.1" y1="256.02" x2="340.3" y2="256.02" stroke="#222" stroke-width="1.4"/>
<line x1="336.1" y1="283.14" x2="340.3" y2="283.14" stroke="#222" stroke-width="1.4"/>
<line x1="336.1" y1="310.26" x2="340.3" y2="310.26" stroke="#222" stroke-width="1.4"/>
<line x1="336.1" y1="337.38" x2="340.3" y2="337.38" stroke="#222" stroke-width="1.4"/>
<line x1="336.1" y1="364.5" x2="340.3" y2="364.5" stroke="#222" stroke-width="1.4"/>
<line x1="338.3" y1="234.32" x2="340.3" y2="234.32" stroke="#444" stroke-width="0.9"/>
<line x1="338.3" y1="239.75" x2="340.3" y2="239.75" stroke="#444" stroke-width="0.9"/>
<line x1="338.3" y1="245.17" x2="340.3" y2="245.17" stroke="#444" stroke-width="0.9"/>
<line x1="338.3" y1="250.6" x2="340.3" y2="250.6" stroke="#444" stroke-width="0.9"/>
<line x1="338.3" y1="261.44" x2="340.3" y2="261.44" stroke="#444" stroke-width="0.9"/>
<line x1="338.3" y1="266.87" x2="340.3" y2="266.87" stroke="#444" stroke-width="0.9"/>
<line x1="338.3" y1="272.29" x2="340.3" y2="272.29" stroke="#444" stroke-width="0.9"/>
<line x1="338.3" y1="277.72" x2="340.3" y2="277.72" stroke="#444" stroke-width="0.9"/>
<line x1="338.3" y1="288.56" x2="340.3" y2="288.56" stroke="#444" stroke-width="0.9"/>
<line x1="338.3" y1="293.99" x2="340.3" y2="293.99" stroke="#444" stroke-width="0.9"/>
<line x1="338.3" y1="299.41" x2="340.3" y2="299.41" stroke="#444" stroke-width="0.9"/>
<line x1="338.3" y1="304.84" x2="340.3" y2="304.84" stroke="#444" stroke-width="0.9"/>
<line x1="338.3" y1="315.68" x2="340.3" y2="315.68" stroke="#444" stroke-width="0.9"/>
<line x1="338.3" y1="321.11" x2="340.3" y2="321.11" stroke="#444" stroke-width="0.9"/>
<line x1="338.3" y1="326.53" x2="340.3" y2="326.53" stroke="#444" stroke-width="0.9"/>
<line x1="338.3" y1="331.96" x2="340.3" y2="331.96" stroke="#444" stroke-width="0.9"/>
<line x1="338.3" y1="342.8" x2="340.3" y2="342.8" stroke="#444" stroke-width="0.9"/>
<line x1="338.3" y1="348.23" x2="340.3" y2="348.23" stroke="#444" stroke-width="0.9"/>
<line x1="338.3" y1="353.65" x2="340.3" y2="353.65" stroke="#444" stroke-width="0.9"/>
<line x1="338.3" y1="359.08" x2="340.3" y2="359.08" stroke="#444" stroke-width="0.9"/>
<line x1="459.1" y1="338.2" x2="459.1" y2="389.5" stroke="#000" stroke-width="1.35"/>
<path d="M456.7 386.8L461.5 386.8L459.1 391z" fill="#111"/>
<rect x="540.6" y="222.2" width="141.9" height="142.5" fill="none" stroke="#c9c9c9" stroke-width="0.9"/>
<line x1="540.6" y1="222.2" x2="540.6" y2="364.7" stroke="#a8a8a8" stroke-width="1"/>
<line x1="540.6" y1="364.7" x2="682.5" y2="364.7" stroke="#a8a8a8" stroke-width="1"/>
<clipPath id="clip_b3"><rect x="540.6" y="222.2" width="141.9" height="142.5"/></clipPath><g clip-path="url(#clip_b3)"><g filter="url(#bl)"><path d="M561.8 296.2 562.5 294.1 563.8 292.3 564.3 292.0 567.1 291.8 567.8 291.6 568.3 291.1 568.7 290.3 569.0 287.4 568.6 277.8 568.9 275.6 569.4 274.4 579.6 266.7 580.7 265.2 581.8 262.9 582.8 261.4 585.4 259.6 590.4 257.7 598.9 255.5 607.1 254.1 613.1 253.9 619.1 254.3 628.5 255.3 649.3 258.2 655.3 259.6 667.7 264.9 670.2 266.7 671.8 269.5 673.3 275.4 673.1 279.1 673.2 280.5 673.8 281.8 675.6 284.4 676.1 286.4 675.9 292.9 674.6 304.9 673.9 309.2 673.2 312.0 671.0 317.3 668.2 321.9 665.5 325.2 662.3 327.8 657.9 330.3 649.3 333.9 638.7 337.6 628.5 340.7 617.4 343.1 589.4 347.5 579.8 349.4 577.6 349.5 576.7 349.3 575.5 348.6 574.7 347.5 573.0 343.9 572.3 341.2 571.5 336.2 570.3 314.6 569.7 310.0 568.9 307.9 567.4 305.7 565.3 303.6 562.5 302.0 561.8 301.2 561.4 299.4 561.7 296.8Z" fill="#000aff" fill-rule="evenodd"/><path d="M581.4 346.2 578.6 346.3 576.9 345.3 575.2 342.6 573.5 337.9 572.8 333.1 572.5 327.6 573.5 313.1 573.3 308.4 572.5 304.9 569.6 298.9 570.0 297.9 572.7 294.4 573.8 291.6 574.0 288.6 573.7 279.9 574.1 277.6 575.6 275.9 582.1 270.3 586.6 264.4 588.6 263.0 591.9 261.6 603.7 258.4 611.9 257.2 620.6 257.3 643.1 259.4 651.5 260.6 656.5 262.1 665.2 265.9 667.4 267.0 668.9 268.3 670.2 270.4 671.3 273.6 671.6 280.9 673.5 285.9 673.6 289.4 672.2 297.1 671.8 305.1 670.8 311.4 667.9 318.1 665.4 321.6 663.2 323.9 659.4 326.6 653.6 329.4 647.6 331.6 638.6 334.4 623.9 337.9 616.1 339.0 603.6 342.0 581.4 346.2Z" fill="#001eff" fill-rule="evenodd"/><path d="M582.1 344.6 579.1 344.7 577.4 343.5 575.4 339.8 574.1 335.4 573.5 330.6 573.6 325.6 575.3 312.6 575.6 307.9 575.3 304.9 573.9 298.9 576.3 293.9 577.2 290.9 577.8 286.4 577.6 281.3 578.0 279.4 584.6 272.7 589.1 266.6 593.5 264.4 605.0 260.9 612.1 259.6 621.6 259.5 642.6 260.9 650.9 262.0 655.0 263.1 660.0 265.1 665.6 267.7 667.8 269.4 669.0 271.4 669.9 274.1 670.1 281.6 671.6 287.1 671.5 289.6 670.5 293.6 670.0 307.1 669.3 311.1 667.5 315.9 664.9 319.9 662.2 322.9 658.7 325.4 653.4 327.9 647.4 330.1 639.7 332.4 624.7 335.6 616.6 336.7 598.1 341.7 582.1 344.6Z" fill="#002cff" fill-rule="evenodd"/><path d="M582.9 343.4 579.9 343.5 578.0 342.4 575.8 338.4 574.6 333.6 574.3 329.4 574.6 324.1 577.7 307.6 576.0 299.1 578.8 291.9 580.8 281.1 586.9 274.6 591.3 269.1 593.6 267.7 598.9 265.5 606.1 263.5 613.4 262.2 626.9 261.9 642.4 262.4 651.1 263.6 659.2 266.4 664.5 268.9 666.5 270.4 667.6 272.3 668.4 274.9 668.3 282.1 669.2 287.4 668.8 290.4 668.5 307.6 667.8 311.4 666.1 315.6 663.9 319.2 661.4 321.9 658.6 323.9 654.9 325.9 649.2 328.1 642.9 330.1 630.1 332.9 617.1 334.6 598.1 340.6 582.9 343.4Z" fill="#003fff" fill-rule="evenodd"/><path d="M582.6 342.4 579.9 342.2 578.1 340.7 576.1 336.7 575.1 332.1 575.0 328.1 575.6 323.4 579.0 310.6 578.7 305.6 577.7 299.1 580.3 291.9 582.3 281.9 592.4 270.3 594.8 268.9 600.6 266.5 605.4 265.1 610.1 264.2 613.4 264.1 619.6 264.8 629.6 264.2 640.6 264.2 647.9 264.7 653.3 265.9 660.5 268.9 664.9 271.7 665.9 273.4 666.4 275.9 665.9 284.1 666.0 286.6 666.8 289.1 667.1 291.4 667.0 307.9 666.3 311.4 664.9 315.1 662.7 318.6 660.4 321.1 654.6 324.7 644.2 328.4 631.9 331.0 617.6 332.5 598.4 339.7 593.1 340.8 582.6 342.4Z" fill="#0056ff" fill-rule="evenodd"/><path d="M583.9 341.4 580.9 341.5 578.9 340.1 576.9 336.6 575.7 331.9 575.6 327.9 576.3 323.6 579.8 312.6 579.7 306.1 578.9 299.1 581.3 292.1 583.5 282.4 593.1 271.3 595.9 269.7 602.3 267.1 607.9 265.7 612.6 265.2 619.1 265.9 624.4 267.4 631.9 266.5 639.6 266.1 648.6 266.6 652.4 267.5 656.2 268.9 660.5 271.1 662.9 272.9 663.9 274.6 664.2 276.9 662.8 284.1 664.9 288.4 665.5 291.6 665.7 296.4 665.3 301.4 665.7 307.9 665.1 311.1 663.9 314.6 661.8 317.9 659.5 320.4 654.3 323.6 645.4 326.9 632.4 329.6 617.9 330.8 605.0 336.6 598.9 338.8 593.1 340.2 583.9 341.4Z" fill="#0069ff" fill-rule="evenodd"/><path d="M584.6 340.4 581.4 340.5 579.5 339.4 577.4 335.8 576.3 331.4 576.3 327.9 576.9 324.1 580.6 314.4 580.7 306.6 580.1 299.1 582.5 292.1 584.6 283.1 593.8 272.4 596.8 270.6 603.1 268.1 608.4 266.8 612.9 266.4 620.6 267.6 629.4 270.8 634.1 269.6 639.9 268.8 644.4 268.7 648.6 269.1 654.4 271.0 657.2 272.6 659.2 274.4 660.2 275.9 660.4 277.4 659.9 279.6 658.8 282.1 662.6 288.1 663.7 291.6 664.1 296.6 663.6 302.1 664.1 307.4 663.7 310.6 662.7 313.9 660.9 316.9 658.7 319.4 653.9 322.5 645.9 325.5 633.1 328.0 618.1 328.8 607.4 334.6 599.6 337.8 593.1 339.5 584.6 340.4Z" fill="#007cff" fill-rule="evenodd"/><path d="M583.4 339.9 580.9 339.5 579.1 337.7 577.4 334.4 576.7 330.6 576.8 327.4 577.5 324.1 581.0 315.4 581.3 306.9 580.9 299.1 583.3 292.1 585.4 283.6 594.1 273.3 596.6 271.6 602.6 269.1 607.9 267.7 612.6 267.2 617.8 267.9 621.4 268.7 633.4 273.7 639.1 271.5 645.1 271.0 650.6 272.1 652.7 273.1 654.5 274.6 655.6 276.4 655.8 277.9 655.2 279.6 653.7 281.6 657.1 283.9 660.6 287.9 662.0 290.9 662.7 295.1 662.2 302.6 662.8 306.9 662.5 310.6 660.9 314.9 658.0 318.6 655.4 320.6 651.8 322.4 647.4 324.0 642.3 325.4 631.6 327.0 619.1 327.2 607.6 333.9 599.4 337.4 592.9 339.0 583.4 339.9Z" fill="#008dff" fill-rule="evenodd"/><path d="M584.4 339.1 581.6 338.9 579.9 337.5 578.1 334.4 577.2 330.6 577.3 327.6 578.1 324.4 581.5 316.6 582.0 307.6 581.7 298.9 584.0 292.4 586.2 283.9 594.0 274.6 595.7 273.1 601.9 270.3 608.9 268.4 613.1 268.1 619.4 269.1 625.9 271.6 635.5 276.9 639.9 279.9 644.4 283.9 647.4 284.8 649.9 286.7 652.9 286.0 655.4 286.4 657.6 287.7 659.6 289.9 660.7 292.4 661.3 295.9 661.3 299.4 660.6 302.9 661.3 306.6 661.2 310.1 660.5 312.9 659.1 315.5 657.4 317.6 655.1 319.4 648.4 322.6 640.4 324.7 631.1 325.7 620.1 325.5 608.6 332.6 600.6 336.4 593.1 338.5 584.4 339.1ZM645.9 278.4 643.6 278.4 641.9 277.8 640.9 276.9 641.0 275.6 642.1 274.6 643.9 274.1 645.9 274.1 647.6 274.6 648.8 275.6 648.7 276.9 647.6 277.9 645.9 278.4Z" fill="#009fff" fill-rule="evenodd"/><path d="M584.6 338.4 582.1 338.2 580.4 336.9 578.6 333.9 577.7 330.4 577.9 327.6 578.6 324.8 582.0 317.9 582.6 308.1 582.5 298.9 587.1 284.1 594.5 275.4 596.4 273.8 602.4 271.0 609.1 269.2 613.4 269.0 619.6 270.2 625.4 272.6 631.4 276.1 640.4 282.8 644.4 286.8 646.9 288.1 651.4 291.7 653.4 290.4 655.1 290.1 656.9 290.7 658.4 292.4 659.4 294.6 659.8 297.1 659.6 300.1 658.6 302.9 659.6 306.9 659.5 310.6 658.7 313.1 657.5 315.4 655.9 317.2 653.7 318.9 647.1 321.8 639.6 323.5 630.9 324.2 621.1 323.6 610.3 330.9 601.4 335.5 597.4 337.0 593.4 337.9 584.6 338.4Z" fill="#00b0ff" fill-rule="evenodd"/><path d="M590.6 337.6 583.9 337.6 581.6 336.8 580.1 335.2 579.0 333.1 578.4 330.9 578.4 328.6 579.6 324.1 582.4 319.1 583.2 308.4 583.3 299.1 587.3 285.9 588.9 283.1 595.1 276.0 596.9 274.5 602.9 271.8 609.6 270.1 613.9 270.0 620.1 271.4 624.1 273.2 628.4 275.6 637.9 282.9 642.4 287.1 643.9 290.3 648.7 293.6 653.4 298.8 653.6 296.4 654.6 294.7 656.1 294.3 657.4 295.3 658.0 297.4 657.8 299.6 656.9 301.1 655.3 301.6 657.4 306.4 657.7 308.9 657.5 311.1 655.8 314.9 652.5 317.9 646.6 320.6 639.4 322.2 631.4 322.5 622.1 321.5 614.7 327.1 603.9 333.8 597.1 336.5 590.6 337.6Z" fill="#00c3fe" fill-rule="evenodd"/><path d="M592.9 336.9 589.1 337.0 582.8 336.4 581.4 335.4 580.2 333.9 579.0 330.4 579.1 328.1 579.8 325.6 583.0 320.1 584.1 299.1 588.4 285.6 589.7 283.6 596.3 276.1 598.4 274.7 602.4 272.9 607.4 271.4 612.1 270.9 617.4 271.7 621.5 273.1 625.9 275.5 630.4 278.6 640.9 288.2 642.2 290.6 642.6 294.2 649.6 299.4 652.1 302.0 653.9 304.5 655.3 308.9 655.2 310.9 654.6 312.9 653.1 315.1 650.4 317.3 646.9 319.0 642.6 320.2 638.1 320.7 633.4 320.8 628.4 320.1 623.6 319.0 615.8 325.4 606.1 331.9 598.8 335.4 592.9 336.9Z" fill="#00d7fc" fill-rule="evenodd"/><path d="M591.9 336.4 588.4 336.3 583.0 335.4 580.8 333.1 579.7 329.9 580.5 325.9 583.5 321.1 584.9 299.4 589.3 285.9 590.6 283.9 596.9 276.9 599.1 275.4 602.9 273.7 607.6 272.3 612.1 271.9 616.9 272.7 621.0 274.1 625.4 276.6 629.7 279.9 639.6 289.6 640.5 291.1 641.0 292.9 640.6 298.5 646.4 301.5 650.4 305.1 652.3 308.9 652.4 310.9 651.9 312.6 650.4 314.7 647.7 316.6 644.6 317.9 640.9 318.7 636.9 318.9 632.9 318.6 629.2 317.6 625.1 316.0 616.0 324.1 606.1 331.1 598.4 334.9 591.9 336.4Z" fill="#00ebfb" fill-rule="evenodd"/><path d="M593.1 335.7 588.9 335.6 583.6 334.5 581.5 332.6 580.5 329.9 581.2 326.4 584.0 322.1 585.7 299.4 589.9 286.6 591.4 284.4 597.1 277.9 599.1 276.5 602.4 274.9 606.9 273.5 611.4 272.9 615.1 273.4 619.6 274.8 624.2 277.4 628.9 281.1 634.1 286.4 638.8 292.1 639.4 294.6 638.9 298.4 637.9 300.4 634.6 304.4 640.1 304.2 642.9 304.8 645.1 305.8 647.1 307.3 648.3 308.9 648.8 310.6 648.5 312.4 647.0 314.4 644.6 315.8 641.6 316.7 638.1 316.9 634.6 316.4 631.6 315.1 629.3 313.4 628.1 311.3 618.1 321.1 607.9 329.1 600.1 333.6 596.8 334.9 593.1 335.7Z" fill="#00f7e9" fill-rule="evenodd"/><path d="M594.1 334.9 589.4 335.0 584.4 333.6 582.4 332.0 581.4 329.6 582.1 326.6 584.5 323.1 586.5 299.4 590.6 287.4 592.1 284.9 597.4 279.0 599.1 277.6 602.1 276.1 606.6 274.6 610.9 274.0 614.1 274.3 618.5 275.6 621.9 277.4 625.4 279.9 632.5 287.1 637.3 293.6 637.7 295.9 637.2 298.1 635.4 300.9 627.2 310.4 619.8 318.1 614.7 322.9 608.4 327.9 603.2 331.4 598.1 333.8 594.1 334.9ZM641.4 314.4 638.6 314.5 636.1 313.7 634.8 312.1 635.1 310.6 636.4 309.5 638.6 308.8 641.1 308.9 643.1 309.6 644.3 310.9 644.4 312.4 643.3 313.6 641.4 314.4Z" fill="#00fac8" fill-rule="evenodd"/><path d="M592.9 334.4 588.9 334.1 586.6 332.9 584.6 332.4 583.1 331.1 582.4 329.1 583.1 326.7 585.1 324.1 585.5 316.6 587.3 299.6 591.5 287.6 593.1 285.2 598.1 279.7 602.6 277.0 606.9 275.6 610.9 275.1 614.1 275.5 618.1 276.8 621.0 278.4 624.0 280.6 629.8 286.6 635.3 294.4 635.8 296.1 635.4 297.9 630.1 304.9 623.0 313.1 617.6 318.9 611.6 324.4 606.4 328.5 601.6 331.5 597.1 333.5 592.9 334.4Z" fill="#00fda7" fill-rule="evenodd"/><path d="M593.6 333.6 590.9 333.7 588.4 333.0 586.9 331.8 584.5 330.9 583.8 329.9 583.6 328.9 584.1 327.1 585.7 325.1 586.1 316.4 588.2 299.4 592.3 288.4 593.8 285.9 598.1 281.1 599.9 279.6 602.4 278.2 606.6 276.8 610.4 276.3 613.4 276.6 616.9 277.7 622.1 280.9 627.5 286.4 633.1 294.6 633.6 296.4 633.3 297.9 628.8 304.1 621.7 312.9 616.7 318.4 611.2 323.6 606.4 327.6 601.9 330.7 597.4 332.8 593.6 333.6Z" fill="#00ff84" fill-rule="evenodd"/><path d="M594.1 332.9 591.4 332.9 589.1 332.4 587.9 331.6 587.1 330.5 585.4 329.9 584.9 328.9 585.1 327.6 586.4 326.1 586.8 315.4 588.9 300.4 589.9 296.9 593.9 287.4 600.2 280.6 603.9 278.8 608.4 277.7 612.1 277.6 615.6 278.6 620.5 281.4 625.4 286.4 630.7 294.4 631.3 296.4 631.1 297.9 627.9 302.9 620.5 312.4 615.8 317.9 610.8 322.9 606.2 326.9 601.9 329.9 597.6 332.0 594.1 332.9Z" fill="#00ff5f" fill-rule="evenodd"/><path d="M594.1 332.2 591.6 332.2 589.6 331.6 588.4 330.7 587.6 329.3 586.6 329.0 586.3 328.4 587.2 326.9 587.0 321.4 587.6 314.4 589.7 300.6 590.6 297.4 594.7 287.9 600.6 281.7 603.9 280.0 607.9 279.0 611.4 278.9 614.6 279.7 619.4 282.4 623.9 287.1 628.7 294.9 629.2 296.6 629.0 298.1 626.0 302.9 619.0 312.4 609.8 322.6 605.6 326.4 601.5 329.4 597.6 331.3 594.1 332.2Z" fill="#00ff3a" fill-rule="evenodd"/><path d="M594.1 331.4 591.1 331.2 589.1 330.1 588.0 327.9 587.7 325.4 587.6 320.9 588.1 315.1 590.4 301.4 591.4 297.6 595.6 288.4 600.9 282.9 603.9 281.3 607.6 280.3 610.9 280.2 613.9 280.9 618.5 283.6 622.6 288.1 626.7 295.4 627.1 297.1 626.7 298.6 623.7 303.6 617.8 312.1 608.9 322.4 604.8 326.1 601.1 328.8 597.4 330.7 594.1 331.4Z" fill="#14ff20" fill-rule="evenodd"/><path d="M595.6 330.4 592.4 330.5 590.1 329.7 589.0 328.1 588.4 325.4 588.2 320.9 588.7 315.1 590.3 305.9 592.0 298.4 596.4 289.1 601.1 284.2 603.6 282.7 606.9 281.8 610.1 281.5 612.9 282.1 617.2 284.6 620.9 288.6 624.6 295.4 625.0 297.1 624.8 298.6 617.2 310.9 609.2 320.9 605.4 324.6 602.0 327.4 598.6 329.4 595.6 330.4Z" fill="#3cff10" fill-rule="evenodd"/><path d="M595.4 329.6 592.6 329.6 590.6 328.8 589.6 327.1 589.0 323.9 588.9 319.4 589.5 314.1 591.0 305.9 592.9 298.6 597.4 289.6 601.6 285.3 603.9 284.0 606.9 283.2 609.9 283.0 612.4 283.6 616.4 286.0 619.7 289.9 622.8 295.9 623.0 297.6 622.7 299.1 615.9 310.6 608.2 320.6 604.8 324.1 601.5 326.9 598.1 328.8 595.4 329.6Z" fill="#64ff00" fill-rule="evenodd"/><path d="M596.1 328.7 593.4 328.8 591.4 328.0 590.2 326.4 589.6 323.4 589.6 318.9 590.2 313.6 591.6 306.4 593.6 299.1 598.0 290.6 601.6 286.9 603.9 285.5 606.4 284.7 609.1 284.5 611.6 285.0 615.4 287.4 618.5 291.1 620.9 296.1 621.1 297.6 620.7 299.4 615.0 309.9 608.0 319.6 601.9 325.7 598.9 327.6 596.1 328.7Z" fill="#92ff00" fill-rule="evenodd"/><path d="M595.4 327.9 593.1 327.7 591.5 326.6 590.6 324.6 590.2 321.4 590.4 316.6 591.2 311.6 594.5 299.4 598.9 291.5 602.1 288.1 604.1 286.9 606.4 286.2 608.9 286.2 611.1 286.7 614.4 288.8 617.3 292.6 619.1 296.9 618.7 299.9 613.3 310.4 606.7 319.9 600.9 325.5 597.9 327.2 595.4 327.9Z" fill="#c0ff00" fill-rule="evenodd"/><path d="M595.9 326.9 593.6 326.7 592.1 325.7 591.3 323.9 590.9 320.6 591.1 316.4 591.9 311.6 595.1 300.4 598.6 294.0 602.1 289.8 604.1 288.5 606.1 287.9 608.4 287.8 610.4 288.3 613.4 290.4 616.2 294.4 617.3 297.6 616.7 300.6 612.0 310.4 606.2 319.1 600.9 324.5 598.3 326.1 595.9 326.9Z" fill="#e2f500" fill-rule="evenodd"/><path d="M596.1 325.9 594.1 325.7 592.9 324.9 592.0 323.1 591.6 320.4 592.4 312.6 595.1 303.1 597.7 297.4 602.1 291.7 605.6 289.7 607.4 289.6 609.4 290.0 612.4 292.0 614.8 295.6 615.4 298.4 614.6 301.6 610.4 310.9 605.5 318.6 600.6 323.7 598.4 325.2 596.1 325.9Z" fill="#f9e100" fill-rule="evenodd"/><path d="M595.9 324.9 594.4 324.6 593.3 323.6 592.6 321.9 592.4 319.4 593.0 312.6 595.4 304.7 598.2 298.6 601.9 294.1 603.6 292.6 605.4 291.7 606.9 291.5 608.6 291.9 610.1 292.7 611.6 294.1 613.4 297.6 613.4 300.1 611.7 305.1 608.0 313.1 603.9 319.4 599.8 323.4 597.6 324.5 595.9 324.9Z" fill="#ffb400" fill-rule="evenodd"/><path d="M597.1 323.6 595.6 323.7 594.4 323.1 593.6 321.9 593.2 319.9 593.4 314.1 595.3 307.1 598.1 301.0 600.9 297.2 604.6 294.3 606.4 293.9 607.9 294.1 610.2 295.9 611.4 298.6 611.1 301.9 609.6 306.9 607.0 312.9 603.8 318.1 600.4 321.9 597.1 323.6Z" fill="#ff7d00" fill-rule="evenodd"/><path d="M597.6 322.4 596.1 322.5 595.1 322.0 594.4 321.0 594.0 319.4 594.0 314.6 595.6 308.6 597.9 303.5 600.9 299.3 603.9 297.1 605.4 296.7 606.6 296.9 608.4 298.4 609.1 300.9 608.9 304.4 607.6 308.9 605.6 313.6 603.0 317.9 600.3 320.9 597.6 322.4Z" fill="#ff4100" fill-rule="evenodd"/><path d="M597.9 321.2 595.9 320.9 594.8 318.9 594.7 315.1 595.7 310.4 597.6 305.9 600.1 302.2 602.6 300.1 604.9 299.8 606.3 300.9 607.0 303.1 607.0 306.1 606.1 309.9 604.4 313.9 602.3 317.4 600.1 319.8 597.9 321.2Z" fill="#ff1400" fill-rule="evenodd"/><path d="M598.1 319.9 596.4 319.6 595.5 317.9 595.4 314.9 596.2 311.1 597.7 307.6 599.6 304.7 601.6 302.9 603.6 302.6 604.8 303.6 605.3 305.6 605.3 308.1 604.5 311.1 603.3 314.1 601.6 316.9 599.9 318.9 598.1 319.9Z" fill="#f50000" fill-rule="evenodd"/></g></g>
<rect x="614.4" y="227.8" width="65.4" height="133.5" fill="none" stroke="#2a2a2a" stroke-width="1.1"/>
<text x="628.07" y="236.9" font-size="10.2" fill="#1a1a1a">MERVL<tspan font-size="6" dy="-4">+</tspan></text>
<text x="647.2" y="249.3" font-size="10" text-anchor="middle" fill="#1a1a1a">34.9%</text>
<line x1="549.8" y1="364.7" x2="549.8" y2="368.5" stroke="#222" stroke-width="1.4"/>
<line x1="573.6" y1="364.7" x2="573.6" y2="368.5" stroke="#222" stroke-width="1.4"/>
<line x1="596.4" y1="364.7" x2="596.4" y2="368.5" stroke="#222" stroke-width="1.4"/>
<line x1="635.4" y1="364.7" x2="635.4" y2="368.5" stroke="#222" stroke-width="1.4"/>
<line x1="670.6" y1="364.7" x2="670.6" y2="368.5" stroke="#222" stroke-width="1.4"/>
<line x1="555.75" y1="364.7" x2="555.75" y2="366.7" stroke="#444" stroke-width="0.9"/>
<line x1="560.51" y1="364.7" x2="560.51" y2="366.7" stroke="#444" stroke-width="0.9"/>
<line x1="564.08" y1="364.7" x2="564.08" y2="366.7" stroke="#444" stroke-width="0.9"/>
<line x1="566.94" y1="364.7" x2="566.94" y2="366.7" stroke="#444" stroke-width="0.9"/>
<line x1="569.32" y1="364.7" x2="569.32" y2="366.7" stroke="#444" stroke-width="0.9"/>
<line x1="571.22" y1="364.7" x2="571.22" y2="366.7" stroke="#444" stroke-width="0.9"/>
<line x1="575.88" y1="364.7" x2="575.88" y2="366.7" stroke="#444" stroke-width="0.9"/>
<line x1="577.7" y1="364.7" x2="577.7" y2="366.7" stroke="#444" stroke-width="0.9"/>
<line x1="579.98" y1="364.7" x2="579.98" y2="366.7" stroke="#444" stroke-width="0.9"/>
<line x1="582.72" y1="364.7" x2="582.72" y2="366.7" stroke="#444" stroke-width="0.9"/>
<line x1="586.14" y1="364.7" x2="586.14" y2="366.7" stroke="#444" stroke-width="0.9"/>
<line x1="590.7" y1="364.7" x2="590.7" y2="366.7" stroke="#444" stroke-width="0.9"/>
<line x1="608.14" y1="364.7" x2="608.14" y2="366.7" stroke="#444" stroke-width="0.9"/>
<line x1="615.01" y1="364.7" x2="615.01" y2="366.7" stroke="#444" stroke-width="0.9"/>
<line x1="619.88" y1="364.7" x2="619.88" y2="366.7" stroke="#444" stroke-width="0.9"/>
<line x1="623.66" y1="364.7" x2="623.66" y2="366.7" stroke="#444" stroke-width="0.9"/>
<line x1="626.75" y1="364.7" x2="626.75" y2="366.7" stroke="#444" stroke-width="0.9"/>
<line x1="629.36" y1="364.7" x2="629.36" y2="366.7" stroke="#444" stroke-width="0.9"/>
<line x1="631.62" y1="364.7" x2="631.62" y2="366.7" stroke="#444" stroke-width="0.9"/>
<line x1="633.62" y1="364.7" x2="633.62" y2="366.7" stroke="#444" stroke-width="0.9"/>
<line x1="646" y1="364.7" x2="646" y2="366.7" stroke="#444" stroke-width="0.9"/>
<line x1="652.19" y1="364.7" x2="652.19" y2="366.7" stroke="#444" stroke-width="0.9"/>
<line x1="656.59" y1="364.7" x2="656.59" y2="366.7" stroke="#444" stroke-width="0.9"/>
<line x1="660" y1="364.7" x2="660" y2="366.7" stroke="#444" stroke-width="0.9"/>
<line x1="662.79" y1="364.7" x2="662.79" y2="366.7" stroke="#444" stroke-width="0.9"/>
<line x1="665.15" y1="364.7" x2="665.15" y2="366.7" stroke="#444" stroke-width="0.9"/>
<line x1="667.19" y1="364.7" x2="667.19" y2="366.7" stroke="#444" stroke-width="0.9"/>
<line x1="668.99" y1="364.7" x2="668.99" y2="366.7" stroke="#444" stroke-width="0.9"/>
<line x1="681.2" y1="364.7" x2="681.2" y2="366.7" stroke="#444" stroke-width="0.9"/>
<rect x="569.4" y="364.9" width="6.4" height="3" fill="#111"/>
<text x="545.9" y="377.3" font-size="9.6" fill="#1a1a1a">-10<tspan font-size="6.34" dx="0.5" dy="-3.46">3</tspan></text>
<text x="574.6" y="377.3" font-size="9.6" text-anchor="middle" fill="#1a1a1a">0</text>
<text x="593.8" y="377.3" font-size="9.6" fill="#1a1a1a">10<tspan font-size="6.34" dx="0.5" dy="-3.46">3</tspan></text>
<text x="632.8" y="377.3" font-size="9.6" fill="#1a1a1a">10<tspan font-size="6.34" dx="0.5" dy="-3.46">4</tspan></text>
<text x="668" y="377.3" font-size="9.6" fill="#1a1a1a">10<tspan font-size="6.34" dx="0.5" dy="-3.46">5</tspan></text>
<line x1="536.4" y1="228.9" x2="540.6" y2="228.9" stroke="#222" stroke-width="1.4"/>
<text x="535.4" y="232.3" font-size="9.8" text-anchor="end" fill="#1a1a1a">250k</text>
<line x1="536.4" y1="256.02" x2="540.6" y2="256.02" stroke="#222" stroke-width="1.4"/>
<text x="535.4" y="259.42" font-size="9.8" text-anchor="end" fill="#1a1a1a">200k</text>
<line x1="536.4" y1="283.14" x2="540.6" y2="283.14" stroke="#222" stroke-width="1.4"/>
<text x="535.4" y="286.54" font-size="9.8" text-anchor="end" fill="#1a1a1a">150k</text>
<line x1="536.4" y1="310.26" x2="540.6" y2="310.26" stroke="#222" stroke-width="1.4"/>
<text x="535.4" y="313.66" font-size="9.8" text-anchor="end" fill="#1a1a1a">100k</text>
<line x1="536.4" y1="337.38" x2="540.6" y2="337.38" stroke="#222" stroke-width="1.4"/>
<text x="535.4" y="340.78" font-size="9.8" text-anchor="end" fill="#1a1a1a">50k</text>
<line x1="536.4" y1="364.5" x2="540.6" y2="364.5" stroke="#222" stroke-width="1.4"/>
<text x="535.4" y="367.9" font-size="9.8" text-anchor="end" fill="#1a1a1a">0k</text>
<line x1="538.6" y1="234.32" x2="540.6" y2="234.32" stroke="#444" stroke-width="0.9"/>
<line x1="538.6" y1="239.75" x2="540.6" y2="239.75" stroke="#444" stroke-width="0.9"/>
<line x1="538.6" y1="245.17" x2="540.6" y2="245.17" stroke="#444" stroke-width="0.9"/>
<line x1="538.6" y1="250.6" x2="540.6" y2="250.6" stroke="#444" stroke-width="0.9"/>
<line x1="538.6" y1="261.44" x2="540.6" y2="261.44" stroke="#444" stroke-width="0.9"/>
<line x1="538.6" y1="266.87" x2="540.6" y2="266.87" stroke="#444" stroke-width="0.9"/>
<line x1="538.6" y1="272.29" x2="540.6" y2="272.29" stroke="#444" stroke-width="0.9"/>
<line x1="538.6" y1="277.72" x2="540.6" y2="277.72" stroke="#444" stroke-width="0.9"/>
<line x1="538.6" y1="288.56" x2="540.6" y2="288.56" stroke="#444" stroke-width="0.9"/>
<line x1="538.6" y1="293.99" x2="540.6" y2="293.99" stroke="#444" stroke-width="0.9"/>
<line x1="538.6" y1="299.41" x2="540.6" y2="299.41" stroke="#444" stroke-width="0.9"/>
<line x1="538.6" y1="304.84" x2="540.6" y2="304.84" stroke="#444" stroke-width="0.9"/>
<line x1="538.6" y1="315.68" x2="540.6" y2="315.68" stroke="#444" stroke-width="0.9"/>
<line x1="538.6" y1="321.11" x2="540.6" y2="321.11" stroke="#444" stroke-width="0.9"/>
<line x1="538.6" y1="326.53" x2="540.6" y2="326.53" stroke="#444" stroke-width="0.9"/>
<line x1="538.6" y1="331.96" x2="540.6" y2="331.96" stroke="#444" stroke-width="0.9"/>
<line x1="538.6" y1="342.8" x2="540.6" y2="342.8" stroke="#444" stroke-width="0.9"/>
<line x1="538.6" y1="348.23" x2="540.6" y2="348.23" stroke="#444" stroke-width="0.9"/>
<line x1="538.6" y1="353.65" x2="540.6" y2="353.65" stroke="#444" stroke-width="0.9"/>
<line x1="538.6" y1="359.08" x2="540.6" y2="359.08" stroke="#444" stroke-width="0.9"/>
<line x1="659.4" y1="338.2" x2="659.4" y2="389.5" stroke="#000" stroke-width="1.35"/>
<path d="M657 386.8L661.8 386.8L659.4 391z" fill="#111"/>
<rect x="37.2" y="404.5" width="142.4" height="142.7" fill="none" stroke="#c9c9c9" stroke-width="0.9"/>
<line x1="37.2" y1="404.5" x2="37.2" y2="547.2" stroke="#a8a8a8" stroke-width="1"/>
<line x1="37.2" y1="547.2" x2="179.6" y2="547.2" stroke="#a8a8a8" stroke-width="1"/>
<clipPath id="clip_l0"><rect x="37.2" y="404.5" width="142.4" height="142.7"/></clipPath><g clip-path="url(#clip_l0)"><g filter="url(#bl)"><path d="M118.9 471.2 116.1 471.5 114.2 472.2 112.6 473.2 111.2 474.4 109.5 476.4 108.4 478.6 108.0 480.7 107.5 481.3 104.1 482.4 102.7 483.4 101.8 485.0 101.0 487.4 101.1 491.2 100.3 494.4 99.2 496.9 96.4 501.7 95.8 503.2 95.8 504.2 96.6 504.9 102.3 505.6 105.0 506.6 107.5 508.4 109.2 510.6 110.1 511.1 112.2 511.2 117.5 510.4 119.1 510.0 120.7 509.3 122.3 507.9 128.8 501.0 133.8 497.0 137.3 492.7 141.3 490.4 142.4 488.9 143.1 486.8 143.4 483.6 142.9 480.9 141.9 479.6 139.0 477.8 137.4 475.6 135.6 475.0 129.3 475.2 127.9 475.0 125.0 473.4 119.6 471.3Z" fill="#000aff" fill-rule="evenodd"/><path d="M113.9 509.4 110.6 508.9 106.4 505.5 100.8 502.9 99.9 501.9 99.9 500.4 102.2 493.6 102.8 487.4 103.7 485.1 104.9 484.0 108.2 481.9 110.6 477.7 112.4 475.7 114.4 474.4 116.6 473.6 119.9 473.7 127.4 477.0 133.6 477.9 135.6 478.8 138.7 481.6 139.8 483.4 139.7 486.9 138.7 489.1 135.6 492.7 132.9 495.0 121.3 507.1 118.4 508.7 113.9 509.4Z" fill="#001eff" fill-rule="evenodd"/><path d="M115.9 508.4 112.9 508.5 111.1 508.1 107.1 504.9 102.6 502.4 101.6 501.4 101.4 499.6 103.1 493.1 103.5 488.1 104.4 485.7 108.9 482.3 111.1 478.5 112.6 476.7 114.6 475.3 116.6 474.6 119.9 474.8 126.9 478.0 132.9 479.2 134.6 479.9 137.4 482.4 138.4 484.4 137.9 487.6 136.5 490.4 134.6 492.6 132.1 494.3 121.1 506.3 118.9 507.7 115.9 508.4Z" fill="#002cff" fill-rule="evenodd"/><path d="M114.6 507.9 112.6 507.8 111.1 507.2 102.6 500.9 102.4 499.4 103.7 493.6 104.1 488.4 105.1 485.9 109.3 482.6 111.6 478.9 113.1 477.2 114.9 476.0 116.9 475.3 120.1 475.7 126.6 478.8 132.6 480.3 134.4 481.1 136.4 483.1 137.0 484.6 136.4 488.6 135.3 491.1 133.9 492.5 131.9 493.4 124.7 501.9 120.6 506.0 118.1 507.4 114.6 507.9Z" fill="#003fff" fill-rule="evenodd"/><path d="M116.9 507.1 113.4 507.3 111.4 506.7 104.2 501.4 103.4 500.4 103.2 499.1 104.2 493.6 104.6 488.4 105.4 486.4 109.6 483.0 112.1 479.2 113.6 477.6 115.6 476.4 117.9 475.9 120.9 476.7 126.9 479.7 133.1 481.5 135.1 483.3 135.7 485.1 135.2 486.6 135.5 489.4 134.6 491.3 133.4 492.2 131.4 492.8 126.7 498.9 120.9 505.2 118.9 506.5 116.9 507.1Z" fill="#0056ff" fill-rule="evenodd"/><path d="M115.6 506.9 112.9 506.8 111.0 505.9 104.5 500.9 103.9 499.9 103.8 498.4 105.0 488.6 105.7 486.6 109.9 483.3 113.9 478.0 116.1 476.7 118.4 476.5 121.2 477.4 126.6 480.2 131.6 481.7 133.3 482.6 134.6 484.4 134.6 485.4 134.1 486.9 134.8 488.1 135.0 489.4 134.6 490.6 133.9 491.5 131.1 492.1 126.7 498.4 120.9 504.7 118.4 506.3 115.6 506.9Z" fill="#0069ff" fill-rule="evenodd"/><path d="M116.4 506.4 113.4 506.4 111.4 505.6 105.1 500.6 104.6 499.6 104.4 498.1 105.4 488.9 106.1 486.9 110.3 483.4 114.1 478.5 116.1 477.3 118.1 477.1 120.6 477.7 126.1 480.7 132.5 483.1 133.6 484.9 132.8 487.4 134.1 488.4 134.5 489.6 134.2 490.6 133.4 491.3 130.9 491.1 126.7 497.6 121.1 503.9 118.9 505.6 116.4 506.4Z" fill="#007cff" fill-rule="evenodd"/><path d="M115.9 506.1 113.1 506.0 111.1 505.0 105.6 500.5 104.9 499.4 104.8 497.9 105.6 489.1 106.3 487.1 110.4 483.6 114.2 478.9 116.1 477.8 118.1 477.5 120.6 478.1 125.9 481.0 131.9 483.5 132.6 484.4 132.8 485.4 131.6 488.6 132.6 488.3 133.4 488.4 134.2 489.9 133.7 490.9 132.6 491.2 131.6 490.6 131.1 489.6 128.7 494.4 123.1 501.6 119.2 505.1 115.9 506.1Z" fill="#008dff" fill-rule="evenodd"/><path d="M117.1 505.6 113.9 505.8 111.6 504.9 106.0 500.4 105.4 499.2 105.2 497.9 105.9 489.4 106.6 487.4 110.6 483.8 114.4 479.2 116.1 478.2 117.9 477.9 120.6 478.6 125.9 481.5 130.4 483.4 131.6 484.4 132.0 485.6 129.4 492.4 125.8 497.9 120.6 503.7 118.9 505.0 117.1 505.6ZM132.9 490.9 132.2 490.6 131.8 489.9 132.1 489.1 132.9 488.8 133.6 489.2 133.9 489.9 133.5 490.6 132.9 490.9Z" fill="#009fff" fill-rule="evenodd"/><path d="M116.6 505.4 113.6 505.4 111.4 504.3 106.4 500.1 105.7 498.9 105.6 497.4 106.2 489.6 106.9 487.6 111.0 483.9 114.6 479.6 116.4 478.6 118.1 478.3 120.9 479.2 129.9 483.9 130.9 484.8 131.2 485.9 129.0 492.1 125.1 498.4 120.1 503.7 118.4 504.9 116.6 505.4ZM133.4 490.4 132.5 490.4 132.6 489.4 133.5 489.6 133.4 490.4Z" fill="#00b0ff" fill-rule="evenodd"/><path d="M115.9 505.1 113.9 505.0 112.1 504.4 106.6 499.6 106.0 497.6 106.5 490.1 107.4 487.4 111.2 484.1 114.4 480.3 116.4 479.1 118.4 478.8 120.9 479.6 129.1 484.2 130.1 485.2 130.3 486.6 128.3 492.6 124.0 499.4 119.4 503.9 117.6 504.8 115.9 505.1ZM133.1 490.3 132.7 490.1 132.9 489.7 133.3 489.9 133.1 490.3Z" fill="#00c3fe" fill-rule="evenodd"/><path d="M116.9 504.6 113.6 504.6 111.0 503.1 107.1 499.6 106.6 498.4 106.5 496.4 106.9 489.9 107.6 487.8 114.9 480.5 116.4 479.6 118.1 479.3 120.9 480.2 128.1 484.4 129.2 485.4 129.6 486.9 128.0 492.1 124.3 498.4 120.2 502.9 116.9 504.6Z" fill="#00d7fc" fill-rule="evenodd"/><path d="M116.1 504.4 114.1 504.3 112.4 503.6 107.5 499.4 106.9 497.1 107.1 490.6 107.5 488.9 108.2 487.6 114.6 481.4 116.4 480.2 118.4 479.8 121.1 480.8 127.7 484.9 128.7 486.1 128.8 487.6 127.2 492.6 123.4 499.1 119.4 503.1 116.1 504.4Z" fill="#00ebfb" fill-rule="evenodd"/><path d="M116.6 503.9 114.6 504.0 112.8 503.4 108.1 499.4 107.3 497.1 107.5 491.1 107.9 489.0 109.0 487.4 115.4 481.4 116.9 480.6 118.4 480.4 121.1 481.4 126.9 485.1 127.9 486.4 128.1 487.9 126.7 492.6 123.4 498.6 119.9 502.3 116.6 503.9Z" fill="#00f7e9" fill-rule="evenodd"/><path d="M117.1 503.4 115.1 503.6 113.1 503.1 108.7 499.4 107.8 497.1 107.8 491.6 108.3 489.1 109.4 487.5 115.6 481.9 117.1 481.1 118.4 481.0 120.9 481.9 125.8 485.1 127.0 486.4 127.4 488.1 126.2 492.6 123.4 498.0 120.4 501.4 117.1 503.4Z" fill="#00fac8" fill-rule="evenodd"/><path d="M116.1 503.1 114.4 503.0 112.7 502.4 108.9 498.9 108.2 496.4 108.3 490.9 108.9 488.8 110.6 486.9 115.9 482.4 117.4 481.7 118.6 481.7 121.1 482.6 125.4 485.6 126.5 487.1 126.6 488.9 125.0 494.1 122.5 498.6 119.2 501.9 116.1 503.1Z" fill="#00fda7" fill-rule="evenodd"/><path d="M116.4 502.6 114.6 502.6 112.9 501.9 109.4 498.7 108.6 496.1 108.6 491.1 109.4 488.9 111.2 486.9 116.1 483.0 118.6 482.3 120.9 483.2 124.7 485.9 125.7 487.4 125.9 489.4 124.4 494.4 122.2 498.4 119.4 501.3 116.4 502.6Z" fill="#00ff84" fill-rule="evenodd"/><path d="M116.4 502.2 114.6 502.1 113.1 501.5 110.0 498.6 109.1 496.1 109.1 491.1 109.9 488.9 112.4 486.4 116.4 483.6 118.9 483.1 121.1 484.0 124.2 486.4 125.1 487.9 125.1 489.9 123.8 494.6 121.9 498.2 119.1 501.0 116.4 502.2Z" fill="#00ff5f" fill-rule="evenodd"/><path d="M116.4 501.6 114.9 501.6 113.4 501.1 110.4 498.4 109.5 495.9 109.5 491.4 110.3 489.1 112.6 486.8 116.4 484.4 118.9 483.9 121.1 484.8 123.6 486.9 124.4 488.4 124.4 490.4 123.3 494.6 121.5 498.1 119.1 500.5 116.4 501.6Z" fill="#00ff3a" fill-rule="evenodd"/><path d="M116.1 501.1 113.4 500.5 110.9 498.1 109.9 495.4 110.0 491.4 110.9 489.1 113.4 486.8 116.6 485.0 119.1 484.7 121.4 485.8 123.2 487.6 123.7 489.4 123.4 492.1 122.4 495.6 120.8 498.4 118.6 500.2 116.1 501.1Z" fill="#14ff20" fill-rule="evenodd"/><path d="M117.1 500.4 114.4 500.3 111.8 498.4 110.6 495.9 110.3 492.1 111.0 489.9 112.9 487.7 115.9 486.0 118.6 485.5 120.6 486.2 122.2 487.6 122.9 489.3 122.9 491.6 122.2 494.9 121.0 497.4 119.4 499.1 117.1 500.4Z" fill="#3cff10" fill-rule="evenodd"/><path d="M116.6 499.9 114.1 499.6 111.9 497.6 110.9 495.1 110.9 491.9 111.8 489.6 113.6 487.8 116.1 486.6 118.6 486.4 120.4 487.0 121.7 488.4 122.2 490.1 122.1 492.9 121.4 495.6 120.2 497.6 118.6 499.1 116.6 499.9Z" fill="#64ff00" fill-rule="evenodd"/><path d="M117.1 499.2 114.9 499.2 112.9 497.9 111.6 495.6 111.3 492.6 111.9 490.4 113.4 488.7 115.6 487.5 117.9 487.2 119.5 487.6 120.7 488.6 121.4 490.1 121.5 492.4 121.1 494.9 120.2 496.9 118.9 498.3 117.1 499.2Z" fill="#92ff00" fill-rule="evenodd"/><path d="M116.6 498.7 114.6 498.4 113.0 497.1 112.1 495.1 111.9 492.6 112.4 490.7 113.6 489.2 115.4 488.2 117.4 488.0 118.9 488.4 120.1 489.4 120.7 490.9 120.8 493.1 120.4 495.1 119.5 496.9 118.1 498.1 116.6 498.7Z" fill="#c0ff00" fill-rule="evenodd"/><path d="M117.1 497.9 115.4 497.9 113.9 497.1 112.9 495.6 112.4 493.9 112.6 491.9 113.3 490.4 114.6 489.2 116.1 488.7 117.6 488.8 118.9 489.5 119.8 490.6 120.2 492.1 120.1 494.1 119.5 495.9 118.6 497.1 117.1 497.9Z" fill="#e2f500" fill-rule="evenodd"/><path d="M117.4 497.1 116.1 497.3 114.8 496.9 113.8 495.9 113.1 494.4 113.0 492.9 113.4 491.4 114.4 490.1 115.6 489.5 116.9 489.5 118.1 490.0 119.5 492.1 119.3 495.1 118.5 496.4 117.4 497.1Z" fill="#f9e100" fill-rule="evenodd"/><path d="M117.4 496.4 115.4 496.4 114.4 495.5 113.8 494.4 113.9 491.9 115.4 490.4 117.4 490.5 118.7 492.1 118.8 494.6 117.4 496.4Z" fill="#ffb400" fill-rule="evenodd"/><path d="M116.4 495.9 115.0 495.1 114.3 493.6 114.6 491.9 115.9 491.0 117.5 491.6 118.3 493.4 117.9 495.1 116.4 495.9Z" fill="#ff7d00" fill-rule="evenodd"/><path d="M117.1 494.9 116.1 495.1 115.1 494.1 115.0 492.9 115.6 492.0 116.6 492.0 117.4 492.7 117.6 493.9 117.1 494.9Z" fill="#ff4100" fill-rule="evenodd"/><path d="M116.6 494.3 116.1 494.2 115.7 493.6 116.1 492.7 116.9 493.4 116.6 494.3Z" fill="#ff1400" fill-rule="evenodd"/><ellipse cx="132.7" cy="466.8" rx="3.2" ry="1.8" transform="rotate(35 132.7 466.8)" fill="#000cff"/></g></g>
<line x1="128.8" y1="404.5" x2="128.8" y2="547.2" stroke="#222" stroke-width="1.1"/>
<line x1="37.2" y1="475.5" x2="179.6" y2="475.5" stroke="#222" stroke-width="1.1"/>
<text x="39" y="415.4" font-size="9.6" fill="#1a1a1a" letter-spacing="0.35">Q1</text>
<text x="39" y="427.1" font-size="9.6" fill="#1a1a1a" letter-spacing="0.35">0.95%</text>
<text x="150.8" y="415.4" font-size="9.6" fill="#1a1a1a" letter-spacing="0.35">Q2</text>
<text x="150.8" y="427.1" font-size="9.6" fill="#1a1a1a" letter-spacing="0.35">2.86%</text>
<text x="39" y="529" font-size="9.6" fill="#1a1a1a" letter-spacing="0.35">Q4</text>
<text x="39" y="541.3" font-size="9.6" fill="#1a1a1a" letter-spacing="0.35">83.8%</text>
<text x="150.8" y="529" font-size="9.6" fill="#1a1a1a" letter-spacing="0.35">Q3</text>
<text x="150.8" y="541.3" font-size="9.6" fill="#1a1a1a" letter-spacing="0.35">12.4%</text>
<line x1="46.4" y1="547.2" x2="46.4" y2="551" stroke="#222" stroke-width="1.4"/>
<line x1="70.2" y1="547.2" x2="70.2" y2="551" stroke="#222" stroke-width="1.4"/>
<line x1="93" y1="547.2" x2="93" y2="551" stroke="#222" stroke-width="1.4"/>
<line x1="132" y1="547.2" x2="132" y2="551" stroke="#222" stroke-width="1.4"/>
<line x1="167.2" y1="547.2" x2="167.2" y2="551" stroke="#222" stroke-width="1.4"/>
<line x1="52.35" y1="547.2" x2="52.35" y2="549.2" stroke="#444" stroke-width="0.9"/>
<line x1="57.11" y1="547.2" x2="57.11" y2="549.2" stroke="#444" stroke-width="0.9"/>
<line x1="60.68" y1="547.2" x2="60.68" y2="549.2" stroke="#444" stroke-width="0.9"/>
<line x1="63.54" y1="547.2" x2="63.54" y2="549.2" stroke="#444" stroke-width="0.9"/>
<line x1="65.92" y1="547.2" x2="65.92" y2="549.2" stroke="#444" stroke-width="0.9"/>
<line x1="67.82" y1="547.2" x2="67.82" y2="549.2" stroke="#444" stroke-width="0.9"/>
<line x1="72.48" y1="547.2" x2="72.48" y2="549.2" stroke="#444" stroke-width="0.9"/>
<line x1="74.3" y1="547.2" x2="74.3" y2="549.2" stroke="#444" stroke-width="0.9"/>
<line x1="76.58" y1="547.2" x2="76.58" y2="549.2" stroke="#444" stroke-width="0.9"/>
<line x1="79.32" y1="547.2" x2="79.32" y2="549.2" stroke="#444" stroke-width="0.9"/>
<line x1="82.74" y1="547.2" x2="82.74" y2="549.2" stroke="#444" stroke-width="0.9"/>
<line x1="87.3" y1="547.2" x2="87.3" y2="549.2" stroke="#444" stroke-width="0.9"/>
<line x1="104.74" y1="547.2" x2="104.74" y2="549.2" stroke="#444" stroke-width="0.9"/>
<line x1="111.61" y1="547.2" x2="111.61" y2="549.2" stroke="#444" stroke-width="0.9"/>
<line x1="116.48" y1="547.2" x2="116.48" y2="549.2" stroke="#444" stroke-width="0.9"/>
<line x1="120.26" y1="547.2" x2="120.26" y2="549.2" stroke="#444" stroke-width="0.9"/>
<line x1="123.35" y1="547.2" x2="123.35" y2="549.2" stroke="#444" stroke-width="0.9"/>
<line x1="125.96" y1="547.2" x2="125.96" y2="549.2" stroke="#444" stroke-width="0.9"/>
<line x1="128.22" y1="547.2" x2="128.22" y2="549.2" stroke="#444" stroke-width="0.9"/>
<line x1="130.22" y1="547.2" x2="130.22" y2="549.2" stroke="#444" stroke-width="0.9"/>
<line x1="142.6" y1="547.2" x2="142.6" y2="549.2" stroke="#444" stroke-width="0.9"/>
<line x1="148.79" y1="547.2" x2="148.79" y2="549.2" stroke="#444" stroke-width="0.9"/>
<line x1="153.19" y1="547.2" x2="153.19" y2="549.2" stroke="#444" stroke-width="0.9"/>
<line x1="156.6" y1="547.2" x2="156.6" y2="549.2" stroke="#444" stroke-width="0.9"/>
<line x1="159.39" y1="547.2" x2="159.39" y2="549.2" stroke="#444" stroke-width="0.9"/>
<line x1="161.75" y1="547.2" x2="161.75" y2="549.2" stroke="#444" stroke-width="0.9"/>
<line x1="163.79" y1="547.2" x2="163.79" y2="549.2" stroke="#444" stroke-width="0.9"/>
<line x1="165.59" y1="547.2" x2="165.59" y2="549.2" stroke="#444" stroke-width="0.9"/>
<line x1="177.8" y1="547.2" x2="177.8" y2="549.2" stroke="#444" stroke-width="0.9"/>
<rect x="66" y="547.4" width="6.4" height="3" fill="#111"/>
<text x="42.5" y="559.8" font-size="9.6" fill="#1a1a1a">-10<tspan font-size="6.34" dx="0.5" dy="-3.46">3</tspan></text>
<text x="71.2" y="559.8" font-size="9.6" text-anchor="middle" fill="#1a1a1a">0</text>
<text x="90.4" y="559.8" font-size="9.6" fill="#1a1a1a">10<tspan font-size="6.34" dx="0.5" dy="-3.46">3</tspan></text>
<text x="129.4" y="559.8" font-size="9.6" fill="#1a1a1a">10<tspan font-size="6.34" dx="0.5" dy="-3.46">4</tspan></text>
<text x="164.6" y="559.8" font-size="9.6" fill="#1a1a1a">10<tspan font-size="6.34" dx="0.5" dy="-3.46">5</tspan></text>
<line x1="33.2" y1="415.4" x2="37.2" y2="415.4" stroke="#222" stroke-width="1.4"/>
<line x1="33.2" y1="443.7" x2="37.2" y2="443.7" stroke="#222" stroke-width="1.4"/>
<line x1="33.2" y1="475.7" x2="37.2" y2="475.7" stroke="#222" stroke-width="1.4"/>
<line x1="33.2" y1="495.4" x2="37.2" y2="495.4" stroke="#222" stroke-width="1.4"/>
<line x1="33.2" y1="513.5" x2="37.2" y2="513.5" stroke="#222" stroke-width="1.4"/>
<line x1="33.2" y1="545.2" x2="37.2" y2="545.2" stroke="#222" stroke-width="1.4"/>
<line x1="35.2" y1="435.18" x2="37.2" y2="435.18" stroke="#444" stroke-width="0.9"/>
<line x1="35.2" y1="430.2" x2="37.2" y2="430.2" stroke="#444" stroke-width="0.9"/>
<line x1="35.2" y1="426.66" x2="37.2" y2="426.66" stroke="#444" stroke-width="0.9"/>
<line x1="35.2" y1="423.92" x2="37.2" y2="423.92" stroke="#444" stroke-width="0.9"/>
<line x1="35.2" y1="421.68" x2="37.2" y2="421.68" stroke="#444" stroke-width="0.9"/>
<line x1="35.2" y1="419.78" x2="37.2" y2="419.78" stroke="#444" stroke-width="0.9"/>
<line x1="35.2" y1="418.14" x2="37.2" y2="418.14" stroke="#444" stroke-width="0.9"/>
<line x1="35.2" y1="416.69" x2="37.2" y2="416.69" stroke="#444" stroke-width="0.9"/>
<line x1="35.2" y1="466.07" x2="37.2" y2="466.07" stroke="#444" stroke-width="0.9"/>
<line x1="35.2" y1="460.43" x2="37.2" y2="460.43" stroke="#444" stroke-width="0.9"/>
<line x1="35.2" y1="456.43" x2="37.2" y2="456.43" stroke="#444" stroke-width="0.9"/>
<line x1="35.2" y1="453.33" x2="37.2" y2="453.33" stroke="#444" stroke-width="0.9"/>
<line x1="35.2" y1="450.8" x2="37.2" y2="450.8" stroke="#444" stroke-width="0.9"/>
<line x1="35.2" y1="448.66" x2="37.2" y2="448.66" stroke="#444" stroke-width="0.9"/>
<line x1="35.2" y1="446.8" x2="37.2" y2="446.8" stroke="#444" stroke-width="0.9"/>
<line x1="35.2" y1="445.16" x2="37.2" y2="445.16" stroke="#444" stroke-width="0.9"/>
<line x1="35.2" y1="493.43" x2="37.2" y2="493.43" stroke="#444" stroke-width="0.9"/>
<line x1="35.2" y1="491.46" x2="37.2" y2="491.46" stroke="#444" stroke-width="0.9"/>
<line x1="35.2" y1="489.1" x2="37.2" y2="489.1" stroke="#444" stroke-width="0.9"/>
<line x1="35.2" y1="486.53" x2="37.2" y2="486.53" stroke="#444" stroke-width="0.9"/>
<line x1="35.2" y1="483.58" x2="37.2" y2="483.58" stroke="#444" stroke-width="0.9"/>
<line x1="35.2" y1="480.03" x2="37.2" y2="480.03" stroke="#444" stroke-width="0.9"/>
<line x1="35.2" y1="497.21" x2="37.2" y2="497.21" stroke="#444" stroke-width="0.9"/>
<line x1="35.2" y1="499.02" x2="37.2" y2="499.02" stroke="#444" stroke-width="0.9"/>
<line x1="35.2" y1="501.19" x2="37.2" y2="501.19" stroke="#444" stroke-width="0.9"/>
<line x1="35.2" y1="503.54" x2="37.2" y2="503.54" stroke="#444" stroke-width="0.9"/>
<line x1="35.2" y1="506.26" x2="37.2" y2="506.26" stroke="#444" stroke-width="0.9"/>
<line x1="35.2" y1="509.52" x2="37.2" y2="509.52" stroke="#444" stroke-width="0.9"/>
<line x1="35.2" y1="535.66" x2="37.2" y2="535.66" stroke="#444" stroke-width="0.9"/>
<line x1="35.2" y1="530.08" x2="37.2" y2="530.08" stroke="#444" stroke-width="0.9"/>
<line x1="35.2" y1="526.11" x2="37.2" y2="526.11" stroke="#444" stroke-width="0.9"/>
<line x1="35.2" y1="523.04" x2="37.2" y2="523.04" stroke="#444" stroke-width="0.9"/>
<line x1="35.2" y1="520.53" x2="37.2" y2="520.53" stroke="#444" stroke-width="0.9"/>
<line x1="35.2" y1="518.41" x2="37.2" y2="518.41" stroke="#444" stroke-width="0.9"/>
<line x1="35.2" y1="516.57" x2="37.2" y2="516.57" stroke="#444" stroke-width="0.9"/>
<line x1="35.2" y1="514.95" x2="37.2" y2="514.95" stroke="#444" stroke-width="0.9"/>
<line x1="35.2" y1="406.88" x2="37.2" y2="406.88" stroke="#444" stroke-width="0.9"/>
<rect x="33.8" y="492.6" width="3.2" height="5.6" fill="#111"/>
<text x="16.73" y="418.8" font-size="9.6" fill="#1a1a1a">10<tspan font-size="6.34" dx="0.5" dy="-3.46">5</tspan></text>
<text x="16.73" y="447.1" font-size="9.6" fill="#1a1a1a">10<tspan font-size="6.34" dx="0.5" dy="-3.46">4</tspan></text>
<text x="16.73" y="479.1" font-size="9.6" fill="#1a1a1a">10<tspan font-size="6.34" dx="0.5" dy="-3.46">3</tspan></text>
<text x="22.6" y="498.8" font-size="9.6" text-anchor="middle" fill="#1a1a1a">0</text>
<text x="13.54" y="516.9" font-size="9.6" fill="#1a1a1a">-10<tspan font-size="6.34" dx="0.5" dy="-3.46">3</tspan></text>
<text x="13.54" y="548.6" font-size="9.6" fill="#1a1a1a">-10<tspan font-size="6.34" dx="0.5" dy="-3.46">4</tspan></text>
<rect x="188.7" y="404.5" width="143.1" height="142.7" fill="none" stroke="#c9c9c9" stroke-width="0.9"/>
<line x1="188.7" y1="404.5" x2="188.7" y2="547.2" stroke="#a8a8a8" stroke-width="1"/>
<line x1="188.7" y1="547.2" x2="331.8" y2="547.2" stroke="#a8a8a8" stroke-width="1"/>
<clipPath id="clip_l1"><rect x="188.7" y="404.5" width="143.1" height="142.7"/></clipPath><g clip-path="url(#clip_l1)"><g filter="url(#bl)"><path d="M274.7 465.5 271.0 466.0 268.4 467.0 262.5 473.3 261.3 474.0 256.7 475.5 255.3 476.6 252.9 478.6 250.2 481.9 249.2 483.8 246.7 490.0 242.0 497.0 241.5 498.9 241.6 500.5 242.5 503.1 243.8 505.3 245.5 507.6 248.5 510.7 250.3 512.2 252.5 513.4 256.5 514.9 259.6 515.7 262.7 516.2 265.7 516.3 270.3 515.7 289.4 511.7 292.9 510.2 298.1 506.4 302.7 502.1 304.8 498.9 306.0 495.4 306.2 493.5 306.0 491.5 305.1 488.2 303.9 485.4 301.9 482.3 299.1 479.5 295.3 476.5 293.9 475.6 290.8 474.4 289.9 473.7 289.4 472.7 288.7 469.0 287.7 467.2 286.8 466.3 286.0 466.0 284.7 466.2 280.5 467.8 278.2 466.1 276.7 465.6 275.3 465.5Z" fill="#000aff" fill-rule="evenodd"/><path d="M268.6 513.4 264.9 513.5 260.9 512.8 256.9 511.5 253.1 509.6 250.1 507.1 247.5 503.9 246.1 501.1 245.8 498.6 252.1 484.4 254.9 480.6 258.1 478.2 264.1 475.6 270.4 470.7 272.6 470.0 274.9 470.0 279.4 471.8 283.6 472.6 287.4 477.4 295.1 483.1 297.6 485.9 299.1 488.4 300.2 491.9 300.4 494.6 299.5 497.4 297.6 500.3 293.1 505.0 289.9 507.4 286.1 509.1 278.6 511.3 268.6 513.4Z" fill="#001eff" fill-rule="evenodd"/><path d="M267.9 512.4 264.6 512.3 260.6 511.5 257.0 510.1 253.9 508.4 251.2 506.1 248.8 503.1 247.6 500.6 247.5 498.6 253.0 485.4 255.8 481.4 258.9 479.2 264.9 476.6 270.9 472.4 272.6 471.8 274.6 471.8 282.4 474.7 286.5 479.1 293.4 484.3 295.7 486.9 297.0 489.1 298.0 492.1 298.1 494.6 297.2 497.1 295.3 499.9 291.5 504.1 288.4 506.4 284.6 508.1 277.4 510.6 267.9 512.4Z" fill="#002cff" fill-rule="evenodd"/><path d="M269.4 511.4 266.1 511.6 263.1 511.2 259.1 510.0 255.4 508.2 252.7 506.1 250.4 503.4 249.0 500.9 248.7 498.9 253.6 486.1 256.3 482.1 259.0 480.1 264.9 477.7 271.1 473.8 274.1 473.1 281.6 476.0 285.9 480.4 291.8 484.9 295.4 489.5 296.3 491.9 296.5 494.1 295.7 496.6 293.8 499.4 290.6 503.1 287.9 505.3 283.7 507.4 277.9 509.6 269.4 511.4Z" fill="#003fff" fill-rule="evenodd"/><path d="M268.1 510.9 265.1 510.8 262.0 510.1 258.5 508.9 255.4 507.2 253.0 505.1 251.0 502.6 249.9 500.5 249.8 498.6 254.2 486.6 256.8 482.6 259.6 480.6 265.1 478.5 271.6 474.8 274.4 474.3 281.1 477.2 285.3 481.4 291.0 485.9 294.3 490.4 295.0 492.4 295.0 494.4 293.9 496.9 291.3 500.6 289.0 503.1 286.6 504.9 282.1 507.1 276.9 509.2 268.1 510.9Z" fill="#0056ff" fill-rule="evenodd"/><path d="M267.9 510.4 265.1 510.3 261.9 509.5 255.8 506.6 253.4 504.6 251.5 502.1 250.6 500.1 250.6 498.4 254.6 487.0 257.4 482.9 260.1 481.0 265.4 479.0 271.9 475.6 274.4 475.3 280.6 478.0 284.9 482.2 290.1 486.4 293.2 490.4 293.9 492.4 293.9 494.1 293.0 496.4 290.3 500.4 288.2 502.6 285.9 504.4 281.7 506.6 276.4 508.8 272.4 509.8 267.9 510.4Z" fill="#0069ff" fill-rule="evenodd"/><path d="M270.1 509.6 266.9 509.9 264.4 509.6 260.6 508.4 257.4 506.9 254.9 505.1 252.9 502.9 251.6 500.6 251.4 498.6 255.0 487.6 257.6 483.5 260.7 481.4 265.4 479.7 272.1 476.5 274.1 476.2 280.1 478.8 284.4 482.9 289.1 486.8 292.1 490.6 292.8 493.6 292.1 495.7 289.8 499.4 288.0 501.6 285.9 503.4 282.1 505.6 277.4 507.8 270.1 509.6Z" fill="#007cff" fill-rule="evenodd"/><path d="M269.1 509.4 266.4 509.5 263.6 509.0 260.1 507.8 257.1 506.2 254.8 504.4 252.9 502.1 252.0 500.1 252.0 498.4 255.3 487.9 256.6 485.4 258.1 483.6 261.1 481.6 272.4 477.1 274.4 476.9 279.9 479.3 288.7 487.4 291.4 490.9 292.0 492.4 291.9 493.9 291.0 496.1 288.8 499.6 284.9 503.4 281.1 505.6 276.6 507.7 273.1 508.8 269.1 509.4Z" fill="#008dff" fill-rule="evenodd"/><path d="M270.4 508.9 267.1 509.1 264.6 508.8 261.1 507.7 258.1 506.3 255.6 504.5 253.7 502.4 252.6 500.4 252.5 498.4 255.6 488.1 256.9 485.7 258.4 483.9 261.6 481.9 272.4 477.8 274.4 477.6 279.6 479.9 288.0 487.6 290.6 490.9 291.2 493.6 290.4 495.6 288.4 499.1 284.6 502.8 277.0 507.1 270.4 508.9Z" fill="#009fff" fill-rule="evenodd"/><path d="M269.4 508.6 266.4 508.7 263.9 508.3 260.6 507.1 257.6 505.4 255.4 503.6 253.8 501.6 253.1 499.9 253.1 497.9 256.0 488.4 257.1 486.1 258.7 484.1 262.1 482.1 272.4 478.5 274.6 478.3 277.1 479.2 279.4 480.5 287.6 488.3 289.8 491.1 290.3 493.6 289.3 496.1 287.4 499.3 283.2 503.1 276.1 507.1 272.9 508.1 269.4 508.6Z" fill="#00b0ff" fill-rule="evenodd"/><path d="M270.4 508.2 267.1 508.4 264.6 508.0 258.6 505.5 256.1 503.6 254.4 501.6 253.7 499.9 253.7 497.9 256.3 488.6 257.6 486.1 259.1 484.4 262.4 482.5 272.1 479.3 274.6 479.0 278.9 480.9 287.0 488.6 289.1 491.4 289.4 493.6 288.6 495.9 286.9 498.8 282.9 502.6 276.4 506.5 270.4 508.2Z" fill="#00c3fe" fill-rule="evenodd"/><path d="M269.4 507.9 266.6 507.9 264.1 507.5 260.9 506.2 258.1 504.6 256.1 502.9 254.6 500.9 254.1 499.1 254.3 497.1 256.8 488.6 257.9 486.4 259.6 484.5 262.1 483.1 268.6 481.0 272.9 479.8 274.9 479.8 278.7 481.6 286.4 489.1 288.3 491.6 288.5 493.9 287.5 496.4 285.9 498.9 281.3 503.1 275.4 506.5 269.4 507.9Z" fill="#00d7fc" fill-rule="evenodd"/><path d="M270.4 507.4 267.4 507.6 264.9 507.2 259.1 504.7 256.9 503.0 255.4 501.1 254.7 499.4 254.8 497.4 257.1 488.9 258.3 486.6 259.9 484.9 262.4 483.4 268.1 481.7 272.6 480.6 274.9 480.5 276.9 481.2 278.6 482.4 285.6 489.4 287.3 491.6 287.6 493.6 285.5 498.1 281.3 502.4 275.8 505.9 270.4 507.4Z" fill="#00ebfb" fill-rule="evenodd"/><path d="M268.9 507.1 265.9 507.0 262.9 506.1 259.5 504.4 256.8 502.1 255.7 500.6 255.3 498.9 256.3 492.9 258.2 487.6 259.5 485.9 261.1 484.6 263.4 483.6 269.9 481.8 273.4 481.2 275.4 481.4 278.5 483.1 285.3 490.1 286.6 492.1 286.6 494.1 285.7 496.4 284.2 498.6 279.1 503.4 274.1 506.1 268.9 507.1Z" fill="#00f7e9" fill-rule="evenodd"/><path d="M269.9 506.6 266.9 506.7 264.1 506.1 260.9 504.7 258.1 502.7 256.7 501.1 255.9 499.4 256.4 494.6 258.3 488.4 259.6 486.4 261.1 485.1 263.4 484.1 268.9 482.6 272.9 482.0 275.1 482.1 278.1 483.7 284.3 490.1 285.6 492.1 285.7 494.1 284.9 496.1 283.4 498.4 278.9 502.9 274.6 505.4 269.9 506.6Z" fill="#00fac8" fill-rule="evenodd"/><path d="M270.6 506.1 267.6 506.3 265.1 506.0 262.1 504.8 259.4 503.1 257.6 501.4 256.7 499.9 256.4 498.1 256.7 495.4 258.5 489.1 259.7 487.1 261.2 485.6 263.6 484.5 268.1 483.4 272.4 482.7 274.9 482.8 277.9 484.4 282.8 489.6 284.5 491.9 284.7 493.9 282.9 497.6 278.9 502.1 274.9 504.8 270.6 506.1Z" fill="#00fda7" fill-rule="evenodd"/><path d="M269.1 505.9 266.1 505.7 263.4 504.9 260.3 503.1 258.1 501.1 257.2 499.6 257.0 498.1 258.0 491.9 259.9 487.6 262.6 485.4 269.4 483.7 275.1 483.7 277.9 485.3 282.4 490.4 283.6 492.4 283.6 494.4 281.0 498.9 277.1 502.9 273.4 505.0 269.1 505.9Z" fill="#00ff84" fill-rule="evenodd"/><path d="M269.9 505.4 266.9 505.4 264.4 504.8 261.6 503.4 259.1 501.4 258.0 499.9 257.6 498.4 258.2 492.9 260.0 488.4 262.6 485.9 268.6 484.4 274.6 484.4 277.2 485.6 280.8 489.6 282.5 492.1 282.6 494.1 280.5 498.4 277.2 502.1 273.7 504.4 269.9 505.4Z" fill="#00ff5f" fill-rule="evenodd"/><path d="M270.4 504.9 267.6 505.0 265.1 504.5 262.5 503.4 260.1 501.6 258.8 500.1 258.2 498.6 258.5 493.9 260.1 489.1 261.2 487.6 262.6 486.5 264.9 485.7 268.1 485.0 274.1 485.1 276.6 486.1 279.1 488.6 281.3 491.6 281.6 493.9 280.0 497.6 277.1 501.4 273.9 503.8 270.4 504.9Z" fill="#00ff3a" fill-rule="evenodd"/><path d="M270.6 504.4 267.1 504.5 264.1 503.6 260.6 501.4 259.0 499.1 258.8 495.4 259.9 490.6 261.6 487.9 264.1 486.4 269.6 485.5 274.9 486.1 277.7 488.1 280.4 492.1 280.6 493.6 280.2 495.4 277.4 500.1 274.4 502.9 270.6 504.4Z" fill="#14ff20" fill-rule="evenodd"/><path d="M268.6 504.1 266.4 503.9 264.1 503.1 261.8 501.6 260.1 499.9 259.2 496.9 260.0 491.9 261.7 488.6 264.4 486.9 269.1 486.1 274.1 486.8 276.6 488.2 278.9 490.9 279.6 492.9 279.3 495.1 277.5 498.9 274.9 501.9 272.1 503.5 268.6 504.1Z" fill="#3cff10" fill-rule="evenodd"/><path d="M269.4 503.6 266.4 503.4 263.6 502.3 261.1 500.3 260.0 498.1 260.0 494.1 261.1 490.4 262.9 488.3 265.6 487.1 270.1 486.8 274.4 487.7 277.0 489.6 278.5 492.4 278.6 493.9 278.0 496.1 275.8 500.1 272.9 502.6 269.4 503.6Z" fill="#64ff00" fill-rule="evenodd"/><path d="M269.6 503.1 266.9 503.0 264.4 502.1 261.8 500.1 260.6 498.1 260.5 494.6 261.4 491.1 263.0 488.9 265.4 487.7 269.4 487.4 273.4 488.2 275.9 489.7 277.4 492.1 277.3 495.6 275.4 499.6 272.9 502.0 269.6 503.1Z" fill="#92ff00" fill-rule="evenodd"/><path d="M269.6 502.6 267.1 502.6 264.6 501.6 262.3 499.9 261.2 497.9 261.0 494.9 261.7 491.6 263.1 489.6 265.4 488.3 268.9 488.0 272.4 488.7 275.1 490.2 276.5 492.4 276.4 495.9 274.8 499.4 272.5 501.6 269.6 502.6Z" fill="#c0ff00" fill-rule="evenodd"/><path d="M269.6 502.1 267.1 502.0 264.9 501.2 262.9 499.6 261.7 497.6 261.5 494.9 262.1 492.1 263.4 490.1 265.4 488.9 268.4 488.6 271.6 489.2 274.2 490.6 275.6 492.6 275.6 495.6 274.4 498.9 272.3 501.1 269.6 502.1Z" fill="#e2f500" fill-rule="evenodd"/><path d="M269.4 501.7 267.1 501.5 265.0 500.6 263.2 499.1 262.3 497.4 262.1 494.9 262.7 492.1 264.0 490.4 265.9 489.4 268.6 489.2 271.4 489.9 273.7 491.4 274.7 493.1 274.7 496.1 273.7 498.9 271.9 500.7 269.4 501.7Z" fill="#f9e100" fill-rule="evenodd"/><path d="M269.4 501.1 267.4 501.0 265.4 500.2 263.8 498.9 262.8 497.1 262.6 494.9 263.1 492.6 264.4 490.9 265.9 490.0 268.1 489.8 270.6 490.4 272.7 491.6 273.8 493.4 273.9 496.1 273.1 498.6 271.4 500.4 269.4 501.1Z" fill="#ffb400" fill-rule="evenodd"/><path d="M268.9 500.6 267.1 500.4 265.4 499.6 264.0 498.1 263.3 496.6 263.2 494.6 263.8 492.6 264.9 491.3 266.4 490.6 268.4 490.5 270.6 491.2 272.2 492.4 273.1 494.1 273.2 496.4 272.3 498.6 270.9 500.0 268.9 500.6Z" fill="#ff7d00" fill-rule="evenodd"/><path d="M269.9 499.9 268.4 500.1 266.6 499.7 265.1 498.6 264.2 497.4 263.8 495.6 263.9 493.9 264.7 492.4 265.9 491.4 267.6 491.1 269.4 491.4 271.1 492.4 272.1 493.6 272.5 495.4 272.2 497.4 271.4 498.9 269.9 499.9Z" fill="#ff4100" fill-rule="evenodd"/><path d="M269.4 499.4 268.1 499.5 266.6 499.0 265.5 498.1 264.7 496.9 264.3 495.4 264.6 493.9 265.3 492.6 266.4 491.9 267.9 491.7 269.4 492.1 270.8 493.1 271.5 494.4 271.8 496.1 271.4 497.6 270.6 498.7 269.4 499.4Z" fill="#ff1400" fill-rule="evenodd"/><path d="M269.1 498.9 266.9 498.5 265.2 496.6 265.2 494.1 266.6 492.6 267.9 492.4 269.1 492.8 270.8 494.6 271.1 496.1 270.8 497.4 270.1 498.4 269.1 498.9Z" fill="#f50000" fill-rule="evenodd"/></g></g>
<line x1="280.3" y1="404.5" x2="280.3" y2="547.2" stroke="#222" stroke-width="1.1"/>
<line x1="188.7" y1="475.5" x2="331.8" y2="475.5" stroke="#222" stroke-width="1.1"/>
<text x="191.8" y="415.4" font-size="9.6" fill="#1a1a1a" letter-spacing="0.35">Q1</text>
<text x="191.8" y="427.1" font-size="9.6" fill="#1a1a1a" letter-spacing="0.35">1.34%</text>
<text x="303" y="415.4" font-size="9.6" fill="#1a1a1a" letter-spacing="0.35">Q2</text>
<text x="303" y="427.1" font-size="9.6" fill="#1a1a1a" letter-spacing="0.35">0.85%</text>
<text x="191.8" y="529" font-size="9.6" fill="#1a1a1a" letter-spacing="0.35">Q4</text>
<text x="191.8" y="541.3" font-size="9.6" fill="#1a1a1a" letter-spacing="0.35">78.9%</text>
<text x="303" y="529" font-size="9.6" fill="#1a1a1a" letter-spacing="0.35">Q3</text>
<text x="303" y="541.3" font-size="9.6" fill="#1a1a1a" letter-spacing="0.35">19.0%</text>
<line x1="197.9" y1="547.2" x2="197.9" y2="551" stroke="#222" stroke-width="1.4"/>
<line x1="221.7" y1="547.2" x2="221.7" y2="551" stroke="#222" stroke-width="1.4"/>
<line x1="244.5" y1="547.2" x2="244.5" y2="551" stroke="#222" stroke-width="1.4"/>
<line x1="283.5" y1="547.2" x2="283.5" y2="551" stroke="#222" stroke-width="1.4"/>
<line x1="318.7" y1="547.2" x2="318.7" y2="551" stroke="#222" stroke-width="1.4"/>
<line x1="203.85" y1="547.2" x2="203.85" y2="549.2" stroke="#444" stroke-width="0.9"/>
<line x1="208.61" y1="547.2" x2="208.61" y2="549.2" stroke="#444" stroke-width="0.9"/>
<line x1="212.18" y1="547.2" x2="212.18" y2="549.2" stroke="#444" stroke-width="0.9"/>
<line x1="215.04" y1="547.2" x2="215.04" y2="549.2" stroke="#444" stroke-width="0.9"/>
<line x1="217.42" y1="547.2" x2="217.42" y2="549.2" stroke="#444" stroke-width="0.9"/>
<line x1="219.32" y1="547.2" x2="219.32" y2="549.2" stroke="#444" stroke-width="0.9"/>
<line x1="223.98" y1="547.2" x2="223.98" y2="549.2" stroke="#444" stroke-width="0.9"/>
<line x1="225.8" y1="547.2" x2="225.8" y2="549.2" stroke="#444" stroke-width="0.9"/>
<line x1="228.08" y1="547.2" x2="228.08" y2="549.2" stroke="#444" stroke-width="0.9"/>
<line x1="230.82" y1="547.2" x2="230.82" y2="549.2" stroke="#444" stroke-width="0.9"/>
<line x1="234.24" y1="547.2" x2="234.24" y2="549.2" stroke="#444" stroke-width="0.9"/>
<line x1="238.8" y1="547.2" x2="238.8" y2="549.2" stroke="#444" stroke-width="0.9"/>
<line x1="256.24" y1="547.2" x2="256.24" y2="549.2" stroke="#444" stroke-width="0.9"/>
<line x1="263.11" y1="547.2" x2="263.11" y2="549.2" stroke="#444" stroke-width="0.9"/>
<line x1="267.98" y1="547.2" x2="267.98" y2="549.2" stroke="#444" stroke-width="0.9"/>
<line x1="271.76" y1="547.2" x2="271.76" y2="549.2" stroke="#444" stroke-width="0.9"/>
<line x1="274.85" y1="547.2" x2="274.85" y2="549.2" stroke="#444" stroke-width="0.9"/>
<line x1="277.46" y1="547.2" x2="277.46" y2="549.2" stroke="#444" stroke-width="0.9"/>
<line x1="279.72" y1="547.2" x2="279.72" y2="549.2" stroke="#444" stroke-width="0.9"/>
<line x1="281.72" y1="547.2" x2="281.72" y2="549.2" stroke="#444" stroke-width="0.9"/>
<line x1="294.1" y1="547.2" x2="294.1" y2="549.2" stroke="#444" stroke-width="0.9"/>
<line x1="300.29" y1="547.2" x2="300.29" y2="549.2" stroke="#444" stroke-width="0.9"/>
<line x1="304.69" y1="547.2" x2="304.69" y2="549.2" stroke="#444" stroke-width="0.9"/>
<line x1="308.1" y1="547.2" x2="308.1" y2="549.2" stroke="#444" stroke-width="0.9"/>
<line x1="310.89" y1="547.2" x2="310.89" y2="549.2" stroke="#444" stroke-width="0.9"/>
<line x1="313.25" y1="547.2" x2="313.25" y2="549.2" stroke="#444" stroke-width="0.9"/>
<line x1="315.29" y1="547.2" x2="315.29" y2="549.2" stroke="#444" stroke-width="0.9"/>
<line x1="317.09" y1="547.2" x2="317.09" y2="549.2" stroke="#444" stroke-width="0.9"/>
<line x1="329.3" y1="547.2" x2="329.3" y2="549.2" stroke="#444" stroke-width="0.9"/>
<rect x="217.5" y="547.4" width="6.4" height="3" fill="#111"/>
<text x="194" y="559.8" font-size="9.6" fill="#1a1a1a">-10<tspan font-size="6.34" dx="0.5" dy="-3.46">3</tspan></text>
<text x="222.7" y="559.8" font-size="9.6" text-anchor="middle" fill="#1a1a1a">0</text>
<text x="241.9" y="559.8" font-size="9.6" fill="#1a1a1a">10<tspan font-size="6.34" dx="0.5" dy="-3.46">3</tspan></text>
<text x="280.9" y="559.8" font-size="9.6" fill="#1a1a1a">10<tspan font-size="6.34" dx="0.5" dy="-3.46">4</tspan></text>
<text x="316.1" y="559.8" font-size="9.6" fill="#1a1a1a">10<tspan font-size="6.34" dx="0.5" dy="-3.46">5</tspan></text>
<line x1="184.7" y1="415.4" x2="188.7" y2="415.4" stroke="#222" stroke-width="1.4"/>
<line x1="184.7" y1="443.7" x2="188.7" y2="443.7" stroke="#222" stroke-width="1.4"/>
<line x1="184.7" y1="475.7" x2="188.7" y2="475.7" stroke="#222" stroke-width="1.4"/>
<line x1="184.7" y1="495.4" x2="188.7" y2="495.4" stroke="#222" stroke-width="1.4"/>
<line x1="184.7" y1="513.5" x2="188.7" y2="513.5" stroke="#222" stroke-width="1.4"/>
<line x1="184.7" y1="545.2" x2="188.7" y2="545.2" stroke="#222" stroke-width="1.4"/>
<line x1="186.7" y1="435.18" x2="188.7" y2="435.18" stroke="#444" stroke-width="0.9"/>
<line x1="186.7" y1="430.2" x2="188.7" y2="430.2" stroke="#444" stroke-width="0.9"/>
<line x1="186.7" y1="426.66" x2="188.7" y2="426.66" stroke="#444" stroke-width="0.9"/>
<line x1="186.7" y1="423.92" x2="188.7" y2="423.92" stroke="#444" stroke-width="0.9"/>
<line x1="186.7" y1="421.68" x2="188.7" y2="421.68" stroke="#444" stroke-width="0.9"/>
<line x1="186.7" y1="419.78" x2="188.7" y2="419.78" stroke="#444" stroke-width="0.9"/>
<line x1="186.7" y1="418.14" x2="188.7" y2="418.14" stroke="#444" stroke-width="0.9"/>
<line x1="186.7" y1="416.69" x2="188.7" y2="416.69" stroke="#444" stroke-width="0.9"/>
<line x1="186.7" y1="466.07" x2="188.7" y2="466.07" stroke="#444" stroke-width="0.9"/>
<line x1="186.7" y1="460.43" x2="188.7" y2="460.43" stroke="#444" stroke-width="0.9"/>
<line x1="186.7" y1="456.43" x2="188.7" y2="456.43" stroke="#444" stroke-width="0.9"/>
<line x1="186.7" y1="453.33" x2="188.7" y2="453.33" stroke="#444" stroke-width="0.9"/>
<line x1="186.7" y1="450.8" x2="188.7" y2="450.8" stroke="#444" stroke-width="0.9"/>
<line x1="186.7" y1="448.66" x2="188.7" y2="448.66" stroke="#444" stroke-width="0.9"/>
<line x1="186.7" y1="446.8" x2="188.7" y2="446.8" stroke="#444" stroke-width="0.9"/>
<line x1="186.7" y1="445.16" x2="188.7" y2="445.16" stroke="#444" stroke-width="0.9"/>
<line x1="186.7" y1="493.43" x2="188.7" y2="493.43" stroke="#444" stroke-width="0.9"/>
<line x1="186.7" y1="491.46" x2="188.7" y2="491.46" stroke="#444" stroke-width="0.9"/>
<line x1="186.7" y1="489.1" x2="188.7" y2="489.1" stroke="#444" stroke-width="0.9"/>
<line x1="186.7" y1="486.53" x2="188.7" y2="486.53" stroke="#444" stroke-width="0.9"/>
<line x1="186.7" y1="483.58" x2="188.7" y2="483.58" stroke="#444" stroke-width="0.9"/>
<line x1="186.7" y1="480.03" x2="188.7" y2="480.03" stroke="#444" stroke-width="0.9"/>
<line x1="186.7" y1="497.21" x2="188.7" y2="497.21" stroke="#444" stroke-width="0.9"/>
<line x1="186.7" y1="499.02" x2="188.7" y2="499.02" stroke="#444" stroke-width="0.9"/>
<line x1="186.7" y1="501.19" x2="188.7" y2="501.19" stroke="#444" stroke-width="0.9"/>
<line x1="186.7" y1="503.54" x2="188.7" y2="503.54" stroke="#444" stroke-width="0.9"/>
<line x1="186.7" y1="506.26" x2="188.7" y2="506.26" stroke="#444" stroke-width="0.9"/>
<line x1="186.7" y1="509.52" x2="188.7" y2="509.52" stroke="#444" stroke-width="0.9"/>
<line x1="186.7" y1="535.66" x2="188.7" y2="535.66" stroke="#444" stroke-width="0.9"/>
<line x1="186.7" y1="530.08" x2="188.7" y2="530.08" stroke="#444" stroke-width="0.9"/>
<line x1="186.7" y1="526.11" x2="188.7" y2="526.11" stroke="#444" stroke-width="0.9"/>
<line x1="186.7" y1="523.04" x2="188.7" y2="523.04" stroke="#444" stroke-width="0.9"/>
<line x1="186.7" y1="520.53" x2="188.7" y2="520.53" stroke="#444" stroke-width="0.9"/>
<line x1="186.7" y1="518.41" x2="188.7" y2="518.41" stroke="#444" stroke-width="0.9"/>
<line x1="186.7" y1="516.57" x2="188.7" y2="516.57" stroke="#444" stroke-width="0.9"/>
<line x1="186.7" y1="514.95" x2="188.7" y2="514.95" stroke="#444" stroke-width="0.9"/>
<line x1="186.7" y1="406.88" x2="188.7" y2="406.88" stroke="#444" stroke-width="0.9"/>
<rect x="185.3" y="492.6" width="3.2" height="5.6" fill="#111"/>
<rect x="340.3" y="404.5" width="143.9" height="142.7" fill="none" stroke="#c9c9c9" stroke-width="0.9"/>
<line x1="340.3" y1="404.5" x2="340.3" y2="547.2" stroke="#a8a8a8" stroke-width="1"/>
<line x1="340.3" y1="547.2" x2="484.2" y2="547.2" stroke="#a8a8a8" stroke-width="1"/>
<clipPath id="clip_l2"><rect x="340.3" y="404.5" width="143.9" height="142.7"/></clipPath><g clip-path="url(#clip_l2)"><g filter="url(#bl)"><path d="M425.0 461.7 421.4 461.7 419.2 462.4 417.0 463.9 413.4 467.6 403.8 479.4 401.7 482.2 398.7 487.6 396.5 493.1 395.5 496.4 395.1 499.7 395.4 503.1 396.3 506.4 397.9 509.3 400.4 511.8 403.4 513.8 405.9 514.8 408.8 515.6 413.5 516.3 417.5 516.4 419.8 516.0 426.9 513.6 439.6 508.4 446.5 506.2 449.9 504.8 451.6 503.9 452.8 502.6 453.3 501.3 454.0 497.5 455.5 494.5 457.7 491.8 460.8 488.9 461.5 488.0 461.6 486.9 460.5 486.0 459.6 485.7 454.8 485.4 453.2 484.3 452.0 482.6 451.3 480.7 451.2 479.3 451.5 476.1 451.3 474.9 450.5 474.1 446.9 472.7 446.2 471.8 443.8 467.7 443.5 467.6 443.1 467.8 442.3 469.8 441.4 470.8 439.6 471.8 438.2 471.9 436.7 470.8 432.7 465.1 430.9 463.3 428.9 462.2 425.6 461.7Z" fill="#000aff" fill-rule="evenodd"/><path d="M416.6 513.9 412.9 513.9 408.1 513.0 405.0 511.9 402.1 509.8 400.1 507.5 398.7 504.1 398.2 500.9 398.5 497.6 400.6 490.9 403.7 484.9 413.1 472.8 417.1 468.7 420.4 466.2 422.9 465.3 426.1 465.5 427.9 466.0 429.5 467.1 434.1 473.1 435.9 474.7 438.1 475.6 442.9 476.1 444.9 477.5 445.8 479.1 447.4 485.3 449.7 489.9 449.8 491.4 448.1 497.4 446.4 499.7 426.0 510.4 420.1 513.0 416.6 513.9Z" fill="#001eff" fill-rule="evenodd"/><path d="M415.9 512.9 411.9 512.8 407.9 511.9 405.1 510.7 402.6 508.8 400.9 506.4 399.8 503.4 399.4 500.4 399.9 497.1 401.9 491.0 404.8 485.4 413.4 474.5 417.1 470.6 420.6 467.8 423.1 466.9 425.9 467.0 428.6 468.5 433.1 474.2 435.1 476.1 437.4 477.2 441.9 478.4 443.2 479.4 446.9 490.4 446.4 494.6 445.6 496.6 444.4 498.0 429.6 506.9 421.1 511.3 415.9 512.9Z" fill="#002cff" fill-rule="evenodd"/><path d="M415.4 512.1 411.6 512.0 407.9 511.1 405.4 510.0 403.1 508.1 401.6 505.9 400.6 502.9 400.3 500.1 400.9 496.7 402.8 491.1 405.5 485.9 413.1 476.3 417.1 472.0 420.6 469.2 423.1 468.1 425.6 468.2 428.1 469.7 432.6 475.3 434.6 477.2 436.9 478.5 440.9 480.0 441.9 480.8 444.8 489.9 444.8 492.6 443.9 495.7 441.3 497.9 424.5 508.6 418.9 511.3 415.4 512.1Z" fill="#003fff" fill-rule="evenodd"/><path d="M416.1 511.4 412.9 511.5 409.2 510.9 406.4 509.8 404.1 508.1 402.5 506.1 401.4 503.4 401.1 500.6 401.5 497.4 402.6 493.6 404.4 489.4 406.6 485.4 409.5 481.6 415.4 474.9 419.4 471.3 422.4 469.4 425.1 469.2 427.6 470.6 434.1 478.1 440.8 482.1 441.7 483.9 443.3 489.6 443.4 492.4 442.5 494.9 441.4 496.0 429.7 504.4 421.6 509.3 416.1 511.4Z" fill="#0056ff" fill-rule="evenodd"/><path d="M415.9 510.9 412.6 511.0 409.2 510.4 406.6 509.3 404.4 507.6 402.9 505.6 401.9 502.9 401.6 500.4 402.0 497.4 404.8 489.6 406.9 485.9 409.6 482.3 415.1 476.1 419.1 472.4 422.4 470.3 424.9 470.0 427.2 471.4 433.9 479.0 440.0 483.1 440.9 484.9 442.1 489.4 442.2 492.4 441.5 494.1 440.4 495.4 428.1 504.6 420.9 509.1 415.9 510.9Z" fill="#0069ff" fill-rule="evenodd"/><path d="M415.6 510.4 412.4 510.4 409.4 509.9 406.9 508.9 404.7 507.1 403.3 505.1 402.4 502.4 402.2 499.9 402.7 496.9 404.1 492.6 405.8 488.9 407.8 485.6 410.4 482.3 415.6 476.5 419.4 473.1 422.5 471.1 424.9 470.9 427.1 472.4 433.4 479.7 439.1 484.0 440.7 488.4 441.0 492.1 440.4 493.6 439.3 494.9 427.3 504.4 420.5 508.6 415.6 510.4Z" fill="#007cff" fill-rule="evenodd"/><path d="M414.6 510.1 411.4 510.0 408.6 509.3 406.4 508.1 404.5 506.4 403.3 504.4 402.7 501.9 402.7 499.4 403.2 496.4 404.6 492.3 406.4 488.6 410.6 482.6 415.6 477.1 419.4 473.8 422.4 471.8 424.6 471.5 426.9 473.0 433.4 480.5 438.5 484.6 440.0 488.6 440.2 492.1 438.4 494.6 425.8 504.9 419.1 508.9 414.6 510.1Z" fill="#008dff" fill-rule="evenodd"/><path d="M415.6 509.7 412.6 509.8 409.6 509.2 407.1 508.1 405.3 506.6 403.9 504.6 403.2 502.4 403.0 499.9 403.5 496.9 406.4 489.4 408.3 486.1 410.9 482.9 415.6 477.7 419.4 474.4 422.4 472.5 424.6 472.3 426.6 473.6 432.6 480.6 437.9 485.2 439.1 488.1 439.4 491.6 437.8 494.1 426.7 503.6 420.3 507.9 415.6 509.7Z" fill="#009fff" fill-rule="evenodd"/><path d="M414.9 509.4 412.1 509.3 409.4 508.7 407.1 507.7 405.4 506.1 404.1 504.2 403.5 501.9 403.4 499.4 404.0 496.4 406.9 489.1 411.1 483.1 415.6 478.4 419.1 475.3 422.4 473.2 424.4 472.9 426.6 474.4 432.4 481.2 437.3 485.9 438.4 488.4 438.6 491.4 436.9 493.9 425.6 503.9 419.4 507.9 414.9 509.4Z" fill="#00b0ff" fill-rule="evenodd"/><path d="M415.6 508.9 412.9 509.0 410.1 508.6 407.8 507.6 405.9 506.1 404.6 504.1 403.9 501.9 403.8 499.6 404.4 496.6 407.2 489.4 411.4 483.4 415.9 478.7 419.4 475.7 422.4 473.9 424.4 473.7 426.6 475.3 432.1 481.8 436.6 486.4 437.6 488.6 437.7 491.1 436.1 493.6 426.1 502.9 420.1 507.1 415.6 508.9Z" fill="#00c3fe" fill-rule="evenodd"/><path d="M414.4 508.6 411.6 508.5 409.3 507.9 407.1 506.7 405.6 505.1 404.7 503.4 404.2 501.1 405.0 495.9 408.1 488.6 412.1 483.2 416.1 479.1 419.6 476.2 422.4 474.6 424.4 474.5 426.9 476.4 435.8 486.9 436.8 489.1 436.8 491.1 434.0 494.6 424.7 503.4 418.7 507.4 414.4 508.6Z" fill="#00d7fc" fill-rule="evenodd"/><path d="M415.1 508.2 412.4 508.2 409.9 507.7 407.8 506.6 406.2 505.1 405.2 503.4 404.7 501.1 405.3 496.1 408.2 489.1 412.1 483.8 419.4 477.1 422.1 475.5 424.1 475.3 426.9 477.3 434.8 487.1 435.9 489.1 435.9 490.9 433.0 494.6 424.9 502.6 419.4 506.6 415.1 508.2Z" fill="#00ebfb" fill-rule="evenodd"/><path d="M415.6 507.7 413.1 507.9 410.6 507.5 408.4 506.5 406.8 505.1 405.7 503.4 405.1 501.4 405.6 496.4 408.4 489.6 412.4 484.1 416.4 480.2 419.6 477.6 422.4 476.2 424.1 476.1 426.9 478.3 433.5 486.9 434.7 488.9 434.9 490.6 432.7 493.9 425.3 501.6 419.9 505.8 415.6 507.7Z" fill="#00f7e9" fill-rule="evenodd"/><path d="M414.6 507.4 412.1 507.3 409.9 506.7 408.0 505.6 406.6 504.2 405.8 502.4 405.5 500.4 406.4 495.4 409.3 488.9 413.1 483.9 419.9 478.2 422.4 476.9 424.1 477.0 426.9 479.2 432.2 486.4 433.7 489.1 433.7 490.9 429.9 496.1 424.0 502.1 418.9 505.9 414.6 507.4Z" fill="#00fac8" fill-rule="evenodd"/><path d="M415.1 506.9 412.9 507.0 410.6 506.6 408.6 505.6 407.2 504.1 406.3 502.6 405.9 500.6 406.7 495.6 409.4 489.4 413.1 484.5 419.6 479.1 422.1 477.8 423.9 477.8 426.1 479.4 429.7 484.1 432.5 488.6 432.7 490.9 429.2 495.9 423.8 501.6 419.1 505.2 415.1 506.9Z" fill="#00fda7" fill-rule="evenodd"/><path d="M415.4 506.4 413.1 506.6 410.9 506.2 408.9 505.1 407.6 503.9 406.8 502.4 406.4 500.4 407.2 495.4 409.9 489.4 413.6 484.6 419.9 479.7 422.1 478.6 423.9 478.7 426.1 480.4 429.1 484.4 431.5 488.6 431.7 490.9 429.0 495.1 423.9 500.9 419.3 504.6 415.4 506.4Z" fill="#00ff84" fill-rule="evenodd"/><path d="M413.6 506.1 411.6 505.9 409.7 505.1 408.2 503.9 407.3 502.4 406.9 498.9 408.2 493.6 411.0 488.4 414.9 484.0 420.4 480.2 422.4 479.4 423.9 479.6 426.3 481.6 429.3 486.1 430.7 489.1 430.5 491.4 426.6 497.1 421.8 502.1 417.4 505.2 413.6 506.1Z" fill="#00ff5f" fill-rule="evenodd"/><path d="M414.4 505.6 412.4 505.6 410.4 504.9 408.9 503.9 407.9 502.5 407.3 499.1 408.5 494.1 411.1 488.9 414.6 484.9 419.9 481.2 422.1 480.4 423.6 480.4 425.8 482.1 428.3 485.9 429.7 489.1 429.6 491.4 426.2 496.6 421.9 501.4 417.9 504.5 414.4 505.6Z" fill="#00ff3a" fill-rule="evenodd"/><path d="M414.4 505.2 412.4 505.1 410.6 504.5 409.2 503.4 408.3 502.1 407.8 500.6 407.8 498.6 409.1 493.6 411.6 488.9 415.4 484.8 420.4 481.7 422.1 481.2 423.6 481.4 425.7 483.1 428.0 486.9 428.9 489.6 428.6 491.6 425.5 496.6 421.5 501.1 417.6 504.1 414.4 505.2Z" fill="#14ff20" fill-rule="evenodd"/><path d="M414.6 504.6 412.9 504.6 411.1 504.1 409.6 503.1 408.6 501.6 408.3 498.4 409.5 493.6 412.0 489.1 415.4 485.5 420.1 482.6 421.9 482.2 423.4 482.4 425.3 483.9 427.1 486.9 428.0 489.6 427.7 491.6 424.9 496.4 421.3 500.6 417.9 503.4 414.6 504.6Z" fill="#3cff10" fill-rule="evenodd"/><path d="M414.6 504.1 411.3 503.6 410.0 502.6 409.1 501.4 408.8 498.1 410.0 493.6 412.4 489.3 415.6 485.9 419.9 483.5 421.6 483.1 423.1 483.3 424.9 484.7 426.6 487.6 427.2 489.9 426.8 491.9 424.2 496.4 420.9 500.4 417.6 503.0 414.6 504.1Z" fill="#64ff00" fill-rule="evenodd"/><path d="M414.4 503.6 411.4 503.0 409.5 500.9 409.3 497.6 410.6 493.1 412.9 489.3 416.1 486.2 419.9 484.3 421.6 484.1 423.0 484.4 424.6 485.8 426.0 488.4 426.3 490.4 425.6 492.6 423.1 496.9 420.2 500.4 417.1 502.7 414.4 503.6Z" fill="#92ff00" fill-rule="evenodd"/><path d="M415.4 502.9 412.4 502.8 411.1 502.1 410.1 500.9 409.7 497.9 410.8 493.9 412.9 490.0 415.9 487.0 419.4 485.3 422.4 485.3 423.9 486.4 425.1 488.6 425.4 490.4 424.9 492.4 422.9 496.1 420.5 499.4 417.9 501.7 415.4 502.9Z" fill="#c0ff00" fill-rule="evenodd"/><path d="M415.4 502.4 412.6 502.3 411.5 501.6 410.6 500.5 410.2 497.6 411.2 493.9 413.2 490.4 415.9 487.7 419.1 486.1 421.9 486.3 423.3 487.4 424.3 489.1 424.4 490.9 423.9 492.9 422.2 496.1 420.0 499.1 417.6 501.3 415.4 502.4Z" fill="#e2f500" fill-rule="evenodd"/><path d="M415.1 501.9 412.6 501.6 411.1 500.1 410.8 497.4 411.7 493.9 413.5 490.6 415.9 488.3 418.6 487.0 421.1 487.2 422.5 488.1 423.4 489.8 423.5 491.4 422.8 493.6 421.2 496.6 419.3 499.1 417.1 501.0 415.1 501.9Z" fill="#f9e100" fill-rule="evenodd"/><path d="M414.4 501.4 412.4 500.7 411.4 499.1 411.3 496.6 412.4 493.4 414.1 490.6 416.1 488.8 418.4 487.9 420.6 488.1 421.8 489.1 422.5 490.6 422.4 492.6 421.5 494.9 420.1 497.4 418.1 499.6 416.1 501.0 414.4 501.4Z" fill="#ffb400" fill-rule="evenodd"/><path d="M415.4 500.6 413.4 500.5 412.1 499.4 411.8 497.4 412.3 494.6 413.7 491.9 415.6 489.8 417.6 488.8 419.6 488.8 420.8 489.6 421.5 490.9 421.2 494.1 418.6 498.4 417.0 499.9 415.4 500.6Z" fill="#ff7d00" fill-rule="evenodd"/><path d="M415.6 499.9 413.9 500.0 412.8 499.1 412.3 497.4 412.7 494.9 413.9 492.4 415.4 490.7 417.1 489.7 418.9 489.6 419.8 490.1 420.5 491.1 420.4 494.1 418.4 497.9 415.6 499.9Z" fill="#ff4100" fill-rule="evenodd"/><path d="M415.4 499.4 414.1 499.3 413.1 498.4 412.8 496.9 413.2 494.9 414.1 492.9 415.4 491.4 416.9 490.5 418.4 490.4 419.2 490.9 419.8 491.9 419.6 494.6 417.9 497.7 415.4 499.4Z" fill="#ff1400" fill-rule="evenodd"/><path d="M415.6 498.6 414.4 498.6 413.6 497.9 413.3 496.6 413.6 494.9 415.4 492.1 416.6 491.3 417.9 491.2 419.0 492.4 418.9 494.6 417.6 497.1 415.6 498.6Z" fill="#f50000" fill-rule="evenodd"/><ellipse cx="463.3" cy="425.6" rx="4.2" ry="5.2" transform="rotate(20 463.3 425.6)" fill="#000cff"/><ellipse cx="472.6" cy="426.0" rx="0.8" ry="0.8" transform="rotate(0 472.6 426.0)" fill="#000cff"/><ellipse cx="483.2" cy="467.6" rx="2.6" ry="3.0" transform="rotate(0 483.2 467.6)" fill="#000cff"/></g></g>
<line x1="431.9" y1="404.5" x2="431.9" y2="547.2" stroke="#222" stroke-width="1.1"/>
<line x1="340.3" y1="475.5" x2="484.2" y2="475.5" stroke="#222" stroke-width="1.1"/>
<text x="342.4" y="415.4" font-size="9.6" fill="#1a1a1a" letter-spacing="0.35">Q1</text>
<text x="342.4" y="427.1" font-size="9.6" fill="#1a1a1a" letter-spacing="0.35">1.83%</text>
<text x="432.6" y="415.4" font-size="9.6" fill="#1a1a1a" letter-spacing="0.35">Q2</text>
<text x="432.6" y="427.1" font-size="9.6" fill="#1a1a1a" letter-spacing="0.35">1.52%</text>
<text x="342.4" y="529" font-size="9.6" fill="#1a1a1a" letter-spacing="0.35">Q4</text>
<text x="342.4" y="541.3" font-size="9.6" fill="#1a1a1a" letter-spacing="0.35">88.1%</text>
<text x="455.4" y="529" font-size="9.6" fill="#1a1a1a" letter-spacing="0.35">Q3</text>
<text x="455.4" y="541.3" font-size="9.6" fill="#1a1a1a" letter-spacing="0.35">8.57%</text>
<line x1="349.5" y1="547.2" x2="349.5" y2="551" stroke="#222" stroke-width="1.4"/>
<line x1="373.3" y1="547.2" x2="373.3" y2="551" stroke="#222" stroke-width="1.4"/>
<line x1="396.1" y1="547.2" x2="396.1" y2="551" stroke="#222" stroke-width="1.4"/>
<line x1="435.1" y1="547.2" x2="435.1" y2="551" stroke="#222" stroke-width="1.4"/>
<line x1="470.3" y1="547.2" x2="470.3" y2="551" stroke="#222" stroke-width="1.4"/>
<line x1="355.45" y1="547.2" x2="355.45" y2="549.2" stroke="#444" stroke-width="0.9"/>
<line x1="360.21" y1="547.2" x2="360.21" y2="549.2" stroke="#444" stroke-width="0.9"/>
<line x1="363.78" y1="547.2" x2="363.78" y2="549.2" stroke="#444" stroke-width="0.9"/>
<line x1="366.64" y1="547.2" x2="366.64" y2="549.2" stroke="#444" stroke-width="0.9"/>
<line x1="369.02" y1="547.2" x2="369.02" y2="549.2" stroke="#444" stroke-width="0.9"/>
<line x1="370.92" y1="547.2" x2="370.92" y2="549.2" stroke="#444" stroke-width="0.9"/>
<line x1="375.58" y1="547.2" x2="375.58" y2="549.2" stroke="#444" stroke-width="0.9"/>
<line x1="377.4" y1="547.2" x2="377.4" y2="549.2" stroke="#444" stroke-width="0.9"/>
<line x1="379.68" y1="547.2" x2="379.68" y2="549.2" stroke="#444" stroke-width="0.9"/>
<line x1="382.42" y1="547.2" x2="382.42" y2="549.2" stroke="#444" stroke-width="0.9"/>
<line x1="385.84" y1="547.2" x2="385.84" y2="549.2" stroke="#444" stroke-width="0.9"/>
<line x1="390.4" y1="547.2" x2="390.4" y2="549.2" stroke="#444" stroke-width="0.9"/>
<line x1="407.84" y1="547.2" x2="407.84" y2="549.2" stroke="#444" stroke-width="0.9"/>
<line x1="414.71" y1="547.2" x2="414.71" y2="549.2" stroke="#444" stroke-width="0.9"/>
<line x1="419.58" y1="547.2" x2="419.58" y2="549.2" stroke="#444" stroke-width="0.9"/>
<line x1="423.36" y1="547.2" x2="423.36" y2="549.2" stroke="#444" stroke-width="0.9"/>
<line x1="426.45" y1="547.2" x2="426.45" y2="549.2" stroke="#444" stroke-width="0.9"/>
<line x1="429.06" y1="547.2" x2="429.06" y2="549.2" stroke="#444" stroke-width="0.9"/>
<line x1="431.32" y1="547.2" x2="431.32" y2="549.2" stroke="#444" stroke-width="0.9"/>
<line x1="433.32" y1="547.2" x2="433.32" y2="549.2" stroke="#444" stroke-width="0.9"/>
<line x1="445.7" y1="547.2" x2="445.7" y2="549.2" stroke="#444" stroke-width="0.9"/>
<line x1="451.89" y1="547.2" x2="451.89" y2="549.2" stroke="#444" stroke-width="0.9"/>
<line x1="456.29" y1="547.2" x2="456.29" y2="549.2" stroke="#444" stroke-width="0.9"/>
<line x1="459.7" y1="547.2" x2="459.7" y2="549.2" stroke="#444" stroke-width="0.9"/>
<line x1="462.49" y1="547.2" x2="462.49" y2="549.2" stroke="#444" stroke-width="0.9"/>
<line x1="464.85" y1="547.2" x2="464.85" y2="549.2" stroke="#444" stroke-width="0.9"/>
<line x1="466.89" y1="547.2" x2="466.89" y2="549.2" stroke="#444" stroke-width="0.9"/>
<line x1="468.69" y1="547.2" x2="468.69" y2="549.2" stroke="#444" stroke-width="0.9"/>
<line x1="480.9" y1="547.2" x2="480.9" y2="549.2" stroke="#444" stroke-width="0.9"/>
<rect x="369.1" y="547.4" width="6.4" height="3" fill="#111"/>
<text x="345.6" y="559.8" font-size="9.6" fill="#1a1a1a">-10<tspan font-size="6.34" dx="0.5" dy="-3.46">3</tspan></text>
<text x="374.3" y="559.8" font-size="9.6" text-anchor="middle" fill="#1a1a1a">0</text>
<text x="393.5" y="559.8" font-size="9.6" fill="#1a1a1a">10<tspan font-size="6.34" dx="0.5" dy="-3.46">3</tspan></text>
<text x="432.5" y="559.8" font-size="9.6" fill="#1a1a1a">10<tspan font-size="6.34" dx="0.5" dy="-3.46">4</tspan></text>
<text x="467.7" y="559.8" font-size="9.6" fill="#1a1a1a">10<tspan font-size="6.34" dx="0.5" dy="-3.46">5</tspan></text>
<line x1="336.3" y1="415.4" x2="340.3" y2="415.4" stroke="#222" stroke-width="1.4"/>
<line x1="336.3" y1="443.7" x2="340.3" y2="443.7" stroke="#222" stroke-width="1.4"/>
<line x1="336.3" y1="475.7" x2="340.3" y2="475.7" stroke="#222" stroke-width="1.4"/>
<line x1="336.3" y1="495.4" x2="340.3" y2="495.4" stroke="#222" stroke-width="1.4"/>
<line x1="336.3" y1="513.5" x2="340.3" y2="513.5" stroke="#222" stroke-width="1.4"/>
<line x1="336.3" y1="545.2" x2="340.3" y2="545.2" stroke="#222" stroke-width="1.4"/>
<line x1="338.3" y1="435.18" x2="340.3" y2="435.18" stroke="#444" stroke-width="0.9"/>
<line x1="338.3" y1="430.2" x2="340.3" y2="430.2" stroke="#444" stroke-width="0.9"/>
<line x1="338.3" y1="426.66" x2="340.3" y2="426.66" stroke="#444" stroke-width="0.9"/>
<line x1="338.3" y1="423.92" x2="340.3" y2="423.92" stroke="#444" stroke-width="0.9"/>
<line x1="338.3" y1="421.68" x2="340.3" y2="421.68" stroke="#444" stroke-width="0.9"/>
<line x1="338.3" y1="419.78" x2="340.3" y2="419.78" stroke="#444" stroke-width="0.9"/>
<line x1="338.3" y1="418.14" x2="340.3" y2="418.14" stroke="#444" stroke-width="0.9"/>
<line x1="338.3" y1="416.69" x2="340.3" y2="416.69" stroke="#444" stroke-width="0.9"/>
<line x1="338.3" y1="466.07" x2="340.3" y2="466.07" stroke="#444" stroke-width="0.9"/>
<line x1="338.3" y1="460.43" x2="340.3" y2="460.43" stroke="#444" stroke-width="0.9"/>
<line x1="338.3" y1="456.43" x2="340.3" y2="456.43" stroke="#444" stroke-width="0.9"/>
<line x1="338.3" y1="453.33" x2="340.3" y2="453.33" stroke="#444" stroke-width="0.9"/>
<line x1="338.3" y1="450.8" x2="340.3" y2="450.8" stroke="#444" stroke-width="0.9"/>
<line x1="338.3" y1="448.66" x2="340.3" y2="448.66" stroke="#444" stroke-width="0.9"/>
<line x1="338.3" y1="446.8" x2="340.3" y2="446.8" stroke="#444" stroke-width="0.9"/>
<line x1="338.3" y1="445.16" x2="340.3" y2="445.16" stroke="#444" stroke-width="0.9"/>
<line x1="338.3" y1="493.43" x2="340.3" y2="493.43" stroke="#444" stroke-width="0.9"/>
<line x1="338.3" y1="491.46" x2="340.3" y2="491.46" stroke="#444" stroke-width="0.9"/>
<line x1="338.3" y1="489.1" x2="340.3" y2="489.1" stroke="#444" stroke-width="0.9"/>
<line x1="338.3" y1="486.53" x2="340.3" y2="486.53" stroke="#444" stroke-width="0.9"/>
<line x1="338.3" y1="483.58" x2="340.3" y2="483.58" stroke="#444" stroke-width="0.9"/>
<line x1="338.3" y1="480.03" x2="340.3" y2="480.03" stroke="#444" stroke-width="0.9"/>
<line x1="338.3" y1="497.21" x2="340.3" y2="497.21" stroke="#444" stroke-width="0.9"/>
<line x1="338.3" y1="499.02" x2="340.3" y2="499.02" stroke="#444" stroke-width="0.9"/>
<line x1="338.3" y1="501.19" x2="340.3" y2="501.19" stroke="#444" stroke-width="0.9"/>
<line x1="338.3" y1="503.54" x2="340.3" y2="503.54" stroke="#444" stroke-width="0.9"/>
<line x1="338.3" y1="506.26" x2="340.3" y2="506.26" stroke="#444" stroke-width="0.9"/>
<line x1="338.3" y1="509.52" x2="340.3" y2="509.52" stroke="#444" stroke-width="0.9"/>
<line x1="338.3" y1="535.66" x2="340.3" y2="535.66" stroke="#444" stroke-width="0.9"/>
<line x1="338.3" y1="530.08" x2="340.3" y2="530.08" stroke="#444" stroke-width="0.9"/>
<line x1="338.3" y1="526.11" x2="340.3" y2="526.11" stroke="#444" stroke-width="0.9"/>
<line x1="338.3" y1="523.04" x2="340.3" y2="523.04" stroke="#444" stroke-width="0.9"/>
<line x1="338.3" y1="520.53" x2="340.3" y2="520.53" stroke="#444" stroke-width="0.9"/>
<line x1="338.3" y1="518.41" x2="340.3" y2="518.41" stroke="#444" stroke-width="0.9"/>
<line x1="338.3" y1="516.57" x2="340.3" y2="516.57" stroke="#444" stroke-width="0.9"/>
<line x1="338.3" y1="514.95" x2="340.3" y2="514.95" stroke="#444" stroke-width="0.9"/>
<line x1="338.3" y1="406.88" x2="340.3" y2="406.88" stroke="#444" stroke-width="0.9"/>
<rect x="336.9" y="492.6" width="3.2" height="5.6" fill="#111"/>
<rect x="540.6" y="404.5" width="141.9" height="142.7" fill="none" stroke="#c9c9c9" stroke-width="0.9"/>
<line x1="540.6" y1="404.5" x2="540.6" y2="547.2" stroke="#a8a8a8" stroke-width="1"/>
<line x1="540.6" y1="547.2" x2="682.5" y2="547.2" stroke="#a8a8a8" stroke-width="1"/>
<clipPath id="clip_l3"><rect x="540.6" y="404.5" width="141.9" height="142.7"/></clipPath><g clip-path="url(#clip_l3)"><g filter="url(#bl)"><path d="M649.0 450.0 633.3 452.8 625.2 454.6 620.6 456.2 613.7 459.2 605.5 462.4 602.7 464.4 599.7 467.5 596.0 472.1 590.6 479.8 589.2 482.9 588.7 485.4 588.5 488.0 588.5 499.1 589.2 504.4 591.2 509.2 594.5 514.7 597.7 518.7 601.9 523.6 602.9 524.5 604.5 525.1 608.2 525.6 612.6 525.5 615.3 525.1 617.8 524.4 624.5 521.2 633.2 517.8 641.3 515.1 646.7 514.0 648.9 512.4 653.6 507.4 659.5 503.0 661.9 500.3 669.4 485.2 672.3 478.2 673.5 473.7 673.5 471.7 673.2 469.8 671.3 464.1 670.0 461.1 668.8 459.2 667.2 457.7 665.2 456.4 654.3 451.0 651.9 450.2 649.7 450.0Z" fill="#000aff" fill-rule="evenodd"/><path d="M613.9 521.1 607.9 521.2 605.9 520.6 604.4 519.6 601.0 516.1 596.4 510.2 594.0 506.1 592.5 502.4 591.8 497.9 591.5 492.1 592.1 484.4 594.2 479.9 600.4 471.3 604.1 467.4 608.4 464.9 622.4 460.2 630.6 458.6 643.9 457.7 648.1 456.6 650.6 456.4 653.9 457.1 661.7 459.9 665.0 461.6 667.2 464.4 669.1 468.4 670.0 471.9 669.8 474.9 668.5 478.6 665.9 483.7 655.9 498.4 644.6 509.6 617.6 520.2 613.9 521.1Z" fill="#001eff" fill-rule="evenodd"/><path d="M614.1 519.4 608.4 519.4 606.6 518.9 604.9 517.6 601.9 514.5 597.6 509.2 595.4 505.4 594.0 501.9 593.2 497.6 592.9 492.1 593.4 484.7 595.9 479.6 601.6 471.8 605.1 468.4 608.6 466.3 621.1 462.4 626.4 461.3 632.4 460.7 644.6 460.5 648.4 459.4 650.6 459.3 660.4 461.7 663.9 463.5 666.1 466.3 667.8 469.9 668.4 472.9 667.9 475.6 666.5 479.1 664.2 483.1 653.7 497.1 643.6 507.9 618.4 518.2 614.1 519.4Z" fill="#002cff" fill-rule="evenodd"/><path d="M613.9 518.1 608.4 518.0 606.9 517.4 605.1 516.0 598.4 508.1 596.1 504.2 594.9 500.9 593.9 491.4 594.4 484.8 595.5 482.1 598.3 477.6 602.9 471.9 605.9 469.1 609.4 467.2 621.0 463.9 626.4 462.9 632.9 462.4 645.4 462.8 648.6 461.7 651.1 461.6 659.6 463.3 663.1 465.1 665.4 468.1 666.8 471.6 666.8 474.4 665.6 477.9 662.4 483.2 659.1 486.8 654.3 493.4 644.2 505.4 642.1 506.9 628.0 513.1 617.4 517.2 613.9 518.1Z" fill="#003fff" fill-rule="evenodd"/><path d="M612.9 517.1 608.1 516.7 604.5 513.9 600.4 509.1 598.1 505.9 596.4 502.4 595.5 499.1 594.7 490.4 595.3 484.6 596.6 481.9 599.4 477.4 604.1 471.8 606.9 469.4 610.1 467.9 620.9 465.1 626.6 464.2 633.1 463.9 645.1 464.7 649.4 463.7 652.1 463.6 659.4 464.8 662.6 466.8 664.6 469.5 665.6 472.4 665.4 475.1 664.2 478.1 661.8 481.9 658.5 485.4 643.3 504.4 641.1 505.9 626.7 512.6 616.9 516.3 612.9 517.1Z" fill="#0056ff" fill-rule="evenodd"/><path d="M614.1 516.1 609.1 516.0 605.9 514.1 599.4 506.4 597.4 502.9 596.4 499.6 595.4 490.9 595.9 484.9 597.1 482.1 599.9 477.7 604.4 472.4 607.1 470.1 610.4 468.5 620.1 466.2 626.1 465.2 633.4 465.1 644.6 466.2 650.1 465.2 653.9 465.2 659.1 466.1 662.0 467.9 663.7 470.1 664.5 472.6 664.3 475.1 663.1 478.1 661.1 481.1 658.1 484.1 652.9 490.9 650.4 493.4 642.6 503.5 640.4 505.1 628.3 511.1 617.9 515.1 614.1 516.1Z" fill="#0069ff" fill-rule="evenodd"/><path d="M612.9 515.4 610.4 515.3 608.4 514.7 604.1 511.0 601.0 507.4 598.9 504.1 597.6 501.1 596.7 497.6 596.0 489.9 596.7 484.6 600.7 477.6 605.4 472.4 608.0 470.4 611.1 469.1 620.1 467.1 626.4 466.3 633.6 466.4 644.4 467.7 648.6 466.9 655.6 466.8 659.1 467.6 661.6 469.4 662.9 471.4 663.4 473.4 663.1 475.6 661.9 478.3 659.9 480.9 657.4 483.2 651.9 490.2 649.1 492.8 641.7 502.9 635.2 506.9 626.6 511.0 616.9 514.6 612.9 515.4Z" fill="#007cff" fill-rule="evenodd"/><path d="M614.1 514.6 611.6 514.8 609.4 514.5 606.1 512.3 602.3 508.1 600.0 504.9 598.4 501.8 597.4 498.4 596.5 490.6 597.0 485.1 598.2 482.4 600.9 478.2 605.4 473.1 608.1 470.9 611.1 469.6 619.1 467.9 625.9 467.0 633.6 467.2 644.1 468.8 648.4 468.0 655.9 467.9 658.9 468.6 661.0 470.1 662.2 471.9 662.6 473.6 662.2 475.9 661.1 478.1 659.4 480.4 656.9 482.5 651.4 489.5 648.3 492.4 641.1 502.4 635.1 506.2 627.6 510.0 621.9 512.3 614.1 514.6Z" fill="#008dff" fill-rule="evenodd"/><path d="M613.1 514.1 610.6 514.1 608.6 513.4 603.9 509.0 599.5 502.9 597.6 497.0 597.0 489.9 597.6 484.9 601.4 478.2 605.9 473.3 608.4 471.3 611.4 470.1 618.9 468.6 625.9 467.8 633.6 468.1 643.9 469.9 648.1 469.1 655.9 468.9 658.4 469.5 660.4 470.9 661.3 472.4 661.7 474.1 661.4 475.9 660.4 477.9 658.6 480.0 656.4 481.7 650.9 488.8 647.5 491.9 640.6 501.8 634.4 505.9 626.6 509.8 617.6 513.1 613.1 514.1Z" fill="#009fff" fill-rule="evenodd"/><path d="M614.1 513.4 609.9 513.2 608.2 512.4 606.4 510.8 602.9 507.0 600.7 503.9 599.3 501.1 598.3 497.6 597.4 490.4 598.0 485.1 601.6 478.7 605.9 473.9 608.6 471.8 611.6 470.6 618.6 469.2 625.4 468.5 633.6 469.0 643.4 471.0 648.1 470.2 651.6 470.4 655.9 470.0 657.9 470.5 659.6 471.7 660.4 472.9 660.7 474.4 659.6 477.6 658.1 479.4 655.7 481.1 653.4 484.6 650.4 488.1 646.6 491.4 641.9 499.0 640.1 501.1 634.3 505.1 627.4 508.9 621.9 511.1 614.1 513.4Z" fill="#00b0ff" fill-rule="evenodd"/><path d="M612.6 512.9 610.4 512.7 608.6 511.9 603.1 506.4 600.0 501.4 598.5 495.6 597.9 489.1 598.6 484.9 602.2 478.6 606.6 473.9 609.2 472.1 612.1 471.0 618.6 469.9 625.1 469.3 633.6 470.0 643.1 472.1 647.9 471.3 651.9 471.7 655.9 471.2 657.6 471.7 658.9 472.6 659.7 474.9 658.8 477.4 657.1 479.1 654.9 480.4 651.1 486.0 648.4 488.9 645.7 490.9 641.3 498.4 639.2 500.9 633.0 505.1 625.9 508.9 617.6 511.9 612.6 512.9Z" fill="#00c3fe" fill-rule="evenodd"/><path d="M613.4 512.2 611.1 512.1 609.1 511.4 604.4 506.9 600.9 501.9 599.1 496.1 598.4 489.6 599.1 485.1 602.5 479.1 606.6 474.6 609.4 472.6 612.1 471.6 618.4 470.6 624.6 470.1 633.4 470.9 642.9 473.3 648.1 472.5 652.1 473.2 655.4 472.4 656.9 472.7 658.1 473.6 658.6 475.4 657.9 477.1 656.4 478.5 654.1 479.5 652.7 482.4 650.6 485.2 647.6 488.3 644.8 490.4 640.6 497.8 638.4 500.4 632.9 504.4 626.1 508.2 620.4 510.4 613.4 512.2Z" fill="#00d7fc" fill-rule="evenodd"/><path d="M613.9 511.4 611.6 511.5 609.7 510.9 605.2 506.9 601.4 501.6 599.6 496.1 598.9 489.9 599.5 485.4 602.9 479.4 606.9 475.1 609.6 473.2 612.4 472.1 618.1 471.3 623.9 470.9 628.1 471.1 632.9 471.9 642.4 474.5 648.4 473.8 650.4 474.3 651.9 475.4 653.1 474.4 654.6 473.8 656.1 473.8 657.1 474.4 657.5 475.6 656.9 476.9 655.1 478.1 652.9 478.1 652.4 480.6 650.9 483.4 647.4 487.3 643.8 489.9 640.0 497.1 637.4 500.1 632.0 504.1 625.9 507.6 620.6 509.7 613.9 511.4Z" fill="#00ebfb" fill-rule="evenodd"/><path d="M614.1 510.7 612.1 510.8 610.4 510.4 606.6 507.4 602.3 502.1 600.4 496.9 599.5 490.6 599.8 486.1 602.5 480.9 606.0 476.6 609.1 474.1 611.9 472.9 617.4 472.0 623.1 471.7 627.4 471.9 631.5 472.6 642.1 475.8 645.4 475.2 647.9 475.3 650.4 476.6 651.1 477.9 651.3 479.4 650.1 482.6 646.9 486.5 642.8 489.4 639.5 496.1 637.2 499.1 632.2 503.1 626.1 506.8 620.9 508.9 614.1 510.7ZM655.4 476.9 653.8 476.9 653.6 476.1 654.0 475.4 655.1 474.9 656.1 475.3 656.2 476.1 655.4 476.9Z" fill="#00f7e9" fill-rule="evenodd"/><path d="M614.4 509.9 612.4 510.0 610.6 509.7 606.9 506.7 602.9 501.8 600.9 496.6 600.0 490.6 600.4 486.1 602.9 481.1 606.4 477.0 609.4 474.7 612.1 473.5 617.1 472.7 622.6 472.5 627.1 472.8 631.1 473.6 636.4 475.1 641.6 477.1 646.1 476.7 647.6 477.1 648.8 477.9 649.4 478.9 649.6 480.1 648.6 482.9 645.8 486.1 641.8 488.9 638.6 495.8 635.8 499.1 630.9 503.1 625.5 506.4 620.6 508.4 614.4 509.9Z" fill="#00fac8" fill-rule="evenodd"/><path d="M614.6 509.1 611.1 509.0 607.6 506.5 603.5 501.6 601.5 496.6 600.6 490.9 600.9 486.4 603.2 481.6 606.6 477.5 609.6 475.2 612.4 474.0 617.1 473.4 622.4 473.4 629.9 474.3 636.1 476.3 640.9 478.5 644.9 478.2 646.4 478.6 647.4 479.4 647.9 481.1 646.9 483.4 644.4 486.0 640.9 488.1 637.7 495.4 633.7 499.9 629.1 503.5 624.6 506.1 620.1 507.8 614.6 509.1Z" fill="#00fda7" fill-rule="evenodd"/><path d="M614.6 508.4 611.1 508.2 607.4 505.4 603.9 501.0 602.0 496.1 601.1 490.6 601.4 486.6 603.6 482.0 606.9 478.1 609.9 475.8 612.6 474.7 616.6 474.1 621.6 474.1 626.9 474.7 631.4 475.9 637.8 478.4 640.1 480.1 643.4 479.7 645.6 480.5 646.1 481.9 645.4 483.4 643.2 485.6 639.7 487.6 636.9 494.8 632.1 500.1 628.0 503.4 623.9 505.7 619.6 507.3 614.6 508.4Z" fill="#00ff84" fill-rule="evenodd"/><path d="M614.4 507.6 612.4 507.7 610.9 507.2 607.1 504.1 604.2 500.1 602.4 495.4 601.7 490.1 602.1 486.4 604.4 481.9 607.4 478.4 610.4 476.3 612.9 475.3 616.6 474.9 621.6 475.0 627.4 475.9 632.2 477.4 637.4 479.8 639.1 481.7 642.1 481.1 643.9 481.7 644.1 482.9 643.1 484.4 641.4 485.6 638.6 486.9 636.0 494.1 633.5 497.4 630.5 500.4 627.0 503.1 623.1 505.3 619.1 506.7 614.4 507.6Z" fill="#00ff5f" fill-rule="evenodd"/><path d="M614.1 506.9 612.4 506.8 610.9 506.2 607.1 503.0 604.5 499.4 602.9 494.6 602.3 489.9 602.7 486.4 604.9 482.1 607.8 478.9 610.6 476.9 613.1 475.9 616.6 475.6 621.4 475.8 628.4 477.3 634.6 479.9 637.1 481.6 637.9 484.2 640.1 482.8 642.0 482.9 642.0 483.6 640.9 484.7 639.4 485.3 637.7 485.4 636.3 490.6 635.0 493.6 632.2 497.4 628.7 500.9 625.6 503.1 622.1 505.0 618.4 506.2 614.1 506.9Z" fill="#00ff3a" fill-rule="evenodd"/><path d="M615.9 505.9 612.6 506.0 610.1 504.8 606.6 501.4 604.5 497.6 603.1 492.7 602.9 488.4 603.8 485.1 606.0 481.6 608.4 479.2 611.1 477.4 613.6 476.6 616.6 476.3 621.4 476.7 626.5 477.9 631.1 479.6 634.9 481.7 635.8 482.6 636.2 483.9 635.7 488.1 634.3 492.4 631.5 496.6 628.0 500.4 624.4 503.0 620.4 504.8 615.9 505.9Z" fill="#14ff20" fill-rule="evenodd"/><path d="M615.6 505.1 612.6 505.1 610.1 503.8 607.0 500.6 605.0 497.1 603.7 492.6 603.5 488.6 604.4 485.4 606.4 482.1 608.6 479.9 611.1 478.2 613.6 477.3 616.4 477.1 620.6 477.5 625.1 478.6 629.8 480.4 633.3 482.4 634.7 484.4 634.4 488.1 633.0 492.1 630.3 496.6 627.1 500.0 623.6 502.6 619.9 504.2 615.6 505.1Z" fill="#3cff10" fill-rule="evenodd"/><path d="M614.9 504.4 612.1 504.0 609.6 502.4 607.1 499.6 605.4 496.1 604.3 492.1 604.1 488.6 605.0 485.6 606.9 482.5 608.9 480.5 611.4 478.9 613.9 478.1 616.4 477.9 620.4 478.3 624.2 479.4 628.4 481.1 631.8 483.1 633.1 485.1 633.0 488.4 631.3 492.9 628.6 497.1 625.7 500.1 622.4 502.4 618.9 503.7 614.9 504.4Z" fill="#64ff00" fill-rule="evenodd"/><path d="M616.4 503.4 614.1 503.5 612.4 503.2 610.6 502.2 608.6 500.3 606.0 495.9 604.7 490.1 605.4 486.3 607.9 482.3 611.4 479.7 615.4 478.7 620.6 479.3 626.1 481.4 630.5 484.1 631.4 485.2 631.7 486.6 631.3 489.1 630.1 492.6 628.4 495.6 626.5 498.1 624.3 500.1 621.9 501.7 619.4 502.7 616.4 503.4Z" fill="#92ff00" fill-rule="evenodd"/><path d="M615.6 502.6 612.1 502.1 608.7 499.1 606.3 494.6 605.4 489.6 606.3 485.9 608.6 482.6 612.1 480.2 615.9 479.5 620.6 480.3 625.4 482.4 629.1 485.0 629.9 486.1 630.1 487.4 629.7 489.9 628.5 493.1 627.0 495.9 625.2 498.1 620.9 501.3 615.6 502.6Z" fill="#c0ff00" fill-rule="evenodd"/><path d="M616.9 501.6 613.1 501.5 610.1 499.6 607.5 495.6 606.1 490.9 606.4 487.4 608.4 483.9 611.4 481.4 614.9 480.4 618.9 480.8 623.4 482.6 627.4 485.4 628.5 487.6 628.3 489.9 627.5 492.6 624.9 497.1 621.3 500.1 616.9 501.6Z" fill="#e2f500" fill-rule="evenodd"/><path d="M615.4 500.9 612.4 500.2 609.6 497.8 607.5 493.9 606.8 489.6 607.6 486.4 609.6 483.6 612.6 481.8 615.9 481.2 619.6 482.0 623.7 484.1 626.2 486.4 627.0 488.9 625.8 493.6 623.3 497.4 619.8 499.9 615.4 500.9Z" fill="#f9e100" fill-rule="evenodd"/><path d="M616.6 499.9 613.4 499.6 610.9 497.9 608.6 494.6 607.5 490.9 607.8 487.9 609.4 484.9 611.6 483.1 614.6 482.2 618.1 482.5 621.6 484.1 624.6 486.6 625.5 488.9 624.9 492.9 622.9 496.4 620.1 498.7 616.6 499.9Z" fill="#ffb400" fill-rule="evenodd"/><path d="M616.9 498.9 614.1 498.8 611.9 497.6 609.6 494.9 608.4 491.5 608.4 488.6 609.4 486.1 611.4 484.2 613.9 483.2 616.9 483.2 619.9 484.3 622.9 486.6 624.1 488.9 623.9 492.1 622.4 495.4 619.9 497.8 616.9 498.9Z" fill="#ff7d00" fill-rule="evenodd"/><path d="M617.1 497.9 614.6 497.9 612.6 497.0 610.6 494.9 609.3 492.1 609.0 489.6 609.7 487.1 611.1 485.4 613.4 484.2 616.1 484.1 618.9 485.0 621.4 486.9 622.8 489.1 622.7 491.9 621.6 494.6 619.6 496.8 617.1 497.9Z" fill="#ff4100" fill-rule="evenodd"/><path d="M616.9 496.9 614.9 497.0 612.9 496.0 611.1 494.2 610.0 491.9 609.8 489.6 610.3 487.6 611.6 486.0 613.4 485.1 615.6 485.0 618.1 485.8 620.2 487.4 621.4 489.4 621.6 491.6 620.7 494.1 619.1 495.9 616.9 496.9Z" fill="#ff1400" fill-rule="evenodd"/><path d="M616.6 495.9 614.9 495.9 613.4 495.2 611.9 493.8 610.8 491.9 610.5 490.1 610.9 488.4 611.9 486.9 613.4 486.1 615.4 485.9 617.4 486.6 619.1 487.9 620.1 489.6 620.4 491.6 619.7 493.6 618.4 495.1 616.6 495.9Z" fill="#f50000" fill-rule="evenodd"/></g></g>
<line x1="632.2" y1="404.5" x2="632.2" y2="547.2" stroke="#222" stroke-width="1.1"/>
<line x1="540.6" y1="475.5" x2="682.5" y2="475.5" stroke="#222" stroke-width="1.1"/>
<text x="544.7" y="415.4" font-size="9.6" fill="#1a1a1a" letter-spacing="0.35">Q1</text>
<text x="544.7" y="427.1" font-size="9.6" fill="#1a1a1a" letter-spacing="0.35">5.05%</text>
<text x="653.7" y="415.4" font-size="9.6" fill="#1a1a1a" letter-spacing="0.35">Q2</text>
<text x="653.7" y="427.1" font-size="9.6" fill="#1a1a1a" letter-spacing="0.35">8.49%</text>
<text x="544.7" y="529" font-size="9.6" fill="#1a1a1a" letter-spacing="0.35">Q4</text>
<text x="544.7" y="541.3" font-size="9.6" fill="#1a1a1a" letter-spacing="0.35">66.4%</text>
<text x="653.7" y="529" font-size="9.6" fill="#1a1a1a" letter-spacing="0.35">Q3</text>
<text x="653.7" y="541.3" font-size="9.6" fill="#1a1a1a" letter-spacing="0.35">20.0%</text>
<line x1="549.8" y1="547.2" x2="549.8" y2="551" stroke="#222" stroke-width="1.4"/>
<line x1="573.6" y1="547.2" x2="573.6" y2="551" stroke="#222" stroke-width="1.4"/>
<line x1="596.4" y1="547.2" x2="596.4" y2="551" stroke="#222" stroke-width="1.4"/>
<line x1="635.4" y1="547.2" x2="635.4" y2="551" stroke="#222" stroke-width="1.4"/>
<line x1="670.6" y1="547.2" x2="670.6" y2="551" stroke="#222" stroke-width="1.4"/>
<line x1="555.75" y1="547.2" x2="555.75" y2="549.2" stroke="#444" stroke-width="0.9"/>
<line x1="560.51" y1="547.2" x2="560.51" y2="549.2" stroke="#444" stroke-width="0.9"/>
<line x1="564.08" y1="547.2" x2="564.08" y2="549.2" stroke="#444" stroke-width="0.9"/>
<line x1="566.94" y1="547.2" x2="566.94" y2="549.2" stroke="#444" stroke-width="0.9"/>
<line x1="569.32" y1="547.2" x2="569.32" y2="549.2" stroke="#444" stroke-width="0.9"/>
<line x1="571.22" y1="547.2" x2="571.22" y2="549.2" stroke="#444" stroke-width="0.9"/>
<line x1="575.88" y1="547.2" x2="575.88" y2="549.2" stroke="#444" stroke-width="0.9"/>
<line x1="577.7" y1="547.2" x2="577.7" y2="549.2" stroke="#444" stroke-width="0.9"/>
<line x1="579.98" y1="547.2" x2="579.98" y2="549.2" stroke="#444" stroke-width="0.9"/>
<line x1="582.72" y1="547.2" x2="582.72" y2="549.2" stroke="#444" stroke-width="0.9"/>
<line x1="586.14" y1="547.2" x2="586.14" y2="549.2" stroke="#444" stroke-width="0.9"/>
<line x1="590.7" y1="547.2" x2="590.7" y2="549.2" stroke="#444" stroke-width="0.9"/>
<line x1="608.14" y1="547.2" x2="608.14" y2="549.2" stroke="#444" stroke-width="0.9"/>
<line x1="615.01" y1="547.2" x2="615.01" y2="549.2" stroke="#444" stroke-width="0.9"/>
<line x1="619.88" y1="547.2" x2="619.88" y2="549.2" stroke="#444" stroke-width="0.9"/>
<line x1="623.66" y1="547.2" x2="623.66" y2="549.2" stroke="#444" stroke-width="0.9"/>
<line x1="626.75" y1="547.2" x2="626.75" y2="549.2" stroke="#444" stroke-width="0.9"/>
<line x1="629.36" y1="547.2" x2="629.36" y2="549.2" stroke="#444" stroke-width="0.9"/>
<line x1="631.62" y1="547.2" x2="631.62" y2="549.2" stroke="#444" stroke-width="0.9"/>
<line x1="633.62" y1="547.2" x2="633.62" y2="549.2" stroke="#444" stroke-width="0.9"/>
<line x1="646" y1="547.2" x2="646" y2="549.2" stroke="#444" stroke-width="0.9"/>
<line x1="652.19" y1="547.2" x2="652.19" y2="549.2" stroke="#444" stroke-width="0.9"/>
<line x1="656.59" y1="547.2" x2="656.59" y2="549.2" stroke="#444" stroke-width="0.9"/>
<line x1="660" y1="547.2" x2="660" y2="549.2" stroke="#444" stroke-width="0.9"/>
<line x1="662.79" y1="547.2" x2="662.79" y2="549.2" stroke="#444" stroke-width="0.9"/>
<line x1="665.15" y1="547.2" x2="665.15" y2="549.2" stroke="#444" stroke-width="0.9"/>
<line x1="667.19" y1="547.2" x2="667.19" y2="549.2" stroke="#444" stroke-width="0.9"/>
<line x1="668.99" y1="547.2" x2="668.99" y2="549.2" stroke="#444" stroke-width="0.9"/>
<line x1="681.2" y1="547.2" x2="681.2" y2="549.2" stroke="#444" stroke-width="0.9"/>
<rect x="569.4" y="547.4" width="6.4" height="3" fill="#111"/>
<text x="545.9" y="559.8" font-size="9.6" fill="#1a1a1a">-10<tspan font-size="6.34" dx="0.5" dy="-3.46">3</tspan></text>
<text x="574.6" y="559.8" font-size="9.6" text-anchor="middle" fill="#1a1a1a">0</text>
<text x="593.8" y="559.8" font-size="9.6" fill="#1a1a1a">10<tspan font-size="6.34" dx="0.5" dy="-3.46">3</tspan></text>
<text x="632.8" y="559.8" font-size="9.6" fill="#1a1a1a">10<tspan font-size="6.34" dx="0.5" dy="-3.46">4</tspan></text>
<text x="668" y="559.8" font-size="9.6" fill="#1a1a1a">10<tspan font-size="6.34" dx="0.5" dy="-3.46">5</tspan></text>
<line x1="536.6" y1="415.4" x2="540.6" y2="415.4" stroke="#222" stroke-width="1.4"/>
<line x1="536.6" y1="443.7" x2="540.6" y2="443.7" stroke="#222" stroke-width="1.4"/>
<line x1="536.6" y1="475.7" x2="540.6" y2="475.7" stroke="#222" stroke-width="1.4"/>
<line x1="536.6" y1="495.4" x2="540.6" y2="495.4" stroke="#222" stroke-width="1.4"/>
<line x1="536.6" y1="513.5" x2="540.6" y2="513.5" stroke="#222" stroke-width="1.4"/>
<line x1="536.6" y1="545.2" x2="540.6" y2="545.2" stroke="#222" stroke-width="1.4"/>
<line x1="538.6" y1="435.18" x2="540.6" y2="435.18" stroke="#444" stroke-width="0.9"/>
<line x1="538.6" y1="430.2" x2="540.6" y2="430.2" stroke="#444" stroke-width="0.9"/>
<line x1="538.6" y1="426.66" x2="540.6" y2="426.66" stroke="#444" stroke-width="0.9"/>
<line x1="538.6" y1="423.92" x2="540.6" y2="423.92" stroke="#444" stroke-width="0.9"/>
<line x1="538.6" y1="421.68" x2="540.6" y2="421.68" stroke="#444" stroke-width="0.9"/>
<line x1="538.6" y1="419.78" x2="540.6" y2="419.78" stroke="#444" stroke-width="0.9"/>
<line x1="538.6" y1="418.14" x2="540.6" y2="418.14" stroke="#444" stroke-width="0.9"/>
<line x1="538.6" y1="416.69" x2="540.6" y2="416.69" stroke="#444" stroke-width="0.9"/>
<line x1="538.6" y1="466.07" x2="540.6" y2="466.07" stroke="#444" stroke-width="0.9"/>
<line x1="538.6" y1="460.43" x2="540.6" y2="460.43" stroke="#444" stroke-width="0.9"/>
<line x1="538.6" y1="456.43" x2="540.6" y2="456.43" stroke="#444" stroke-width="0.9"/>
<line x1="538.6" y1="453.33" x2="540.6" y2="453.33" stroke="#444" stroke-width="0.9"/>
<line x1="538.6" y1="450.8" x2="540.6" y2="450.8" stroke="#444" stroke-width="0.9"/>
<line x1="538.6" y1="448.66" x2="540.6" y2="448.66" stroke="#444" stroke-width="0.9"/>
<line x1="538.6" y1="446.8" x2="540.6" y2="446.8" stroke="#444" stroke-width="0.9"/>
<line x1="538.6" y1="445.16" x2="540.6" y2="445.16" stroke="#444" stroke-width="0.9"/>
<line x1="538.6" y1="493.43" x2="540.6" y2="493.43" stroke="#444" stroke-width="0.9"/>
<line x1="538.6" y1="491.46" x2="540.6" y2="491.46" stroke="#444" stroke-width="0.9"/>
<line x1="538.6" y1="489.1" x2="540.6" y2="489.1" stroke="#444" stroke-width="0.9"/>
<line x1="538.6" y1="486.53" x2="540.6" y2="486.53" stroke="#444" stroke-width="0.9"/>
<line x1="538.6" y1="483.58" x2="540.6" y2="483.58" stroke="#444" stroke-width="0.9"/>
<line x1="538.6" y1="480.03" x2="540.6" y2="480.03" stroke="#444" stroke-width="0.9"/>
<line x1="538.6" y1="497.21" x2="540.6" y2="497.21" stroke="#444" stroke-width="0.9"/>
<line x1="538.6" y1="499.02" x2="540.6" y2="499.02" stroke="#444" stroke-width="0.9"/>
<line x1="538.6" y1="501.19" x2="540.6" y2="501.19" stroke="#444" stroke-width="0.9"/>
<line x1="538.6" y1="503.54" x2="540.6" y2="503.54" stroke="#444" stroke-width="0.9"/>
<line x1="538.6" y1="506.26" x2="540.6" y2="506.26" stroke="#444" stroke-width="0.9"/>
<line x1="538.6" y1="509.52" x2="540.6" y2="509.52" stroke="#444" stroke-width="0.9"/>
<line x1="538.6" y1="535.66" x2="540.6" y2="535.66" stroke="#444" stroke-width="0.9"/>
<line x1="538.6" y1="530.08" x2="540.6" y2="530.08" stroke="#444" stroke-width="0.9"/>
<line x1="538.6" y1="526.11" x2="540.6" y2="526.11" stroke="#444" stroke-width="0.9"/>
<line x1="538.6" y1="523.04" x2="540.6" y2="523.04" stroke="#444" stroke-width="0.9"/>
<line x1="538.6" y1="520.53" x2="540.6" y2="520.53" stroke="#444" stroke-width="0.9"/>
<line x1="538.6" y1="518.41" x2="540.6" y2="518.41" stroke="#444" stroke-width="0.9"/>
<line x1="538.6" y1="516.57" x2="540.6" y2="516.57" stroke="#444" stroke-width="0.9"/>
<line x1="538.6" y1="514.95" x2="540.6" y2="514.95" stroke="#444" stroke-width="0.9"/>
<line x1="538.6" y1="406.88" x2="540.6" y2="406.88" stroke="#444" stroke-width="0.9"/>
<rect x="537.2" y="492.6" width="3.2" height="5.6" fill="#111"/>
<text x="520.13" y="418.8" font-size="9.6" fill="#1a1a1a">10<tspan font-size="6.34" dx="0.5" dy="-3.46">5</tspan></text>
<text x="520.13" y="447.1" font-size="9.6" fill="#1a1a1a">10<tspan font-size="6.34" dx="0.5" dy="-3.46">4</tspan></text>
<text x="520.13" y="479.1" font-size="9.6" fill="#1a1a1a">10<tspan font-size="6.34" dx="0.5" dy="-3.46">3</tspan></text>
<text x="526" y="498.8" font-size="9.6" text-anchor="middle" fill="#1a1a1a">0</text>
<text x="516.94" y="516.9" font-size="9.6" fill="#1a1a1a">-10<tspan font-size="6.34" dx="0.5" dy="-3.46">3</tspan></text>
<text x="516.94" y="548.6" font-size="9.6" fill="#1a1a1a">-10<tspan font-size="6.34" dx="0.5" dy="-3.46">4</tspan></text>
<line x1="14.9" y1="179.8" x2="481" y2="179.8" stroke="#4a4040" stroke-width="1.7"/>
<path d="M475.6 175.4 L481.2 179.8 L475.6 184.2" fill="none" stroke="#4a4040" stroke-width="1.5"/>
<line x1="14.9" y1="384" x2="481" y2="384" stroke="#4a4040" stroke-width="1.7"/>
<path d="M475.6 379.6 L481.2 384 L475.6 388.4" fill="none" stroke="#4a4040" stroke-width="1.5"/>
<line x1="14.9" y1="566.5" x2="481" y2="566.5" stroke="#4a4040" stroke-width="1.7"/>
<path d="M475.6 562.1 L481.2 566.5 L475.6 570.9" fill="none" stroke="#4a4040" stroke-width="1.5"/>
<text x="268" y="196.9" font-size="13" text-anchor="middle" fill="#1a1a1a">Annexin V-FITC</text>
<text x="611" y="197.8" font-size="13" text-anchor="middle" fill="#1a1a1a">Annexin V-FITC</text>
<text x="268" y="580.8" font-size="13" text-anchor="middle" fill="#1a1a1a">Annexin V-FITC</text>
<text x="611" y="580.2" font-size="13" text-anchor="middle" fill="#1a1a1a">Annexin V-FITC</text>
<text x="266.8" y="398.6" font-size="13" text-anchor="middle" fill="#1a1a1a">MERVL::tdTomato</text>
<text x="610.3" y="398.6" font-size="13" text-anchor="middle" fill="#1a1a1a">MERVL::tdTomato</text>
<text transform="translate(9.4 97) rotate(-90)" font-size="12.6" text-anchor="middle" fill="#1a1a1a">7-AAD</text>
<text transform="translate(514.4 93) rotate(-90)" font-size="12.6" text-anchor="middle" fill="#1a1a1a">7-AAD</text>
<text transform="translate(10.4 296.4) rotate(-90)" font-size="12.6" text-anchor="middle" fill="#1a1a1a">SSC-A</text>
<text transform="translate(514.2 293.7) rotate(-90)" font-size="12.6" text-anchor="middle" fill="#1a1a1a">SSC-A</text>
<text transform="translate(9.4 478) rotate(-90)" font-size="12.6" text-anchor="middle" fill="#1a1a1a">7-AAD</text>
<text transform="translate(514.4 477.5) rotate(-90)" font-size="12.6" text-anchor="middle" fill="#1a1a1a">7-AAD</text>
<text x="9.4" y="684.6" font-size="12" font-weight="bold" fill="#000">e</text>
<rect x="75.7" y="853.98" width="5.8" height="2.82" fill="#111"/>
<line x1="78.6" y1="856.8" x2="78.6" y2="863.3" stroke="#111" stroke-width="1.3"/>
<text transform="translate(81.4 871.1) rotate(-45)" font-size="12.7" text-anchor="end" fill="#1a1a1a">Vehicle</text>
<rect x="89.8" y="724.97" width="10.2" height="131.83" fill="#a9a9a9"/>
<line x1="94.9" y1="720.44" x2="94.9" y2="729.5" stroke="#111" stroke-width="1.2"/>
<line x1="91.9" y1="720.44" x2="97.9" y2="720.44" stroke="#111" stroke-width="1.2"/>
<line x1="91.9" y1="729.5" x2="97.9" y2="729.5" stroke="#111" stroke-width="1.2"/>
<line x1="94.9" y1="856.8" x2="94.9" y2="863.3" stroke="#111" stroke-width="1.3"/>
<text transform="translate(97.7 871.1) rotate(-45)" font-size="12.7" text-anchor="end" fill="#1a1a1a">Dox</text>
<rect x="105.3" y="770.26" width="10.2" height="86.54" fill="#a9a9a9"/>
<line x1="110.4" y1="763.47" x2="110.4" y2="777.06" stroke="#111" stroke-width="1.2"/>
<line x1="107.4" y1="763.47" x2="113.4" y2="763.47" stroke="#111" stroke-width="1.2"/>
<line x1="107.4" y1="777.06" x2="113.4" y2="777.06" stroke="#111" stroke-width="1.2"/>
<line x1="110.4" y1="856.8" x2="110.4" y2="863.3" stroke="#111" stroke-width="1.3"/>
<text transform="translate(113.2 871.1) rotate(-45)" font-size="12.7" text-anchor="end" fill="#1a1a1a">PlaB</text>
<rect x="121.1" y="818.63" width="10.2" height="38.17" fill="#a9a9a9"/>
<line x1="126.2" y1="817.82" x2="126.2" y2="819.44" stroke="#111" stroke-width="1.2"/>
<line x1="123.2" y1="817.82" x2="129.2" y2="817.82" stroke="#111" stroke-width="1.2"/>
<line x1="123.2" y1="819.44" x2="129.2" y2="819.44" stroke="#111" stroke-width="1.2"/>
<line x1="126.2" y1="856.8" x2="126.2" y2="863.3" stroke="#111" stroke-width="1.3"/>
<text transform="translate(129 871.1) rotate(-45)" font-size="12.7" text-anchor="end" fill="#1a1a1a">TSA</text>
<rect x="149.05" y="854.79" width="5.8" height="2.01" fill="#111"/>
<line x1="151.95" y1="856.8" x2="151.95" y2="863.3" stroke="#111" stroke-width="1.3"/>
<text transform="translate(154.75 871.1) rotate(-45)" font-size="12.7" text-anchor="end" fill="#1a1a1a">Vehicle</text>
<rect x="163.15" y="750.37" width="10.2" height="106.43" fill="#f7ab4a"/>
<line x1="168.25" y1="748.75" x2="168.25" y2="751.99" stroke="#111" stroke-width="1.2"/>
<line x1="165.25" y1="748.75" x2="171.25" y2="748.75" stroke="#111" stroke-width="1.2"/>
<line x1="165.25" y1="751.99" x2="171.25" y2="751.99" stroke="#111" stroke-width="1.2"/>
<line x1="168.25" y1="856.8" x2="168.25" y2="863.3" stroke="#111" stroke-width="1.3"/>
<text transform="translate(171.05 871.1) rotate(-45)" font-size="12.7" text-anchor="end" fill="#1a1a1a">Dox</text>
<rect x="178.65" y="849.04" width="10.2" height="7.76" fill="#f7ab4a"/>
<line x1="183.75" y1="848.55" x2="183.75" y2="849.52" stroke="#111" stroke-width="1.2"/>
<line x1="180.75" y1="848.55" x2="186.75" y2="848.55" stroke="#111" stroke-width="1.2"/>
<line x1="180.75" y1="849.52" x2="186.75" y2="849.52" stroke="#111" stroke-width="1.2"/>
<line x1="183.75" y1="856.8" x2="183.75" y2="863.3" stroke="#111" stroke-width="1.3"/>
<text transform="translate(186.55 871.1) rotate(-45)" font-size="12.7" text-anchor="end" fill="#1a1a1a">PlaB</text>
<rect x="194.45" y="851.95" width="10.2" height="4.85" fill="#f7ab4a"/>
<line x1="199.55" y1="851.46" x2="199.55" y2="852.43" stroke="#111" stroke-width="1.2"/>
<line x1="196.55" y1="851.46" x2="202.55" y2="851.46" stroke="#111" stroke-width="1.2"/>
<line x1="196.55" y1="852.43" x2="202.55" y2="852.43" stroke="#111" stroke-width="1.2"/>
<line x1="199.55" y1="856.8" x2="199.55" y2="863.3" stroke="#111" stroke-width="1.3"/>
<text transform="translate(202.35 871.1) rotate(-45)" font-size="12.7" text-anchor="end" fill="#1a1a1a">TSA</text>
<rect x="222.4" y="854.79" width="5.8" height="2.01" fill="#111"/>
<line x1="225.3" y1="856.8" x2="225.3" y2="863.3" stroke="#111" stroke-width="1.3"/>
<text transform="translate(228.1 871.1) rotate(-45)" font-size="12.7" text-anchor="end" fill="#1a1a1a">Vehicle</text>
<rect x="236.5" y="736.46" width="10.2" height="120.34" fill="#00aceb"/>
<line x1="241.6" y1="732.25" x2="241.6" y2="740.66" stroke="#111" stroke-width="1.2"/>
<line x1="238.6" y1="732.25" x2="244.6" y2="732.25" stroke="#111" stroke-width="1.2"/>
<line x1="238.6" y1="740.66" x2="244.6" y2="740.66" stroke="#111" stroke-width="1.2"/>
<line x1="241.6" y1="856.8" x2="241.6" y2="863.3" stroke="#111" stroke-width="1.3"/>
<text transform="translate(244.4 871.1) rotate(-45)" font-size="12.7" text-anchor="end" fill="#1a1a1a">Dox</text>
<rect x="252" y="835.13" width="10.2" height="21.67" fill="#00aceb"/>
<line x1="257.1" y1="834.64" x2="257.1" y2="835.61" stroke="#111" stroke-width="1.2"/>
<line x1="254.1" y1="834.64" x2="260.1" y2="834.64" stroke="#111" stroke-width="1.2"/>
<line x1="254.1" y1="835.61" x2="260.1" y2="835.61" stroke="#111" stroke-width="1.2"/>
<line x1="257.1" y1="856.8" x2="257.1" y2="863.3" stroke="#111" stroke-width="1.3"/>
<text transform="translate(259.9 871.1) rotate(-45)" font-size="12.7" text-anchor="end" fill="#1a1a1a">PlaB</text>
<rect x="267.8" y="852.27" width="10.2" height="4.53" fill="#00aceb"/>
<line x1="272.9" y1="851.79" x2="272.9" y2="852.76" stroke="#111" stroke-width="1.2"/>
<line x1="269.9" y1="851.79" x2="275.9" y2="851.79" stroke="#111" stroke-width="1.2"/>
<line x1="269.9" y1="852.76" x2="275.9" y2="852.76" stroke="#111" stroke-width="1.2"/>
<line x1="272.9" y1="856.8" x2="272.9" y2="863.3" stroke="#111" stroke-width="1.3"/>
<text transform="translate(275.7 871.1) rotate(-45)" font-size="12.7" text-anchor="end" fill="#1a1a1a">TSA</text>
<rect x="295.75" y="854.79" width="5.8" height="2.01" fill="#111"/>
<line x1="298.65" y1="856.8" x2="298.65" y2="863.3" stroke="#111" stroke-width="1.3"/>
<text transform="translate(301.45 871.1) rotate(-45)" font-size="12.7" text-anchor="end" fill="#1a1a1a">Vehicle</text>
<rect x="309.85" y="737.43" width="10.2" height="119.37" fill="#9cc733"/>
<line x1="314.95" y1="729.02" x2="314.95" y2="745.84" stroke="#111" stroke-width="1.2"/>
<line x1="311.95" y1="729.02" x2="317.95" y2="729.02" stroke="#111" stroke-width="1.2"/>
<line x1="311.95" y1="745.84" x2="317.95" y2="745.84" stroke="#111" stroke-width="1.2"/>
<line x1="314.95" y1="856.8" x2="314.95" y2="863.3" stroke="#111" stroke-width="1.3"/>
<text transform="translate(317.75 871.1) rotate(-45)" font-size="12.7" text-anchor="end" fill="#1a1a1a">Dox</text>
<rect x="325.35" y="834.15" width="10.2" height="22.64" fill="#9cc733"/>
<line x1="330.45" y1="833.67" x2="330.45" y2="834.64" stroke="#111" stroke-width="1.2"/>
<line x1="327.45" y1="833.67" x2="333.45" y2="833.67" stroke="#111" stroke-width="1.2"/>
<line x1="327.45" y1="834.64" x2="333.45" y2="834.64" stroke="#111" stroke-width="1.2"/>
<line x1="330.45" y1="856.8" x2="330.45" y2="863.3" stroke="#111" stroke-width="1.3"/>
<text transform="translate(333.25 871.1) rotate(-45)" font-size="12.7" text-anchor="end" fill="#1a1a1a">PlaB</text>
<rect x="341.15" y="849.36" width="10.2" height="7.44" fill="#9cc733"/>
<line x1="346.25" y1="847.9" x2="346.25" y2="850.82" stroke="#111" stroke-width="1.2"/>
<line x1="343.25" y1="847.9" x2="349.25" y2="847.9" stroke="#111" stroke-width="1.2"/>
<line x1="343.25" y1="850.82" x2="349.25" y2="850.82" stroke="#111" stroke-width="1.2"/>
<line x1="346.25" y1="856.8" x2="346.25" y2="863.3" stroke="#111" stroke-width="1.3"/>
<text transform="translate(349.05 871.1) rotate(-45)" font-size="12.7" text-anchor="end" fill="#1a1a1a">TSA</text>
<line x1="68.6" y1="694.8" x2="68.6" y2="856.8" stroke="#111" stroke-width="1.4"/>
<line x1="61.5" y1="856.8" x2="357" y2="856.8" stroke="#111" stroke-width="1.5"/>
<line x1="61.5" y1="856.8" x2="68.6" y2="856.8" stroke="#111" stroke-width="1.3"/>
<text x="58.6" y="861" font-size="12.3" text-anchor="end" fill="#1a1a1a">0</text>
<line x1="61.5" y1="824.45" x2="68.6" y2="824.45" stroke="#111" stroke-width="1.3"/>
<text x="58.6" y="828.65" font-size="12.3" text-anchor="end" fill="#1a1a1a">20</text>
<line x1="61.5" y1="792.1" x2="68.6" y2="792.1" stroke="#111" stroke-width="1.3"/>
<text x="58.6" y="796.3" font-size="12.3" text-anchor="end" fill="#1a1a1a">40</text>
<line x1="61.5" y1="759.75" x2="68.6" y2="759.75" stroke="#111" stroke-width="1.3"/>
<text x="58.6" y="763.95" font-size="12.3" text-anchor="end" fill="#1a1a1a">60</text>
<line x1="61.5" y1="727.4" x2="68.6" y2="727.4" stroke="#111" stroke-width="1.3"/>
<text x="58.6" y="731.6" font-size="12.3" text-anchor="end" fill="#1a1a1a">80</text>
<line x1="61.5" y1="695.05" x2="68.6" y2="695.05" stroke="#111" stroke-width="1.3"/>
<text x="58.6" y="699.25" font-size="12.3" text-anchor="end" fill="#1a1a1a">100</text>
<line x1="94.3" y1="717.6" x2="109.5" y2="717.6" stroke="#555" stroke-width="1.5"/>
<text x="101.9" y="717.2" font-size="12.6" text-anchor="middle" fill="#555">****</text>
<line x1="94.3" y1="704.5" x2="124.4" y2="704.5" stroke="#555" stroke-width="1.5"/>
<text x="109.35" y="704.1" font-size="12.6" text-anchor="middle" fill="#555">****</text>
<line x1="170.1" y1="740.7" x2="184.6" y2="740.7" stroke="#555" stroke-width="1.5"/>
<text x="177.35" y="740.3" font-size="12.6" text-anchor="middle" fill="#555">****</text>
<line x1="172.5" y1="728.3" x2="200.4" y2="728.3" stroke="#555" stroke-width="1.5"/>
<text x="186.45" y="727.9" font-size="12.6" text-anchor="middle" fill="#555">****</text>
<line x1="242.3" y1="729.7" x2="256.8" y2="729.7" stroke="#555" stroke-width="1.5"/>
<text x="249.55" y="729.3" font-size="12.6" text-anchor="middle" fill="#555">****</text>
<line x1="241.7" y1="716.6" x2="271.6" y2="716.6" stroke="#555" stroke-width="1.5"/>
<text x="256.65" y="716.2" font-size="12.6" text-anchor="middle" fill="#555">****</text>
<line x1="314.5" y1="725" x2="329" y2="725" stroke="#555" stroke-width="1.5"/>
<text x="321.75" y="724.6" font-size="12.6" text-anchor="middle" fill="#555">****</text>
<line x1="314.5" y1="711.5" x2="344.1" y2="711.5" stroke="#555" stroke-width="1.5"/>
<text x="329.3" y="711.1" font-size="12.6" text-anchor="middle" fill="#555">****</text>
<rect x="92" y="665.5" width="19.6" height="10" fill="#a9a9a9"/>
<text x="115.8" y="674.6" font-size="12.4" font-style="italic" fill="#1a1a1a">Dux</text>
<rect x="140.6" y="665.5" width="19.6" height="10" fill="#f7ab4a"/>
<text x="164.4" y="674.6" font-size="12.4" font-style="italic" fill="#1a1a1a">Zscan4</text>
<rect x="205.3" y="665.5" width="19.6" height="10" fill="#00aceb"/>
<text x="229.1" y="674.6" font-size="12.4" font-style="italic" fill="#1a1a1a">Zfp352</text>
<rect x="270.5" y="665.5" width="19.6" height="10" fill="#9cc733"/>
<text x="294.3" y="674.6" font-size="12.4" fill="#1a1a1a">MERVL</text>
<text transform="translate(26.6 780) rotate(-90)" font-size="12.3" text-anchor="middle" fill="#1a1a1a">Relative expression</text>
<text transform="translate(40.2 777.7) rotate(-90)" font-size="12.3" text-anchor="middle" fill="#1a1a1a">(<tspan font-style="italic">Gene/Gapdh</tspan>)</text>
<text x="380.8" y="597.3" font-size="12" font-weight="bold" fill="#000">f</text>
<text x="441.6" y="602.6" font-size="12.3" text-anchor="middle" fill="#1a1a1a">Wt</text>
<text x="526.5" y="602.8" font-size="12.9" text-anchor="middle" fill="#1a1a1a">L13</text>
<text x="615.8" y="602.8" font-size="12.9" text-anchor="middle" fill="#1a1a1a">L19</text>
<text x="659.8" y="655.3" font-size="12.9" fill="#1a1a1a">PlaB</text>
<text x="659.6" y="736" font-size="12.9" fill="#1a1a1a">TSA</text>
<defs><filter id="pb" x="-40%" y="-40%" width="180%" height="180%" color-interpolation-filters="sRGB"><feTurbulence type="fractalNoise" baseFrequency="0.35" numOctaves="2" seed="4" result="t"/><feDisplacementMap in="SourceGraphic" in2="t" scale="5" xChannelSelector="R" yChannelSelector="G" result="d"/><feGaussianBlur in="d" stdDeviation="1.5"/></filter><filter id="cdisp" x="-20%" y="-20%" width="140%" height="140%" color-interpolation-filters="sRGB"><feTurbulence type="fractalNoise" baseFrequency="0.45" numOctaves="2" seed="9" result="t"/><feDisplacementMap in="SourceGraphic" in2="t" scale="3.5" xChannelSelector="R" yChannelSelector="G" result="d"/><feGaussianBlur in="d" stdDeviation="0.55"/></filter><radialGradient id="wtbg" cx="0.5" cy="0.46" r="0.75"><stop offset="0" stop-color="#55293a"/><stop offset="0.35" stop-color="#5b2d3c"/><stop offset="0.6" stop-color="#6e3c43"/><stop offset="0.82" stop-color="#8e5854"/><stop offset="1" stop-color="#a87064"/></radialGradient><clipPath id="ic00"><rect x="397.0" y="607.0" width="84.0" height="83.6"/></clipPath><filter id="grw" x="0" y="0" width="1" height="1" color-interpolation-filters="sRGB"><feTurbulence type="fractalNoise" baseFrequency="0.6" numOctaves="2" seed="5" result="n1"/><feColorMatrix in="n1" type="matrix" values="0 0 0 0 0.588 0 0 0 0 0.373 0 0 0 0 0.353 2.60 0 0 0 -1.00" result="c1"/><feColorMatrix in="n1" type="matrix" values="0 0 0 0 0.275 0 0 0 0 0.118 0 0 0 0 0.176 0 -2.60 0 0 0.90" result="c2"/><feMerge><feMergeNode in="c1"/><feMergeNode in="c2"/></feMerge><feGaussianBlur stdDeviation="0.35"/></filter><filter id="grc" x="0" y="0" width="1" height="1" color-interpolation-filters="sRGB"><feTurbulence type="fractalNoise" baseFrequency="0.7" numOctaves="2" seed="11" result="n1"/><feColorMatrix in="n1" type="matrix" values="0 0 0 0 0.784 0 0 0 0 0.549 0 0 0 0 0.373 3.00 0 0 0 -0.90" result="c1"/><feColorMatrix in="n1" type="matrix" values="0 0 0 0 0.549 0 0 0 0 0.333 0 0 0 0 0.275 0 -3.00 0 0 1.00" result="c2"/><feMerge><feMergeNode in="c1"/><feMergeNode in="c2"/></feMerge><feGaussianBlur stdDeviation="0.35"/></filter><clipPath id="colc"><ellipse cx="430.5" cy="635.5" rx="5.0" ry="3.6" transform="rotate(20 430.5 635.5)"/><ellipse cx="458.1" cy="637.5" rx="3.8" ry="3.8" transform="rotate(0 458.1 637.5)"/><ellipse cx="439.7" cy="643.4" rx="3.2" ry="3.8" transform="rotate(-20 439.7 643.4)"/><ellipse cx="430.5" cy="646.0" rx="3.2" ry="3.2" transform="rotate(0 430.5 646.0)"/><ellipse cx="410.8" cy="648.7" rx="3.2" ry="2.9" transform="rotate(0 410.8 648.7)"/><ellipse cx="445.0" cy="651.3" rx="2.9" ry="2.5" transform="rotate(0 445.0 651.3)"/><ellipse cx="436.4" cy="653.3" rx="2.7" ry="2.5" transform="rotate(0 436.4 653.3)"/><ellipse cx="454.1" cy="655.2" rx="2.6" ry="2.6" transform="rotate(0 454.1 655.2)"/><ellipse cx="463.3" cy="660.5" rx="2.7" ry="3.8" transform="rotate(0 463.3 660.5)"/><ellipse cx="441.0" cy="665.8" rx="3.2" ry="4.8" transform="rotate(-30 441.0 665.8)"/><ellipse cx="420.0" cy="663.8" rx="3.2" ry="3.2" transform="rotate(0 420.0 663.8)"/><ellipse cx="427.2" cy="661.8" rx="2.6" ry="2.6" transform="rotate(0 427.2 661.8)"/><ellipse cx="405.5" cy="669.7" rx="4.2" ry="3.4" transform="rotate(10 405.5 669.7)"/><ellipse cx="421.3" cy="680.2" rx="4.0" ry="3.6" transform="rotate(0 421.3 680.2)"/><ellipse cx="451.5" cy="681.5" rx="4.2" ry="3.2" transform="rotate(0 451.5 681.5)"/><ellipse cx="408.1" cy="680.2" rx="2.6" ry="2.6" transform="rotate(0 408.1 680.2)"/><ellipse cx="426.5" cy="623.7" rx="3.8" ry="3.2" transform="rotate(0 426.5 623.7)"/><ellipse cx="434.4" cy="618.5" rx="4.6" ry="2.7" transform="rotate(10 434.4 618.5)"/><ellipse cx="423.3" cy="617.1" rx="3.2" ry="2.7" transform="rotate(0 423.3 617.1)"/><ellipse cx="445.0" cy="625.0" rx="3.2" ry="3.2" transform="rotate(0 445.0 625.0)"/><ellipse cx="455.4" cy="613.2" rx="4.2" ry="3.6" transform="rotate(0 455.4 613.2)"/><ellipse cx="468.6" cy="613.2" rx="3.2" ry="2.9" transform="rotate(0 468.6 613.2)"/><ellipse cx="476.5" cy="618.5" rx="3.2" ry="3.4" transform="rotate(0 476.5 618.5)"/><ellipse cx="473.8" cy="625.0" rx="2.6" ry="2.6" transform="rotate(0 473.8 625.0)"/><ellipse cx="469.2" cy="636.9" rx="2.6" ry="2.6" transform="rotate(0 469.2 636.9)"/><ellipse cx="477.8" cy="652.6" rx="3.2" ry="3.6" transform="rotate(0 477.8 652.6)"/><ellipse cx="473.8" cy="668.4" rx="3.2" ry="2.7" transform="rotate(0 473.8 668.4)"/><ellipse cx="466.0" cy="672.3" rx="3.2" ry="3.2" transform="rotate(0 466.0 672.3)"/><ellipse cx="458.1" cy="686.8" rx="2.6" ry="2.3" transform="rotate(0 458.1 686.8)"/><ellipse cx="437.0" cy="676.3" rx="2.6" ry="2.6" transform="rotate(0 437.0 676.3)"/><ellipse cx="412.1" cy="636.9" rx="2.1" ry="2.1" transform="rotate(0 412.1 636.9)"/><ellipse cx="414.7" cy="627.7" rx="2.1" ry="2.1" transform="rotate(0 414.7 627.7)"/><ellipse cx="399.0" cy="651.3" rx="2.6" ry="3.2" transform="rotate(0 399.0 651.3)"/><ellipse cx="401.6" cy="660.5" rx="2.1" ry="2.1" transform="rotate(0 401.6 660.5)"/><ellipse cx="404.2" cy="618.5" rx="2.6" ry="2.6" transform="rotate(0 404.2 618.5)"/><ellipse cx="400.3" cy="610.6" rx="2.6" ry="2.6" transform="rotate(0 400.3 610.6)"/><ellipse cx="427.9" cy="688.1" rx="2.1" ry="2.1" transform="rotate(0 427.9 688.1)"/><ellipse cx="438.4" cy="682.8" rx="2.1" ry="2.1" transform="rotate(0 438.4 682.8)"/><ellipse cx="460.7" cy="643.4" rx="2.1" ry="2.1" transform="rotate(0 460.7 643.4)"/><ellipse cx="449.5" cy="642.1" rx="1.7" ry="1.7" transform="rotate(0 449.5 642.1)"/><ellipse cx="417.0" cy="655.0" rx="1.6" ry="1.6" transform="rotate(0 417.0 655.0)"/><ellipse cx="462.0" cy="622.0" rx="1.7" ry="1.7" transform="rotate(0 462.0 622.0)"/><ellipse cx="479.0" cy="635.0" rx="2.1" ry="2.5" transform="rotate(0 479.0 635.0)"/><ellipse cx="468.0" cy="648.0" rx="1.6" ry="1.6" transform="rotate(0 468.0 648.0)"/></clipPath><clipPath id="ic10"><rect x="484.2" y="607.0" width="84.3" height="83.6"/></clipPath><filter id="gr10" x="0" y="0" width="1" height="1" color-interpolation-filters="sRGB"><feTurbulence type="fractalNoise" baseFrequency="0.5" numOctaves="2" seed="3" result="n1"/><feColorMatrix in="n1" type="matrix" values="0 0 0 0 0.698 0 0 0 0 0.475 0 0 0 0 0.337 2.70 0 0 0 -0.95" result="c1"/><feColorMatrix in="n1" type="matrix" values="0 0 0 0 0.424 0 0 0 0 0.235 0 0 0 0 0.306 0 -2.80 0 0 1.10" result="c2"/><feTurbulence type="fractalNoise" baseFrequency="0.13" numOctaves="2" seed="53" result="n3"/><feColorMatrix in="n3" type="matrix" values="0 0 0 0 0.314 0 0 0 0 0.149 0 0 0 0 0.204 -6.50 0 0 0 2.95" result="c3"/><feComponentTransfer in="c3" result="c3b"><feFuncA type="linear" slope="0.88" intercept="0"/></feComponentTransfer><feMerge><feMergeNode in="c1"/><feMergeNode in="c2"/><feMergeNode in="c3b"/></feMerge><feGaussianBlur stdDeviation="0.35"/></filter><clipPath id="ic20"><rect x="571.8" y="607.0" width="84.4" height="83.6"/></clipPath><filter id="gr20" x="0" y="0" width="1" height="1" color-interpolation-filters="sRGB"><feTurbulence type="fractalNoise" baseFrequency="0.5" numOctaves="2" seed="7" result="n1"/><feColorMatrix in="n1" type="matrix" values="0 0 0 0 0.698 0 0 0 0 0.475 0 0 0 0 0.337 2.70 0 0 0 -0.95" result="c1"/><feColorMatrix in="n1" type="matrix" values="0 0 0 0 0.424 0 0 0 0 0.235 0 0 0 0 0.306 0 -2.80 0 0 1.10" result="c2"/><feTurbulence type="fractalNoise" baseFrequency="0.13" numOctaves="2" seed="57" result="n3"/><feColorMatrix in="n3" type="matrix" values="0 0 0 0 0.314 0 0 0 0 0.149 0 0 0 0 0.204 -6.50 0 0 0 2.95" result="c3"/><feComponentTransfer in="c3" result="c3b"><feFuncA type="linear" slope="0.88" intercept="0"/></feComponentTransfer><feMerge><feMergeNode in="c1"/><feMergeNode in="c2"/><feMergeNode in="c3b"/></feMerge><feGaussianBlur stdDeviation="0.35"/></filter><clipPath id="ic01"><rect x="397.0" y="693.8" width="84.0" height="84.2"/></clipPath><filter id="gr01" x="0" y="0" width="1" height="1" color-interpolation-filters="sRGB"><feTurbulence type="fractalNoise" baseFrequency="0.5" numOctaves="2" seed="13" result="n1"/><feColorMatrix in="n1" type="matrix" values="0 0 0 0 0.698 0 0 0 0 0.475 0 0 0 0 0.337 2.70 0 0 0 -0.95" result="c1"/><feColorMatrix in="n1" type="matrix" values="0 0 0 0 0.424 0 0 0 0 0.235 0 0 0 0 0.306 0 -2.80 0 0 1.10" result="c2"/><feTurbulence type="fractalNoise" baseFrequency="0.13" numOctaves="2" seed="63" result="n3"/><feColorMatrix in="n3" type="matrix" values="0 0 0 0 0.314 0 0 0 0 0.149 0 0 0 0 0.204 -6.50 0 0 0 2.95" result="c3"/><feComponentTransfer in="c3" result="c3b"><feFuncA type="linear" slope="0.88" intercept="0"/></feComponentTransfer><feMerge><feMergeNode in="c1"/><feMergeNode in="c2"/><feMergeNode in="c3b"/></feMerge><feGaussianBlur stdDeviation="0.35"/></filter><clipPath id="ic11"><rect x="484.2" y="693.8" width="84.3" height="84.2"/></clipPath><filter id="gr11" x="0" y="0" width="1" height="1" color-interpolation-filters="sRGB"><feTurbulence type="fractalNoise" baseFrequency="0.5" numOctaves="2" seed="17" result="n1"/><feColorMatrix in="n1" type="matrix" values="0 0 0 0 0.698 0 0 0 0 0.475 0 0 0 0 0.337 2.70 0 0 0 -0.95" result="c1"/><feColorMatrix in="n1" type="matrix" values="0 0 0 0 0.424 0 0 0 0 0.235 0 0 0 0 0.306 0 -2.80 0 0 1.10" result="c2"/><feTurbulence type="fractalNoise" baseFrequency="0.13" numOctaves="2" seed="67" result="n3"/><feColorMatrix in="n3" type="matrix" values="0 0 0 0 0.314 0 0 0 0 0.149 0 0 0 0 0.204 -6.00 0 0 0 2.55" result="c3"/><feComponentTransfer in="c3" result="c3b"><feFuncA type="linear" slope="0.75" intercept="0"/></feComponentTransfer><feMerge><feMergeNode in="c1"/><feMergeNode in="c2"/><feMergeNode in="c3b"/></feMerge><feGaussianBlur stdDeviation="0.35"/></filter><clipPath id="ic21"><rect x="571.8" y="693.8" width="84.4" height="84.2"/></clipPath><filter id="gr21" x="0" y="0" width="1" height="1" color-interpolation-filters="sRGB"><feTurbulence type="fractalNoise" baseFrequency="0.5" numOctaves="2" seed="23" result="n1"/><feColorMatrix in="n1" type="matrix" values="0 0 0 0 0.698 0 0 0 0 0.475 0 0 0 0 0.337 2.70 0 0 0 -0.95" result="c1"/><feColorMatrix in="n1" type="matrix" values="0 0 0 0 0.424 0 0 0 0 0.235 0 0 0 0 0.306 0 -2.80 0 0 1.10" result="c2"/><feTurbulence type="fractalNoise" baseFrequency="0.2" numOctaves="2" seed="73" result="n3"/><feColorMatrix in="n3" type="matrix" values="0 0 0 0 0.314 0 0 0 0 0.149 0 0 0 0 0.204 -4.00 0 0 0 1.70" result="c3"/><feComponentTransfer in="c3" result="c3b"><feFuncA type="linear" slope="0.50" intercept="0"/></feComponentTransfer><feMerge><feMergeNode in="c1"/><feMergeNode in="c2"/><feMergeNode in="c3b"/></feMerge><feGaussianBlur stdDeviation="0.35"/></filter></defs><g clip-path="url(#ic00)">
<rect x="397.0" y="607.0" width="84.0" height="83.6" fill="url(#wtbg)"/>
<rect x="397.0" y="607.0" width="84.0" height="83.6" fill="#000" filter="url(#grw)" opacity="0.35"/>
<g filter="url(#cdisp)" opacity="0.85">
<ellipse cx="430.5" cy="635.5" rx="5.8" ry="4.1" transform="rotate(20 430.5 635.5)" fill="#ad7352"/>
<ellipse cx="458.1" cy="637.5" rx="4.3" ry="4.3" transform="rotate(0 458.1 637.5)" fill="#ad7352"/>
<ellipse cx="439.7" cy="643.4" rx="3.6" ry="4.3" transform="rotate(-20 439.7 643.4)" fill="#ad7352"/>
<ellipse cx="430.5" cy="646.0" rx="3.6" ry="3.6" transform="rotate(0 430.5 646.0)" fill="#ad7352"/>
<ellipse cx="410.8" cy="648.7" rx="3.6" ry="3.4" transform="rotate(0 410.8 648.7)" fill="#ad7352"/>
<ellipse cx="445.0" cy="651.3" rx="3.4" ry="2.9" transform="rotate(0 445.0 651.3)" fill="#ad7352"/>
<ellipse cx="436.4" cy="653.3" rx="3.1" ry="2.9" transform="rotate(0 436.4 653.3)" fill="#ad7352"/>
<ellipse cx="454.1" cy="655.2" rx="3.0" ry="3.0" transform="rotate(0 454.1 655.2)" fill="#ad7352"/>
<ellipse cx="463.3" cy="660.5" rx="3.1" ry="4.3" transform="rotate(0 463.3 660.5)" fill="#ad7352"/>
<ellipse cx="441.0" cy="665.8" rx="3.6" ry="5.5" transform="rotate(-30 441.0 665.8)" fill="#ad7352"/>
<ellipse cx="420.0" cy="663.8" rx="3.6" ry="3.6" transform="rotate(0 420.0 663.8)" fill="#ad7352"/>
<ellipse cx="427.2" cy="661.8" rx="3.0" ry="3.0" transform="rotate(0 427.2 661.8)" fill="#ad7352"/>
<ellipse cx="405.5" cy="669.7" rx="4.8" ry="3.8" transform="rotate(10 405.5 669.7)" fill="#ad7352"/>
<ellipse cx="421.3" cy="680.2" rx="4.6" ry="4.1" transform="rotate(0 421.3 680.2)" fill="#ad7352"/>
<ellipse cx="451.5" cy="681.5" rx="4.8" ry="3.6" transform="rotate(0 451.5 681.5)" fill="#ad7352"/>
<ellipse cx="408.1" cy="680.2" rx="3.0" ry="3.0" transform="rotate(0 408.1 680.2)" fill="#ad7352"/>
<ellipse cx="426.5" cy="623.7" rx="4.3" ry="3.6" transform="rotate(0 426.5 623.7)" fill="#ad7352"/>
<ellipse cx="434.4" cy="618.5" rx="5.3" ry="3.1" transform="rotate(10 434.4 618.5)" fill="#ad7352"/>
<ellipse cx="423.3" cy="617.1" rx="3.6" ry="3.1" transform="rotate(0 423.3 617.1)" fill="#ad7352"/>
<ellipse cx="445.0" cy="625.0" rx="3.6" ry="3.6" transform="rotate(0 445.0 625.0)" fill="#ad7352"/>
<ellipse cx="455.4" cy="613.2" rx="4.8" ry="4.1" transform="rotate(0 455.4 613.2)" fill="#ad7352"/>
<ellipse cx="468.6" cy="613.2" rx="3.6" ry="3.4" transform="rotate(0 468.6 613.2)" fill="#ad7352"/>
<ellipse cx="476.5" cy="618.5" rx="3.6" ry="3.8" transform="rotate(0 476.5 618.5)" fill="#ad7352"/>
<ellipse cx="473.8" cy="625.0" rx="3.0" ry="3.0" transform="rotate(0 473.8 625.0)" fill="#ad7352"/>
<ellipse cx="469.2" cy="636.9" rx="3.0" ry="3.0" transform="rotate(0 469.2 636.9)" fill="#ad7352"/>
<ellipse cx="477.8" cy="652.6" rx="3.6" ry="4.1" transform="rotate(0 477.8 652.6)" fill="#ad7352"/>
<ellipse cx="473.8" cy="668.4" rx="3.6" ry="3.1" transform="rotate(0 473.8 668.4)" fill="#ad7352"/>
<ellipse cx="466.0" cy="672.3" rx="3.6" ry="3.6" transform="rotate(0 466.0 672.3)" fill="#ad7352"/>
<ellipse cx="458.1" cy="686.8" rx="3.0" ry="2.6" transform="rotate(0 458.1 686.8)" fill="#ad7352"/>
<ellipse cx="437.0" cy="676.3" rx="3.0" ry="3.0" transform="rotate(0 437.0 676.3)" fill="#ad7352"/>
<ellipse cx="412.1" cy="636.9" rx="2.4" ry="2.4" transform="rotate(0 412.1 636.9)" fill="#ad7352"/>
<ellipse cx="414.7" cy="627.7" rx="2.4" ry="2.4" transform="rotate(0 414.7 627.7)" fill="#ad7352"/>
<ellipse cx="399.0" cy="651.3" rx="3.0" ry="3.6" transform="rotate(0 399.0 651.3)" fill="#ad7352"/>
<ellipse cx="401.6" cy="660.5" rx="2.4" ry="2.4" transform="rotate(0 401.6 660.5)" fill="#ad7352"/>
<ellipse cx="404.2" cy="618.5" rx="3.0" ry="3.0" transform="rotate(0 404.2 618.5)" fill="#ad7352"/>
<ellipse cx="400.3" cy="610.6" rx="3.0" ry="3.0" transform="rotate(0 400.3 610.6)" fill="#ad7352"/>
<ellipse cx="427.9" cy="688.1" rx="2.4" ry="2.4" transform="rotate(0 427.9 688.1)" fill="#ad7352"/>
<ellipse cx="438.4" cy="682.8" rx="2.4" ry="2.4" transform="rotate(0 438.4 682.8)" fill="#ad7352"/>
<ellipse cx="460.7" cy="643.4" rx="2.4" ry="2.4" transform="rotate(0 460.7 643.4)" fill="#ad7352"/>
<ellipse cx="449.5" cy="642.1" rx="1.9" ry="1.9" transform="rotate(0 449.5 642.1)" fill="#ad7352"/>
<ellipse cx="417.0" cy="655.0" rx="1.8" ry="1.8" transform="rotate(0 417.0 655.0)" fill="#ad7352"/>
<ellipse cx="462.0" cy="622.0" rx="1.9" ry="1.9" transform="rotate(0 462.0 622.0)" fill="#ad7352"/>
<ellipse cx="479.0" cy="635.0" rx="2.4" ry="2.9" transform="rotate(0 479.0 635.0)" fill="#ad7352"/>
<ellipse cx="468.0" cy="648.0" rx="1.8" ry="1.8" transform="rotate(0 468.0 648.0)" fill="#ad7352"/>
</g>
<g clip-path="url(#colc)" opacity="0.55"><rect x="397.0" y="607.0" width="84.0" height="83.6" fill="#000" filter="url(#grc)"/></g>
</g>
<g clip-path="url(#ic10)">
<rect x="484.2" y="607.0" width="84.3" height="83.6" fill="#7e4d4c"/>
<rect x="484.2" y="607.0" width="84.3" height="83.6" fill="#000" filter="url(#gr10)"/>
<g filter="url(#pb)" opacity="0.60">
<ellipse cx="530.0" cy="630.0" rx="3.0" ry="3.0" transform="rotate(0 530.0 630.0)" fill="#502634"/>
<ellipse cx="545.0" cy="627.0" rx="4.0" ry="5.0" transform="rotate(0 545.0 627.0)" fill="#502634"/>
<ellipse cx="515.0" cy="633.0" rx="5.0" ry="5.0" transform="rotate(0 515.0 633.0)" fill="#502634"/>
<ellipse cx="545.0" cy="648.0" rx="8.0" ry="7.0" transform="rotate(0 545.0 648.0)" fill="#502634"/>
<ellipse cx="548.0" cy="663.0" rx="5.0" ry="3.5" transform="rotate(0 548.0 663.0)" fill="#502634"/>
<ellipse cx="518.0" cy="680.0" rx="7.0" ry="5.0" transform="rotate(0 518.0 680.0)" fill="#502634"/>
<ellipse cx="555.0" cy="683.0" rx="3.0" ry="3.0" transform="rotate(0 555.0 683.0)" fill="#502634"/>
<ellipse cx="487.0" cy="684.0" rx="4.0" ry="4.0" transform="rotate(0 487.0 684.0)" fill="#502634"/>
<ellipse cx="560.0" cy="640.0" rx="3.0" ry="4.0" transform="rotate(0 560.0 640.0)" fill="#502634"/>
<path d="M521.2 614.4 522.1 613.3 523.7 612.6 525.6 612.1 527.4 612.0 529.3 612.2 531.5 612.7 533.4 613.4 534.9 614.4 535.8 615.8 536.3 617.5 536.4 619.2 536.1 620.6 535.3 621.6 534.1 622.3 532.7 622.8 531.1 623.1 529.3 623.2 527.2 623.1 525.3 622.7 523.7 621.9 522.5 620.3 521.6 618.2 521.1 616.1Z" fill="#502634"/>
<path d="M491.4 618.2 493.0 617.2 495.0 616.5 497.1 616.4 498.9 616.9 500.3 618.3 501.6 620.5 502.7 623.1 503.9 625.6 505.1 628.1 506.2 630.9 507.4 633.4 508.8 635.5 510.6 637.1 512.6 638.3 514.5 639.1 516.3 639.3 517.7 638.5 518.9 636.8 520.0 635.1 521.2 634.3 522.7 634.5 524.3 635.3 525.7 636.5 526.2 638.0 525.7 639.9 524.4 642.1 522.8 644.5 521.2 646.7 519.7 648.7 518.0 650.6 516.4 652.4 515.0 654.1 514.0 655.8 513.1 657.4 512.3 658.9 511.3 660.3 510.0 661.7 508.4 663.1 506.8 664.3 505.1 665.3 503.2 666.0 501.2 666.6 499.2 666.8 497.6 666.6 496.2 665.9 495.0 664.6 494.1 663.2 493.9 661.6 494.7 659.9 496.3 658.0 498.0 656.0 498.9 654.1 498.9 652.2 498.3 650.2 497.5 648.4 496.4 646.7 495.1 645.3 493.4 644.2 491.7 643.1 490.2 641.7 489.0 640.0 487.8 638.2 486.9 636.3 486.5 634.3 486.7 632.2 487.4 630.0 488.2 627.7 489.0 625.6 489.5 623.5 489.9 621.4 490.4 619.6Z" fill="#502634"/>
</g>
</g>
<g clip-path="url(#ic20)">
<rect x="571.8" y="607.0" width="84.4" height="83.6" fill="#7e4d4c"/>
<ellipse cx="636.0" cy="614.0" rx="20.0" ry="7.0" transform="rotate(0 636.0 614.0)" fill="#8a5552" opacity="0.90" filter="url(#pb)"/>
<ellipse cx="576.0" cy="622.0" rx="6.0" ry="10.0" transform="rotate(0 576.0 622.0)" fill="#86524f" opacity="0.80" filter="url(#pb)"/>
<rect x="571.8" y="607.0" width="84.4" height="83.6" fill="#000" filter="url(#gr20)"/>
<g filter="url(#pb)" opacity="0.60">
<ellipse cx="625.0" cy="645.0" rx="5.0" ry="4.5" transform="rotate(0 625.0 645.0)" fill="#502634"/>
<ellipse cx="644.0" cy="636.0" rx="4.5" ry="6.5" transform="rotate(0 644.0 636.0)" fill="#502634"/>
<ellipse cx="638.0" cy="672.0" rx="5.0" ry="4.5" transform="rotate(0 638.0 672.0)" fill="#502634"/>
<ellipse cx="612.0" cy="660.0" rx="3.0" ry="3.0" transform="rotate(0 612.0 660.0)" fill="#502634"/>
<ellipse cx="655.0" cy="655.0" rx="3.0" ry="5.0" transform="rotate(0 655.0 655.0)" fill="#502634"/>
<ellipse cx="620.0" cy="628.0" rx="3.0" ry="3.0" transform="rotate(0 620.0 628.0)" fill="#502634"/>
<ellipse cx="585.0" cy="625.0" rx="3.0" ry="3.0" transform="rotate(0 585.0 625.0)" fill="#502634"/>
<path d="M575.3 640.8 576.7 640.2 578.7 640.5 581.0 641.2 583.1 642.1 585.1 643.1 587.2 644.4 589.2 645.9 591.0 647.4 592.5 649.0 593.7 650.6 594.9 652.3 596.3 653.9 598.0 655.2 599.8 656.5 601.6 657.7 602.9 659.2 603.7 661.0 604.1 663.0 604.3 665.1 604.2 667.1 603.9 669.1 603.3 671.2 602.4 673.2 601.5 675.0 600.4 676.8 599.1 678.5 597.8 679.9 596.3 680.9 594.6 681.5 592.6 681.8 590.8 681.5 589.7 680.3 589.6 677.7 590.2 674.1 590.9 670.2 591.0 667.1 590.5 664.9 589.5 663.2 588.4 661.8 587.1 660.5 585.6 659.4 583.9 658.5 582.1 657.6 580.5 656.6 579.0 655.5 577.5 654.4 576.2 653.0 575.3 651.3 574.8 648.8 574.5 645.6 574.6 642.7Z" fill="#502634"/>
</g>
</g>
<g clip-path="url(#ic01)">
<rect x="397.0" y="693.8" width="84.0" height="84.2" fill="#7e4d4c"/>
<ellipse cx="470.0" cy="720.0" rx="9.0" ry="18.0" transform="rotate(0 470.0 720.0)" fill="#703642" opacity="0.75" filter="url(#pb)"/>
<rect x="397.0" y="693.8" width="84.0" height="84.2" fill="#000" filter="url(#gr01)"/>
<g filter="url(#pb)" opacity="0.60">
<ellipse cx="409.0" cy="723.0" rx="6.0" ry="8.0" transform="rotate(20 409.0 723.0)" fill="#502634"/>
<ellipse cx="424.0" cy="742.0" rx="7.0" ry="8.0" transform="rotate(0 424.0 742.0)" fill="#502634"/>
<ellipse cx="446.0" cy="708.0" rx="4.0" ry="6.0" transform="rotate(0 446.0 708.0)" fill="#502634"/>
<ellipse cx="438.0" cy="757.0" rx="5.0" ry="5.5" transform="rotate(0 438.0 757.0)" fill="#502634"/>
<ellipse cx="415.0" cy="757.0" rx="3.0" ry="3.0" transform="rotate(0 415.0 757.0)" fill="#502634"/>
<ellipse cx="425.0" cy="711.0" rx="3.5" ry="4.0" transform="rotate(0 425.0 711.0)" fill="#502634"/>
<ellipse cx="402.0" cy="705.0" rx="3.0" ry="4.0" transform="rotate(0 402.0 705.0)" fill="#502634"/>
<ellipse cx="458.0" cy="764.0" rx="4.0" ry="3.0" transform="rotate(0 458.0 764.0)" fill="#502634"/>
<ellipse cx="420.0" cy="772.0" rx="4.0" ry="3.0" transform="rotate(0 420.0 772.0)" fill="#502634"/>
<path d="M434.4 726.0 435.4 724.7 436.8 723.8 438.3 723.2 440.0 722.9 441.8 722.8 443.9 723.0 445.9 723.4 448.0 724.0 450.1 724.7 452.4 725.6 454.4 726.7 456.0 728.0 457.1 729.7 457.7 731.7 458.1 733.8 458.1 736.0 457.7 738.2 457.0 740.6 456.0 742.9 455.0 745.0 454.0 747.1 452.8 749.1 451.5 750.8 450.0 751.8 448.2 752.1 446.1 751.7 443.9 750.9 442.0 750.0 440.3 748.9 438.7 747.5 437.2 745.8 436.0 744.0 434.9 742.0 434.0 739.7 433.4 737.3 433.0 735.0 432.9 732.6 433.2 730.1 433.7 727.8Z" fill="#502634"/>
</g>
</g>
<g clip-path="url(#ic11)">
<rect x="484.2" y="693.8" width="84.3" height="84.2" fill="#7e4d4c"/>
<rect x="484.2" y="693.8" width="84.3" height="84.2" fill="#000" filter="url(#gr11)"/>
<g filter="url(#pb)" opacity="0.50">
<ellipse cx="532.5" cy="721.0" rx="5.0" ry="5.0" transform="rotate(0 532.5 721.0)" fill="#502634"/>
<ellipse cx="536.0" cy="746.0" rx="4.0" ry="3.5" transform="rotate(0 536.0 746.0)" fill="#502634"/>
<ellipse cx="545.0" cy="757.0" rx="5.0" ry="4.5" transform="rotate(0 545.0 757.0)" fill="#502634"/>
<ellipse cx="496.0" cy="731.0" rx="4.0" ry="3.5" transform="rotate(0 496.0 731.0)" fill="#502634"/>
<ellipse cx="500.0" cy="704.0" rx="4.0" ry="3.5" transform="rotate(0 500.0 704.0)" fill="#502634"/>
<ellipse cx="555.0" cy="721.0" rx="3.5" ry="4.5" transform="rotate(0 555.0 721.0)" fill="#502634"/>
<ellipse cx="515.0" cy="740.0" rx="3.0" ry="3.0" transform="rotate(0 515.0 740.0)" fill="#502634"/>
<ellipse cx="490.0" cy="760.0" rx="3.0" ry="3.0" transform="rotate(0 490.0 760.0)" fill="#502634"/>
<ellipse cx="522.0" cy="700.0" rx="3.0" ry="2.5" transform="rotate(0 522.0 700.0)" fill="#502634"/>
</g>
</g>
<g clip-path="url(#ic21)">
<rect x="571.8" y="693.8" width="84.4" height="84.2" fill="#825052"/>
<rect x="571.8" y="693.8" width="84.4" height="84.2" fill="#000" filter="url(#gr21)"/>
<g filter="url(#pb)" opacity="0.40">
<ellipse cx="583.0" cy="709.0" rx="4.0" ry="3.0" transform="rotate(0 583.0 709.0)" fill="#502634"/>
<ellipse cx="600.0" cy="750.0" rx="3.0" ry="3.0" transform="rotate(0 600.0 750.0)" fill="#502634"/>
<ellipse cx="640.0" cy="740.0" rx="3.0" ry="3.0" transform="rotate(0 640.0 740.0)" fill="#502634"/>
<ellipse cx="620.0" cy="725.0" rx="3.0" ry="2.5" transform="rotate(0 620.0 725.0)" fill="#502634"/>
<ellipse cx="650.0" cy="705.0" rx="2.5" ry="2.5" transform="rotate(0 650.0 705.0)" fill="#502634"/>
</g>
</g>
<line x1="646.5" y1="774.4" x2="655" y2="774.4" stroke="#ffffff" stroke-width="1.3"/>
<line x1="456.6" y1="787.4" x2="456.6" y2="951.6" stroke="#111" stroke-width="1.3"/>
<line x1="450.4" y1="951.6" x2="621.6" y2="951.6" stroke="#111" stroke-width="1.3"/>
<line x1="450.4" y1="951.6" x2="456.6" y2="951.6" stroke="#111" stroke-width="1.2"/>
<text x="447.2" y="955.8" font-size="12.3" text-anchor="end" fill="#1a1a1a">0.75</text>
<line x1="450.4" y1="897" x2="456.6" y2="897" stroke="#111" stroke-width="1.2"/>
<text x="447.2" y="901.2" font-size="12.3" text-anchor="end" fill="#1a1a1a">1.00</text>
<line x1="450.4" y1="842.4" x2="456.6" y2="842.4" stroke="#111" stroke-width="1.2"/>
<text x="447.2" y="846.6" font-size="12.3" text-anchor="end" fill="#1a1a1a">1.25</text>
<line x1="450.4" y1="787.8" x2="456.6" y2="787.8" stroke="#111" stroke-width="1.2"/>
<text x="447.2" y="792" font-size="12.3" text-anchor="end" fill="#1a1a1a">1.50</text>
<rect x="465" y="925.83" width="15.2" height="25.77" fill="#a2a2a2"/>
<line x1="472.6" y1="924.74" x2="472.6" y2="926.92" stroke="#111" stroke-width="1.2"/>
<line x1="469" y1="924.74" x2="476.2" y2="924.74" stroke="#111" stroke-width="1.2"/>
<line x1="469" y1="926.92" x2="476.2" y2="926.92" stroke="#111" stroke-width="1.2"/>
<rect x="488.4" y="907.7" width="15.2" height="43.9" fill="#f19f40"/>
<line x1="496" y1="902.9" x2="496" y2="912.51" stroke="#111" stroke-width="1.2"/>
<line x1="492.4" y1="902.9" x2="499.6" y2="902.9" stroke="#111" stroke-width="1.2"/>
<line x1="492.4" y1="912.51" x2="499.6" y2="912.51" stroke="#111" stroke-width="1.2"/>
<rect x="512.2" y="896.56" width="15.2" height="55.04" fill="#039ce6"/>
<line x1="519.8" y1="888.48" x2="519.8" y2="904.64" stroke="#111" stroke-width="1.2"/>
<line x1="516.2" y1="888.48" x2="523.4" y2="888.48" stroke="#111" stroke-width="1.2"/>
<line x1="516.2" y1="904.64" x2="523.4" y2="904.64" stroke="#111" stroke-width="1.2"/>
<rect x="551" y="907.7" width="15.2" height="43.9" fill="#a2a2a2"/>
<line x1="558.6" y1="905.3" x2="558.6" y2="910.1" stroke="#111" stroke-width="1.2"/>
<line x1="555" y1="905.3" x2="562.2" y2="905.3" stroke="#111" stroke-width="1.2"/>
<line x1="555" y1="910.1" x2="562.2" y2="910.1" stroke="#111" stroke-width="1.2"/>
<rect x="574.7" y="869.04" width="15.2" height="82.56" fill="#f19f40"/>
<line x1="582.3" y1="865.77" x2="582.3" y2="872.32" stroke="#111" stroke-width="1.2"/>
<line x1="578.7" y1="865.77" x2="585.9" y2="865.77" stroke="#111" stroke-width="1.2"/>
<line x1="578.7" y1="872.32" x2="585.9" y2="872.32" stroke="#111" stroke-width="1.2"/>
<rect x="598" y="856.81" width="15.2" height="94.79" fill="#039ce6"/>
<line x1="605.6" y1="854.19" x2="605.6" y2="859.44" stroke="#111" stroke-width="1.2"/>
<line x1="602" y1="854.19" x2="609.2" y2="854.19" stroke="#111" stroke-width="1.2"/>
<line x1="602" y1="859.44" x2="609.2" y2="859.44" stroke="#111" stroke-width="1.2"/>
<line x1="495.6" y1="951.6" x2="495.6" y2="958.4" stroke="#111" stroke-width="1.2"/>
<line x1="582.2" y1="951.6" x2="582.2" y2="958.4" stroke="#111" stroke-width="1.2"/>
<text x="489.5" y="970.2" font-size="12.3" text-anchor="middle" fill="#1a1a1a">PlaB</text>
<text x="582.4" y="970.2" font-size="12.3" text-anchor="middle" fill="#1a1a1a">TSA</text>
<line x1="470.2" y1="881" x2="496" y2="881" stroke="#555" stroke-width="1.3"/>
<text x="481.6" y="880.4" font-size="12.6" text-anchor="middle" fill="#555">*</text>
<line x1="470.2" y1="862.4" x2="519.1" y2="862.4" stroke="#555" stroke-width="1.3"/>
<text x="494.65" y="861.8" font-size="12.6" text-anchor="middle" fill="#555">***</text>
<line x1="555.6" y1="846.2" x2="581.6" y2="846.2" stroke="#555" stroke-width="1.3"/>
<text x="568.6" y="845.6" font-size="12.6" text-anchor="middle" fill="#555">****</text>
<line x1="556.5" y1="826.6" x2="604.7" y2="826.6" stroke="#555" stroke-width="1.3"/>
<text x="580.6" y="826" font-size="12.6" text-anchor="middle" fill="#555">****</text>
<rect x="618.9" y="784" width="17.4" height="8.7" fill="#a2a2a2"/>
<text x="646.4" y="792.7" font-size="12.3" fill="#1a1a1a">Wt</text>
<rect x="618.9" y="807.3" width="17.4" height="8.7" fill="#f19f40"/>
<text x="646.4" y="816" font-size="12.3" fill="#1a1a1a">L13</text>
<rect x="618.9" y="830" width="17.4" height="8.7" fill="#039ce6"/>
<text x="646.4" y="838.7" font-size="12.3" fill="#1a1a1a">L19</text>
<text transform="translate(407.4 871.8) rotate(-90)" font-size="12.4" text-anchor="middle" fill="#1a1a1a">Cell viability</text>
<text transform="translate(422.8 871.7) rotate(-90)" font-size="12.5" text-anchor="middle" fill="#1a1a1a">Absorbance (450 nm)</text>
</svg>
</body></html>
